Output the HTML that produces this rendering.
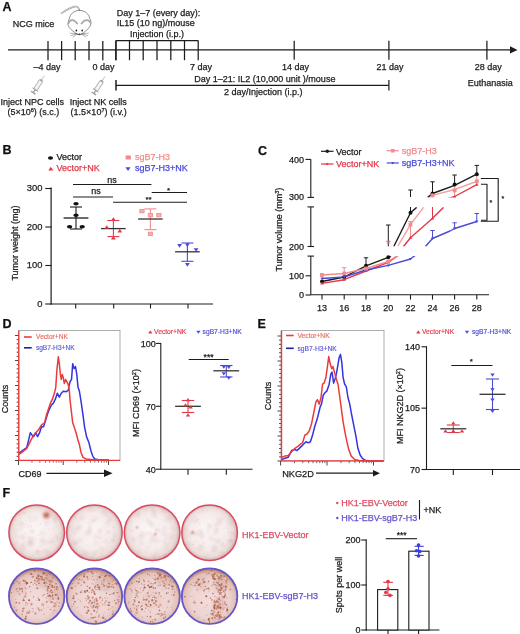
<!DOCTYPE html>
<html><head><meta charset="utf-8"><title>Figure</title>
<style>
html,body{margin:0;padding:0;background:#fff;}
svg{display:block;}
text{font-family:"Liberation Sans", Arial, sans-serif;}
</style></head>
<body>
<svg width="520" height="634" viewBox="0 0 520 634">
<rect width="520" height="634" fill="#fff"/>
<text x="2.60" y="11.30" font-size="12.5" fill="#111" stroke="#111" stroke-width="0.25" text-anchor="start" font-weight="bold" >A</text>
<text x="12.80" y="26.50" font-size="9" fill="#1c1c1c" stroke="#1c1c1c" stroke-width="0.25" text-anchor="start" font-weight="normal" >NCG mice</text>
<g fill="none" stroke="#8a8a8a" stroke-width="0.8" stroke-linecap="round">
<path d="M61.5,13.2 C65.5,10.6 70,7.6 74.5,6.6 C77,6.2 78.8,8 79.3,10.4" stroke="#999" stroke-width="1.6"/>
<path d="M61.5,13.2 C65.5,10.6 70,7.6 74.5,6.6 C77,6.2 78.8,8 79.3,10.4" stroke="#fff" stroke-width="0.5"/>
<path d="M79.3,10.3 C74,10.5 70,14 69.2,19 C68.5,21 67.6,23 68.2,25.5 C69,28 72,30.5 75.5,33 C77,34.3 78.3,34.6 79.3,34.6 C80.5,34.6 82,34 83.5,32.8 C86.5,30.5 89.5,28 90.6,25 C91.4,23 91,20.5 89.8,18.5 C89,14 85,10.3 79.3,10.3 Z" stroke="#6a6a6a" stroke-width="0.75" fill="#fff"/>
<path d="M68.6,23.3 C69.6,19.6 73.8,18.6 77.2,23.6" stroke="#a8a8a8" stroke-width="1.7"/>
<path d="M81.5,23.6 C84.9,18.6 89.1,19.6 90.3,22.6" stroke="#a8a8a8" stroke-width="1.7"/>
<path d="M76,33.6 L70.2,33.2 M76.2,34 L71,35.6 M76.6,34.3 L73,37 M82.6,33.6 L88.4,33.2 M82.4,34 L87.6,35.6 M82,34.3 L85.6,37" stroke="#555" stroke-width="0.45"/>
<path d="M76.5,33.6 C77.5,34.4 78.5,34.6 79.3,34.2 C80.1,34.6 81.1,34.4 82.1,33.6" stroke="#333" stroke-width="0.7"/>
</g>
<ellipse cx="76.4" cy="30.4" rx="0.85" ry="1" fill="#1a1a1a"/><ellipse cx="82.2" cy="30.4" rx="0.85" ry="1" fill="#1a1a1a"/>
<circle cx="79.30" cy="34.20" r="0.65" fill="#222"/>
<text x="116.70" y="16.00" font-size="9" fill="#1c1c1c" stroke="#1c1c1c" stroke-width="0.25" text-anchor="start" font-weight="normal" >Day 1–7 (every day):</text>
<text x="116.70" y="26.20" font-size="9" fill="#1c1c1c" stroke="#1c1c1c" stroke-width="0.25" text-anchor="start" font-weight="normal" >IL15 (10 ng)/mouse</text>
<text x="157.00" y="37.20" font-size="9" fill="#1c1c1c" stroke="#1c1c1c" stroke-width="0.25" text-anchor="middle" font-weight="normal" >Injection (i.p.)</text>
<line x1="8.00" y1="49.90" x2="511.00" y2="49.90" stroke="#1c1c1c" stroke-width="1.4" />
<polygon points="510,46.3 517.5,49.9 510,53.5" fill="#1c1c1c"/>
<line x1="48.00" y1="41.00" x2="48.00" y2="60.20" stroke="#1c1c1c" stroke-width="1.25" />
<line x1="61.60" y1="41.00" x2="61.60" y2="60.20" stroke="#1c1c1c" stroke-width="1.25" />
<line x1="75.20" y1="41.00" x2="75.20" y2="60.20" stroke="#1c1c1c" stroke-width="1.25" />
<line x1="89.00" y1="41.00" x2="89.00" y2="60.20" stroke="#1c1c1c" stroke-width="1.25" />
<line x1="102.80" y1="41.00" x2="102.80" y2="60.20" stroke="#1c1c1c" stroke-width="1.25" />
<line x1="116.00" y1="41.00" x2="116.00" y2="60.20" stroke="#1c1c1c" stroke-width="1.25" />
<line x1="115.80" y1="40.50" x2="198.20" y2="40.50" stroke="#1c1c1c" stroke-width="1.25" />
<line x1="115.80" y1="40.50" x2="115.80" y2="60.20" stroke="#1c1c1c" stroke-width="1.25" />
<line x1="129.50" y1="40.50" x2="129.50" y2="60.20" stroke="#1c1c1c" stroke-width="1.25" />
<line x1="143.20" y1="40.50" x2="143.20" y2="60.20" stroke="#1c1c1c" stroke-width="1.25" />
<line x1="157.00" y1="40.50" x2="157.00" y2="60.20" stroke="#1c1c1c" stroke-width="1.25" />
<line x1="170.80" y1="40.50" x2="170.80" y2="60.20" stroke="#1c1c1c" stroke-width="1.25" />
<line x1="184.50" y1="40.50" x2="184.50" y2="60.20" stroke="#1c1c1c" stroke-width="1.25" />
<line x1="198.20" y1="40.50" x2="198.20" y2="60.20" stroke="#1c1c1c" stroke-width="1.25" />
<line x1="294.20" y1="40.80" x2="294.20" y2="59.80" stroke="#1c1c1c" stroke-width="1.25" />
<line x1="388.90" y1="40.80" x2="388.90" y2="59.80" stroke="#1c1c1c" stroke-width="1.25" />
<line x1="486.90" y1="40.80" x2="486.90" y2="59.80" stroke="#1c1c1c" stroke-width="1.25" />
<text x="47.00" y="69.60" font-size="9" fill="#1c1c1c" stroke="#1c1c1c" stroke-width="0.25" text-anchor="middle" font-weight="normal" >–4 day</text>
<text x="103.50" y="69.60" font-size="9" fill="#1c1c1c" stroke="#1c1c1c" stroke-width="0.25" text-anchor="middle" font-weight="normal" >0 day</text>
<text x="201.00" y="69.60" font-size="9" fill="#1c1c1c" stroke="#1c1c1c" stroke-width="0.25" text-anchor="middle" font-weight="normal" >7 day</text>
<text x="295.60" y="69.60" font-size="9" fill="#1c1c1c" stroke="#1c1c1c" stroke-width="0.25" text-anchor="middle" font-weight="normal" >14 day</text>
<text x="390.00" y="69.60" font-size="9" fill="#1c1c1c" stroke="#1c1c1c" stroke-width="0.25" text-anchor="middle" font-weight="normal" >21 day</text>
<text x="488.30" y="69.60" font-size="9" fill="#1c1c1c" stroke="#1c1c1c" stroke-width="0.25" text-anchor="middle" font-weight="normal" >28 day</text>
<text x="490.30" y="86.00" font-size="9" fill="#1c1c1c" stroke="#1c1c1c" stroke-width="0.25" text-anchor="middle" font-weight="normal" >Euthanasia</text>
<line x1="116.00" y1="85.40" x2="388.90" y2="85.40" stroke="#1c1c1c" stroke-width="1.1" />
<line x1="116.00" y1="80.00" x2="116.00" y2="90.60" stroke="#1c1c1c" stroke-width="1.5" />
<line x1="388.90" y1="80.00" x2="388.90" y2="90.60" stroke="#1c1c1c" stroke-width="1.2" />
<text x="194.30" y="82.10" font-size="9" fill="#1c1c1c" stroke="#1c1c1c" stroke-width="0.25" text-anchor="start" font-weight="normal" >Day 1–21: IL2 (10,000 unit )/mouse</text>
<text x="263.20" y="95.40" font-size="9" fill="#1c1c1c" stroke="#1c1c1c" stroke-width="0.25" text-anchor="middle" font-weight="normal" >2 day/Injection (i.p.)</text>
<line x1="44.30" y1="75.80" x2="41.83" y2="79.56" stroke="#b0b0b0" stroke-width="0.8" />
<polygon points="42.66,80.11 42.51,81.80 39.50,79.83 40.99,79.01" fill="#9a9a9a"/>
<polygon points="42.59,81.86 36.83,90.63 33.65,88.55 39.42,79.77" fill="#f4f4f4" stroke="#9a9a9a" stroke-width="0.8"/>
<line x1="37.91" y1="91.35" x2="32.57" y2="87.83" stroke="#9a9a9a" stroke-width="1" />
<line x1="35.24" y1="89.59" x2="33.32" y2="92.52" stroke="#9a9a9a" stroke-width="1.2" />
<line x1="35.38" y1="94.11" x2="31.04" y2="91.25" stroke="#9a9a9a" stroke-width="1.3" />
<line x1="104.90" y1="76.60" x2="102.43" y2="80.36" stroke="#b0b0b0" stroke-width="0.8" />
<polygon points="103.26,80.91 103.11,82.60 100.10,80.63 101.59,79.81" fill="#9a9a9a"/>
<polygon points="103.19,82.66 97.43,91.43 94.25,89.35 100.02,80.57" fill="#f4f4f4" stroke="#9a9a9a" stroke-width="0.8"/>
<line x1="98.51" y1="92.15" x2="93.17" y2="88.63" stroke="#9a9a9a" stroke-width="1" />
<line x1="95.84" y1="90.39" x2="93.92" y2="93.32" stroke="#9a9a9a" stroke-width="1.2" />
<line x1="95.98" y1="94.91" x2="91.64" y2="92.05" stroke="#9a9a9a" stroke-width="1.3" />
<text x="32.30" y="105.00" font-size="9" fill="#1c1c1c" stroke="#1c1c1c" stroke-width="0.25" text-anchor="middle" font-weight="normal" >Inject NPC cells</text>
<text x="33.40" y="114.60" font-size="9" fill="#1c1c1c" stroke="#1c1c1c" stroke-width="0.25" text-anchor="middle" font-weight="normal" >(5×10<tspan font-size="5.5" dy="-3">6</tspan><tspan dy="3">) (s.c.)</tspan></text>
<text x="98.30" y="105.00" font-size="9" fill="#1c1c1c" stroke="#1c1c1c" stroke-width="0.25" text-anchor="middle" font-weight="normal" >Inject NK cells</text>
<text x="98.70" y="114.60" font-size="9" fill="#1c1c1c" stroke="#1c1c1c" stroke-width="0.25" text-anchor="middle" font-weight="normal" >(1.5×10<tspan font-size="5.5" dy="-3">7</tspan><tspan dy="3">) (i.v.)</tspan></text>
<text x="2.60" y="153.80" font-size="12.5" fill="#111" stroke="#111" stroke-width="0.25" text-anchor="start" font-weight="bold" >B</text>
<ellipse cx="50.50" cy="158.00" rx="2.56" ry="1.72" fill="#111"/>
<text x="56.50" y="159.90" font-size="9" fill="#1c1c1c" stroke="#1c1c1c" stroke-width="0.25" text-anchor="start" font-weight="normal" >Vector</text>
<polygon points="50.80,166.78 48.30,170.48 53.30,170.48" fill="#e2394a"/>
<text x="56.50" y="171.30" font-size="9" fill="#e2394a" stroke="#e2394a" stroke-width="0.25" text-anchor="start" font-weight="normal" >Vector+NK</text>
<rect x="126.02" y="155.92" width="4.56" height="3.17" fill="#f08c8e" stroke="#f08c8e" stroke-width="0.8"/>
<text x="135.00" y="159.60" font-size="9" fill="#f08c8e" stroke="#f08c8e" stroke-width="0.25" text-anchor="start" font-weight="normal" >sgB7-H3</text>
<polygon points="128.00,171.01 125.40,167.16 130.60,167.16" fill="#4b4bd8"/>
<text x="135.00" y="170.80" font-size="9" fill="#4b4bd8" stroke="#4b4bd8" stroke-width="0.25" text-anchor="start" font-weight="normal" >sgB7-H3+NK</text>
<line x1="51.10" y1="187.50" x2="51.10" y2="304.50" stroke="#1c1c1c" stroke-width="1.2" />
<line x1="50.60" y1="304.00" x2="213.00" y2="304.00" stroke="#1c1c1c" stroke-width="1.2" />
<line x1="45.30" y1="304.00" x2="51.50" y2="304.00" stroke="#1c1c1c" stroke-width="1.1" />
<text x="42.40" y="306.60" font-size="9.4" fill="#1c1c1c" stroke="#1c1c1c" stroke-width="0.25" text-anchor="end" font-weight="normal" >0</text>
<line x1="45.30" y1="265.50" x2="51.50" y2="265.50" stroke="#1c1c1c" stroke-width="1.1" />
<text x="42.40" y="268.10" font-size="9.4" fill="#1c1c1c" stroke="#1c1c1c" stroke-width="0.25" text-anchor="end" font-weight="normal" >100</text>
<line x1="45.30" y1="227.00" x2="51.50" y2="227.00" stroke="#1c1c1c" stroke-width="1.1" />
<text x="42.40" y="229.60" font-size="9.4" fill="#1c1c1c" stroke="#1c1c1c" stroke-width="0.25" text-anchor="end" font-weight="normal" >200</text>
<line x1="45.30" y1="188.50" x2="51.50" y2="188.50" stroke="#1c1c1c" stroke-width="1.1" />
<text x="42.40" y="191.10" font-size="9.4" fill="#1c1c1c" stroke="#1c1c1c" stroke-width="0.25" text-anchor="end" font-weight="normal" >300</text>
<line x1="75.70" y1="304.00" x2="75.70" y2="308.50" stroke="#1c1c1c" stroke-width="1.1" />
<line x1="113.70" y1="304.00" x2="113.70" y2="308.50" stroke="#1c1c1c" stroke-width="1.1" />
<line x1="150.50" y1="304.00" x2="150.50" y2="308.50" stroke="#1c1c1c" stroke-width="1.1" />
<line x1="188.00" y1="304.00" x2="188.00" y2="308.50" stroke="#1c1c1c" stroke-width="1.1" />
<text x="0.00" y="0.00" font-size="9" fill="#1c1c1c" stroke="#1c1c1c" stroke-width="0.25" text-anchor="middle" font-weight="normal" transform="translate(17.9,243) rotate(-90)">Tumor weight (mg)</text>
<line x1="73.00" y1="184.50" x2="151.40" y2="184.50" stroke="#1c1c1c" stroke-width="1.1" />
<text x="112.00" y="183.20" font-size="9" fill="#1c1c1c" stroke="#1c1c1c" stroke-width="0.25" text-anchor="middle" font-weight="normal" >ns</text>
<line x1="73.00" y1="197.00" x2="113.00" y2="197.00" stroke="#1c1c1c" stroke-width="1.1" />
<text x="96.00" y="193.60" font-size="9" fill="#1c1c1c" stroke="#1c1c1c" stroke-width="0.25" text-anchor="middle" font-weight="normal" >ns</text>
<line x1="151.70" y1="192.50" x2="187.00" y2="192.50" stroke="#1c1c1c" stroke-width="1.1" />
<text x="168.50" y="193.20" font-size="8" fill="#1c1c1c" stroke="#1c1c1c" stroke-width="0.25" text-anchor="middle" font-weight="normal" >*</text>
<line x1="113.00" y1="202.30" x2="187.00" y2="202.30" stroke="#1c1c1c" stroke-width="1.1" />
<text x="148.50" y="201.80" font-size="8" fill="#1c1c1c" stroke="#1c1c1c" stroke-width="0.25" text-anchor="middle" font-weight="normal" >**</text>
<line x1="76.00" y1="207.00" x2="76.00" y2="229.00" stroke="#1c1c1c" stroke-width="1.1" />
<line x1="70.00" y1="207.00" x2="82.00" y2="207.00" stroke="#1c1c1c" stroke-width="1.1" />
<line x1="70.00" y1="229.00" x2="82.00" y2="229.00" stroke="#1c1c1c" stroke-width="1.1" />
<line x1="63.60" y1="218.00" x2="88.40" y2="218.00" stroke="#1c1c1c" stroke-width="1.3" />
<ellipse cx="76.00" cy="203.80" rx="2.68" ry="1.80" fill="#111"/>
<ellipse cx="76.00" cy="215.20" rx="2.68" ry="1.80" fill="#111"/>
<ellipse cx="69.60" cy="226.80" rx="2.68" ry="1.80" fill="#111"/>
<ellipse cx="82.20" cy="226.80" rx="2.68" ry="1.80" fill="#111"/>
<line x1="113.40" y1="220.50" x2="113.40" y2="236.60" stroke="#e2394a" stroke-width="1.1" />
<line x1="107.40" y1="220.50" x2="119.40" y2="220.50" stroke="#e2394a" stroke-width="1.1" />
<line x1="107.40" y1="236.60" x2="119.40" y2="236.60" stroke="#e2394a" stroke-width="1.1" />
<line x1="101.10" y1="228.60" x2="125.70" y2="228.60" stroke="#333" stroke-width="1.3" />
<polygon points="113.40,217.17 111.00,220.72 115.80,220.72" fill="#e2394a"/>
<polygon points="106.80,225.27 104.40,228.82 109.20,228.82" fill="#e2394a"/>
<polygon points="119.80,228.87 117.40,232.42 122.20,232.42" fill="#e2394a"/>
<polygon points="113.40,235.87 111.00,239.42 115.80,239.42" fill="#e2394a"/>
<line x1="150.40" y1="208.90" x2="150.40" y2="229.60" stroke="#f08c8e" stroke-width="1.1" />
<line x1="144.40" y1="208.90" x2="156.40" y2="208.90" stroke="#f08c8e" stroke-width="1.1" />
<line x1="144.40" y1="229.60" x2="156.40" y2="229.60" stroke="#f08c8e" stroke-width="1.1" />
<line x1="138.10" y1="219.00" x2="162.70" y2="219.00" stroke="#333" stroke-width="1.3" />
<rect x="139.87" y="209.59" width="4.25" height="3.22" fill="#f6b0b0" stroke="#ec8a8c" stroke-width="0.8"/>
<rect x="148.27" y="213.59" width="4.25" height="3.22" fill="#f6b0b0" stroke="#ec8a8c" stroke-width="0.8"/>
<rect x="156.77" y="213.59" width="4.25" height="3.22" fill="#f6b0b0" stroke="#ec8a8c" stroke-width="0.8"/>
<rect x="148.27" y="232.19" width="4.25" height="3.22" fill="#f6b0b0" stroke="#ec8a8c" stroke-width="0.8"/>
<line x1="187.40" y1="243.00" x2="187.40" y2="261.30" stroke="#4b4bd8" stroke-width="1.1" />
<line x1="181.40" y1="243.00" x2="193.40" y2="243.00" stroke="#4b4bd8" stroke-width="1.1" />
<line x1="181.40" y1="261.30" x2="193.40" y2="261.30" stroke="#4b4bd8" stroke-width="1.1" />
<line x1="175.10" y1="251.80" x2="199.70" y2="251.80" stroke="#333" stroke-width="1.3" />
<polygon points="179.60,247.63 177.20,244.08 182.00,244.08" fill="#4b4bd8"/>
<polygon points="187.40,246.93 185.00,243.38 189.80,243.38" fill="#4b4bd8"/>
<polygon points="196.10,251.83 193.70,248.28 198.50,248.28" fill="#4b4bd8"/>
<polygon points="187.40,266.63 185.00,263.08 189.80,263.08" fill="#4b4bd8"/>
<text x="258.00" y="154.80" font-size="12.5" fill="#111" stroke="#111" stroke-width="0.25" text-anchor="start" font-weight="bold" >C</text>
<line x1="321.00" y1="151.30" x2="333.50" y2="151.30" stroke="#1c1c1c" stroke-width="1.2" />
<circle cx="327.25" cy="151.30" r="1.8" fill="#1c1c1c"/>
<text x="336.00" y="154.50" font-size="9" fill="#1c1c1c" stroke="#1c1c1c" stroke-width="0.25" text-anchor="start" font-weight="normal" >Vector</text>
<line x1="321.00" y1="164.00" x2="333.50" y2="164.00" stroke="#e2394a" stroke-width="1.2" />
<polygon points="327.25,162.49 325.55,165.01 328.95,165.01" fill="#e2394a"/>
<text x="336.00" y="167.20" font-size="9" fill="#e2394a" stroke="#e2394a" stroke-width="0.25" text-anchor="start" font-weight="normal" >Vector+NK</text>
<line x1="386.70" y1="150.70" x2="398.80" y2="150.70" stroke="#f08c8e" stroke-width="1.2" />
<rect x="391.35" y="149.30" width="2.80" height="2.80" fill="#f08c8e" stroke="#f08c8e" stroke-width="0.8"/>
<text x="401.70" y="153.90" font-size="9" fill="#f08c8e" stroke="#f08c8e" stroke-width="0.25" text-anchor="start" font-weight="normal" >sgB7-H3</text>
<line x1="386.70" y1="163.00" x2="398.80" y2="163.00" stroke="#4b4bd8" stroke-width="1.2" />
<polygon points="392.75,164.51 391.05,161.99 394.45,161.99" fill="#4b4bd8"/>
<text x="401.70" y="166.20" font-size="9" fill="#4b4bd8" stroke="#4b4bd8" stroke-width="0.25" text-anchor="start" font-weight="normal" >sgB7-H3+NK</text>
<line x1="310.80" y1="159.20" x2="310.80" y2="197.40" stroke="#1c1c1c" stroke-width="1.1" />
<line x1="310.80" y1="206.90" x2="310.80" y2="246.50" stroke="#1c1c1c" stroke-width="1.1" />
<line x1="310.80" y1="256.10" x2="310.80" y2="295.00" stroke="#1c1c1c" stroke-width="1.1" />
<line x1="305.50" y1="159.40" x2="310.80" y2="159.40" stroke="#1c1c1c" stroke-width="1.1" />
<text x="304.00" y="162.60" font-size="9" fill="#1c1c1c" stroke="#1c1c1c" stroke-width="0.25" text-anchor="end" font-weight="normal" >400</text>
<line x1="307.50" y1="197.40" x2="314.00" y2="197.40" stroke="#1c1c1c" stroke-width="1.1" />
<text x="304.00" y="199.90" font-size="9" fill="#1c1c1c" stroke="#1c1c1c" stroke-width="0.25" text-anchor="end" font-weight="normal" >300</text>
<line x1="307.50" y1="206.90" x2="314.00" y2="206.90" stroke="#1c1c1c" stroke-width="1.1" />
<line x1="307.50" y1="246.50" x2="314.00" y2="246.50" stroke="#1c1c1c" stroke-width="1.1" />
<text x="304.00" y="249.80" font-size="9" fill="#1c1c1c" stroke="#1c1c1c" stroke-width="0.25" text-anchor="end" font-weight="normal" >200</text>
<line x1="307.50" y1="256.10" x2="314.00" y2="256.10" stroke="#1c1c1c" stroke-width="1.1" />
<line x1="305.50" y1="275.80" x2="310.80" y2="275.80" stroke="#1c1c1c" stroke-width="1.1" />
<text x="304.00" y="279.00" font-size="9" fill="#1c1c1c" stroke="#1c1c1c" stroke-width="0.25" text-anchor="end" font-weight="normal" >100</text>
<line x1="305.50" y1="295.00" x2="310.80" y2="295.00" stroke="#1c1c1c" stroke-width="1.1" />
<text x="304.00" y="298.20" font-size="9" fill="#1c1c1c" stroke="#1c1c1c" stroke-width="0.25" text-anchor="end" font-weight="normal" >0</text>
<line x1="310.80" y1="294.80" x2="489.00" y2="294.80" stroke="#1c1c1c" stroke-width="1.1" />
<line x1="322.00" y1="294.80" x2="322.00" y2="299.60" stroke="#1c1c1c" stroke-width="1.1" />
<text x="322.00" y="310.80" font-size="9" fill="#1c1c1c" stroke="#1c1c1c" stroke-width="0.25" text-anchor="middle" font-weight="normal" >13</text>
<line x1="344.20" y1="294.80" x2="344.20" y2="299.60" stroke="#1c1c1c" stroke-width="1.1" />
<text x="344.20" y="310.80" font-size="9" fill="#1c1c1c" stroke="#1c1c1c" stroke-width="0.25" text-anchor="middle" font-weight="normal" >16</text>
<line x1="366.00" y1="294.80" x2="366.00" y2="299.60" stroke="#1c1c1c" stroke-width="1.1" />
<text x="366.00" y="310.80" font-size="9" fill="#1c1c1c" stroke="#1c1c1c" stroke-width="0.25" text-anchor="middle" font-weight="normal" >18</text>
<line x1="388.30" y1="294.80" x2="388.30" y2="299.60" stroke="#1c1c1c" stroke-width="1.1" />
<text x="388.30" y="310.80" font-size="9" fill="#1c1c1c" stroke="#1c1c1c" stroke-width="0.25" text-anchor="middle" font-weight="normal" >20</text>
<line x1="410.50" y1="294.80" x2="410.50" y2="299.60" stroke="#1c1c1c" stroke-width="1.1" />
<text x="410.50" y="310.80" font-size="9" fill="#1c1c1c" stroke="#1c1c1c" stroke-width="0.25" text-anchor="middle" font-weight="normal" >22</text>
<line x1="432.50" y1="294.80" x2="432.50" y2="299.60" stroke="#1c1c1c" stroke-width="1.1" />
<text x="432.50" y="310.80" font-size="9" fill="#1c1c1c" stroke="#1c1c1c" stroke-width="0.25" text-anchor="middle" font-weight="normal" >24</text>
<line x1="454.60" y1="294.80" x2="454.60" y2="299.60" stroke="#1c1c1c" stroke-width="1.1" />
<text x="454.60" y="310.80" font-size="9" fill="#1c1c1c" stroke="#1c1c1c" stroke-width="0.25" text-anchor="middle" font-weight="normal" >26</text>
<line x1="476.80" y1="294.80" x2="476.80" y2="299.60" stroke="#1c1c1c" stroke-width="1.1" />
<text x="476.80" y="310.80" font-size="9" fill="#1c1c1c" stroke="#1c1c1c" stroke-width="0.25" text-anchor="middle" font-weight="normal" >28</text>
<text x="0.00" y="0.00" font-size="9" fill="#1c1c1c" stroke="#1c1c1c" stroke-width="0.25" text-anchor="middle" font-weight="normal" transform="translate(282,229.6) rotate(-90)">Tumor volume (mm<tspan font-size="5.5" dy="-3">3</tspan><tspan dy="3">)</tspan></text>
<defs><clipPath id="s1"><rect x="312" y="150" width="200" height="47.4"/></clipPath><clipPath id="s2"><rect x="312" y="206.9" width="200" height="39.6"/></clipPath><clipPath id="s3"><rect x="312" y="256.1" width="200" height="45"/></clipPath></defs>
<g clip-path="url(#s3)">
<polyline points="322.00,281.50 344.20,277.00 366.00,265.80 388.30,257.30 395.00,253.00" stroke="#1c1c1c" stroke-width="1.4" fill="none" stroke-linejoin="round" />
<polyline points="322.00,283.40 344.20,279.70 366.00,271.00 388.30,262.40 400.00,254.00" stroke="#e2394a" stroke-width="1.4" fill="none" stroke-linejoin="round" />
<polyline points="322.00,275.00 344.20,273.50 366.00,268.50 388.30,261.50 400.00,254.00" stroke="#f08c8e" stroke-width="1.4" fill="none" stroke-linejoin="round" />
<polyline points="322.00,278.50 344.20,277.00 366.00,270.00 388.30,265.40 410.50,259.00 417.00,254.00" stroke="#4b4bd8" stroke-width="1.4" fill="none" stroke-linejoin="round" />
<line x1="344.20" y1="267.70" x2="344.20" y2="273.50" stroke="#f08c8e" stroke-width="1" />
<line x1="342.00" y1="267.70" x2="346.40" y2="267.70" stroke="#f08c8e" stroke-width="1" />
<line x1="366.00" y1="257.80" x2="366.00" y2="265.80" stroke="#1c1c1c" stroke-width="1" />
<line x1="363.80" y1="257.80" x2="368.20" y2="257.80" stroke="#1c1c1c" stroke-width="1" />
</g>
<circle cx="322.00" cy="281.50" r="2" fill="#111"/>
<circle cx="344.20" cy="277.00" r="2" fill="#111"/>
<circle cx="366.00" cy="265.80" r="2" fill="#111"/>
<circle cx="388.30" cy="257.30" r="2" fill="#111"/>
<polygon points="322.00,281.80 320.20,284.47 323.80,284.47" fill="#e2394a"/>
<polygon points="344.20,278.10 342.40,280.77 346.00,280.77" fill="#e2394a"/>
<polygon points="366.00,269.40 364.20,272.07 367.80,272.07" fill="#e2394a"/>
<polygon points="388.30,260.80 386.50,263.47 390.10,263.47" fill="#e2394a"/>
<polygon points="322.00,280.01 320.30,277.49 323.70,277.49" fill="#4b4bd8"/>
<polygon points="344.20,278.51 342.50,275.99 345.90,275.99" fill="#4b4bd8"/>
<polygon points="366.00,271.51 364.30,268.99 367.70,268.99" fill="#4b4bd8"/>
<polygon points="388.30,266.91 386.60,264.39 390.00,264.39" fill="#4b4bd8"/>
<polygon points="410.50,260.51 408.80,257.99 412.20,257.99" fill="#4b4bd8"/>
<rect x="320.50" y="273.50" width="3.00" height="3.00" fill="#f08c8e" stroke="#f08c8e" stroke-width="0.8"/>
<rect x="342.70" y="272.00" width="3.00" height="3.00" fill="#f08c8e" stroke="#f08c8e" stroke-width="0.8"/>
<rect x="364.50" y="267.00" width="3.00" height="3.00" fill="#f08c8e" stroke="#f08c8e" stroke-width="0.8"/>
<rect x="386.80" y="260.00" width="3.00" height="3.00" fill="#f08c8e" stroke="#f08c8e" stroke-width="0.8"/>
<g clip-path="url(#s2)">
<polyline points="393.80,246.50 410.50,212.80 416.60,207.40" stroke="#1c1c1c" stroke-width="1.4" fill="none" stroke-linejoin="round" />
<polyline points="397.70,246.50 410.50,224.60 423.50,207.40" stroke="#f4a0a0" stroke-width="1.4" fill="none" stroke-linejoin="round" />
<polyline points="403.50,246.50 410.50,237.70 432.30,218.50 443.50,207.40" stroke="#e2394a" stroke-width="1.4" fill="none" stroke-linejoin="round" />
<polyline points="425.40,246.50 432.50,238.50 450.00,231.00 454.60,228.50 476.80,221.50" stroke="#4b4bd8" stroke-width="1.4" fill="none" stroke-linejoin="round" />
<line x1="388.30" y1="225.00" x2="388.30" y2="246.50" stroke="#1c1c1c" stroke-width="1" />
<line x1="386.00" y1="225.00" x2="390.60" y2="225.00" stroke="#1c1c1c" stroke-width="1" />
<line x1="386.20" y1="241.30" x2="390.40" y2="241.30" stroke="#e87080" stroke-width="1.2" />
<line x1="386.60" y1="243.00" x2="390.00" y2="243.00" stroke="#e87080" stroke-width="0.8" />
<line x1="410.50" y1="207.00" x2="410.50" y2="212.80" stroke="#1c1c1c" stroke-width="1" />
<line x1="410.50" y1="221.50" x2="410.50" y2="237.00" stroke="#f08c8e" stroke-width="1" />
<line x1="408.30" y1="221.50" x2="412.70" y2="221.50" stroke="#f08c8e" stroke-width="1" />
<line x1="432.50" y1="207.00" x2="432.50" y2="218.50" stroke="#e2394a" stroke-width="1" />
<line x1="432.50" y1="230.50" x2="432.50" y2="238.50" stroke="#4b4bd8" stroke-width="1" />
<line x1="430.30" y1="230.50" x2="434.70" y2="230.50" stroke="#4b4bd8" stroke-width="1" />
<line x1="454.60" y1="222.80" x2="454.60" y2="228.50" stroke="#4b4bd8" stroke-width="1" />
<line x1="452.40" y1="222.80" x2="456.80" y2="222.80" stroke="#4b4bd8" stroke-width="1" />
<line x1="476.80" y1="213.50" x2="476.80" y2="221.50" stroke="#4b4bd8" stroke-width="1" />
<line x1="474.60" y1="213.50" x2="479.00" y2="213.50" stroke="#4b4bd8" stroke-width="1" />
</g>
<circle cx="410.50" cy="212.80" r="2" fill="#111"/>
<polygon points="410.50,236.10 408.70,238.77 412.30,238.77" fill="#e2394a"/>
<rect x="409.00" y="223.10" width="3.00" height="3.00" fill="#f08c8e" stroke="#f08c8e" stroke-width="0.8"/>
<polygon points="432.50,216.90 430.70,219.57 434.30,219.57" fill="#e2394a"/>
<polygon points="432.50,240.01 430.80,237.49 434.20,237.49" fill="#4b4bd8"/>
<polygon points="454.60,230.01 452.90,227.49 456.30,227.49" fill="#4b4bd8"/>
<polygon points="476.80,223.01 475.10,220.49 478.50,220.49" fill="#4b4bd8"/>
<line x1="410.50" y1="190.00" x2="410.50" y2="197.00" stroke="#1c1c1c" stroke-width="1" />
<line x1="408.30" y1="190.00" x2="412.70" y2="190.00" stroke="#1c1c1c" stroke-width="1" />
<g clip-path="url(#s1)">
<polyline points="427.70,197.40 432.50,193.50 454.60,185.30 476.80,174.20" stroke="#1c1c1c" stroke-width="1.4" fill="none" stroke-linejoin="round" />
<polyline points="427.70,200.00 432.50,195.40 454.60,189.50 476.80,181.30" stroke="#f4a0a0" stroke-width="1.4" fill="none" stroke-linejoin="round" />
<polyline points="440.00,201.00 454.60,196.50 476.80,184.70" stroke="#e2394a" stroke-width="1.4" fill="none" stroke-linejoin="round" />
<line x1="432.50" y1="181.80" x2="432.50" y2="193.50" stroke="#1c1c1c" stroke-width="1" />
<line x1="430.30" y1="181.80" x2="434.70" y2="181.80" stroke="#1c1c1c" stroke-width="1" />
<line x1="454.60" y1="175.00" x2="454.60" y2="185.30" stroke="#1c1c1c" stroke-width="1" />
<line x1="452.40" y1="175.00" x2="456.80" y2="175.00" stroke="#1c1c1c" stroke-width="1" />
<line x1="476.80" y1="165.40" x2="476.80" y2="174.20" stroke="#1c1c1c" stroke-width="1" />
<line x1="474.60" y1="165.40" x2="479.00" y2="165.40" stroke="#1c1c1c" stroke-width="1" />
<line x1="454.60" y1="185.30" x2="454.60" y2="196.50" stroke="#f08c8e" stroke-width="1" />
<line x1="476.80" y1="174.20" x2="476.80" y2="184.70" stroke="#f08c8e" stroke-width="1" />
<line x1="432.50" y1="193.50" x2="432.50" y2="197.40" stroke="#f08c8e" stroke-width="1" />
</g>
<circle cx="432.50" cy="193.50" r="2" fill="#111"/>
<circle cx="454.60" cy="184.60" r="2" fill="#111"/>
<circle cx="476.80" cy="174.20" r="2" fill="#111"/>
<rect x="431.00" y="193.90" width="3.00" height="3.00" fill="#f08c8e" stroke="#f08c8e" stroke-width="0.8"/>
<rect x="453.10" y="189.00" width="3.00" height="3.00" fill="#f08c8e" stroke="#f08c8e" stroke-width="0.8"/>
<rect x="475.30" y="179.80" width="3.00" height="3.00" fill="#f08c8e" stroke="#f08c8e" stroke-width="0.8"/>
<polygon points="454.60,194.90 452.80,197.57 456.40,197.57" fill="#e2394a"/>
<polygon points="476.80,183.10 475.00,185.77 478.60,185.77" fill="#e2394a"/>
<polyline points="480.80,178.50 498.20,178.50 498.20,221.20 480.80,221.20" stroke="#1c1c1c" stroke-width="1.1" fill="none" stroke-linejoin="round" />
<polyline points="481.00,184.20 487.00,184.20 487.00,220.30 481.00,220.30" stroke="#1c1c1c" stroke-width="1.1" fill="none" stroke-linejoin="round" />
<text x="502.80" y="201.30" font-size="7" fill="#1c1c1c" stroke="#1c1c1c" stroke-width="0.25" text-anchor="middle" font-weight="normal" >*</text>
<text x="490.80" y="204.70" font-size="7" fill="#1c1c1c" stroke="#1c1c1c" stroke-width="0.25" text-anchor="middle" font-weight="normal" >*</text>
<text x="2.60" y="327.80" font-size="12.5" fill="#111" stroke="#111" stroke-width="0.25" text-anchor="start" font-weight="bold" >D</text>
<rect x="18.5" y="330.5" width="101.5" height="130.0" fill="none" stroke="#9a9a9a" stroke-width="0.8"/>
<text x="0.00" y="0.00" font-size="9" fill="#1c1c1c" stroke="#1c1c1c" stroke-width="0.25" text-anchor="middle" font-weight="normal" transform="translate(7.6,399) rotate(-90)">Counts</text>
<line x1="15.00" y1="460.50" x2="18.80" y2="460.50" stroke="#333" stroke-width="0.9" />
<line x1="16.60" y1="456.33" x2="18.80" y2="456.33" stroke="#333" stroke-width="0.9" />
<line x1="16.60" y1="452.17" x2="18.80" y2="452.17" stroke="#333" stroke-width="0.9" />
<line x1="16.60" y1="448.00" x2="18.80" y2="448.00" stroke="#333" stroke-width="0.9" />
<line x1="16.60" y1="443.83" x2="18.80" y2="443.83" stroke="#333" stroke-width="0.9" />
<line x1="16.60" y1="439.67" x2="18.80" y2="439.67" stroke="#333" stroke-width="0.9" />
<line x1="15.00" y1="435.50" x2="18.80" y2="435.50" stroke="#333" stroke-width="0.9" />
<line x1="16.60" y1="431.33" x2="18.80" y2="431.33" stroke="#333" stroke-width="0.9" />
<line x1="16.60" y1="427.17" x2="18.80" y2="427.17" stroke="#333" stroke-width="0.9" />
<line x1="16.60" y1="423.00" x2="18.80" y2="423.00" stroke="#333" stroke-width="0.9" />
<line x1="16.60" y1="418.83" x2="18.80" y2="418.83" stroke="#333" stroke-width="0.9" />
<line x1="16.60" y1="414.67" x2="18.80" y2="414.67" stroke="#333" stroke-width="0.9" />
<line x1="15.00" y1="410.50" x2="18.80" y2="410.50" stroke="#333" stroke-width="0.9" />
<line x1="16.60" y1="406.33" x2="18.80" y2="406.33" stroke="#333" stroke-width="0.9" />
<line x1="16.60" y1="402.17" x2="18.80" y2="402.17" stroke="#333" stroke-width="0.9" />
<line x1="16.60" y1="398.00" x2="18.80" y2="398.00" stroke="#333" stroke-width="0.9" />
<line x1="16.60" y1="393.83" x2="18.80" y2="393.83" stroke="#333" stroke-width="0.9" />
<line x1="16.60" y1="389.67" x2="18.80" y2="389.67" stroke="#333" stroke-width="0.9" />
<line x1="15.00" y1="385.50" x2="18.80" y2="385.50" stroke="#333" stroke-width="0.9" />
<line x1="16.60" y1="381.33" x2="18.80" y2="381.33" stroke="#333" stroke-width="0.9" />
<line x1="16.60" y1="377.17" x2="18.80" y2="377.17" stroke="#333" stroke-width="0.9" />
<line x1="16.60" y1="373.00" x2="18.80" y2="373.00" stroke="#333" stroke-width="0.9" />
<line x1="16.60" y1="368.83" x2="18.80" y2="368.83" stroke="#333" stroke-width="0.9" />
<line x1="16.60" y1="364.67" x2="18.80" y2="364.67" stroke="#333" stroke-width="0.9" />
<line x1="15.00" y1="360.50" x2="18.80" y2="360.50" stroke="#333" stroke-width="0.9" />
<line x1="16.60" y1="356.33" x2="18.80" y2="356.33" stroke="#333" stroke-width="0.9" />
<line x1="16.60" y1="352.17" x2="18.80" y2="352.17" stroke="#333" stroke-width="0.9" />
<line x1="16.60" y1="348.00" x2="18.80" y2="348.00" stroke="#333" stroke-width="0.9" />
<line x1="16.60" y1="343.83" x2="18.80" y2="343.83" stroke="#333" stroke-width="0.9" />
<line x1="16.60" y1="339.67" x2="18.80" y2="339.67" stroke="#333" stroke-width="0.9" />
<line x1="15.00" y1="335.50" x2="18.80" y2="335.50" stroke="#333" stroke-width="0.9" />
<line x1="18.50" y1="460.50" x2="18.50" y2="465.00" stroke="#333" stroke-width="0.9" />
<line x1="63.20" y1="460.50" x2="63.20" y2="465.00" stroke="#333" stroke-width="0.9" />
<line x1="108.50" y1="460.50" x2="108.50" y2="465.00" stroke="#333" stroke-width="0.9" />
<line x1="31.96" y1="460.50" x2="31.96" y2="462.70" stroke="#333" stroke-width="0.7" />
<line x1="39.83" y1="460.50" x2="39.83" y2="462.70" stroke="#333" stroke-width="0.7" />
<line x1="45.41" y1="460.50" x2="45.41" y2="462.70" stroke="#333" stroke-width="0.7" />
<line x1="49.74" y1="460.50" x2="49.74" y2="462.70" stroke="#333" stroke-width="0.7" />
<line x1="53.28" y1="460.50" x2="53.28" y2="462.70" stroke="#333" stroke-width="0.7" />
<line x1="56.28" y1="460.50" x2="56.28" y2="462.70" stroke="#333" stroke-width="0.7" />
<line x1="58.87" y1="460.50" x2="58.87" y2="462.70" stroke="#333" stroke-width="0.7" />
<line x1="61.15" y1="460.50" x2="61.15" y2="462.70" stroke="#333" stroke-width="0.7" />
<line x1="76.84" y1="460.50" x2="76.84" y2="462.70" stroke="#333" stroke-width="0.7" />
<line x1="84.81" y1="460.50" x2="84.81" y2="462.70" stroke="#333" stroke-width="0.7" />
<line x1="90.47" y1="460.50" x2="90.47" y2="462.70" stroke="#333" stroke-width="0.7" />
<line x1="94.86" y1="460.50" x2="94.86" y2="462.70" stroke="#333" stroke-width="0.7" />
<line x1="98.45" y1="460.50" x2="98.45" y2="462.70" stroke="#333" stroke-width="0.7" />
<line x1="101.48" y1="460.50" x2="101.48" y2="462.70" stroke="#333" stroke-width="0.7" />
<line x1="104.11" y1="460.50" x2="104.11" y2="462.70" stroke="#333" stroke-width="0.7" />
<line x1="106.43" y1="460.50" x2="106.43" y2="462.70" stroke="#333" stroke-width="0.7" />
<polyline points="18.88,453.41 22.82,450.45 26.77,447.50 28.74,439.61 30.32,432.70 31.70,434.67 33.67,436.65 35.64,432.70 37.61,436.65 39.59,432.70 41.56,426.79 43.53,426.79 45.50,420.87 47.48,413.96 49.45,409.03 51.42,405.09 53.39,403.12 55.36,399.17 57.34,393.25 59.31,397.20 61.28,393.25 63.25,391.28 66.21,391.68 68.19,390.30 69.17,385.36 70.16,381.42 71.54,379.45 72.72,363.67 74.10,368.60 75.48,366.63 76.67,373.53 78.05,387.34 79.43,391.28 81.01,401.14 82.98,414.95 84.56,426.79 86.53,436.65 88.90,442.56 90.87,450.45 92.84,456.37 94.81,458.93 98.76,459.72 108.62,459.72" stroke="#3434e0" stroke-width="1.5" fill="none" stroke-linejoin="round" />
<polyline points="18.88,454.40 21.83,452.43 26.77,448.48 29.72,442.56 32.68,436.65 35.64,432.70 38.60,429.74 41.56,424.81 44.52,422.84 46.49,414.95 48.46,409.03 50.43,403.12 52.41,399.17 54.38,393.25 55.76,387.34 56.94,369.59 58.32,356.77 59.31,363.67 60.30,373.53 61.28,379.45 62.27,374.52 63.25,377.48 64.24,383.39 65.62,379.45 67.20,382.41 68.19,384.38 69.17,389.31 70.16,401.14 71.54,412.98 72.72,422.84 74.10,426.79 76.07,432.70 78.05,440.59 79.43,444.54 81.01,452.43 82.98,457.36 85.94,458.93 92.84,459.72 108.62,459.72" stroke="#ec3b3b" stroke-width="1.5" fill="none" stroke-linejoin="round" />
<line x1="18.80" y1="331.00" x2="18.80" y2="460.50" stroke="#ec3b3b" stroke-width="1.4" />
<line x1="18.80" y1="460.30" x2="120.00" y2="460.30" stroke="#ec3b3b" stroke-width="1.2" />
<line x1="24.00" y1="337.00" x2="31.70" y2="337.00" stroke="#ec3b3b" stroke-width="1.6" />
<text x="36.10" y="339.40" font-size="6.6" fill="#e86a62" stroke="#e86a62" stroke-width="0.15" text-anchor="start" font-weight="normal" >Vector+NK</text>
<line x1="24.00" y1="347.80" x2="31.70" y2="347.80" stroke="#2020a0" stroke-width="1.6" />
<text x="35.90" y="349.60" font-size="6.6" fill="#5a5ad8" stroke="#5a5ad8" stroke-width="0.15" text-anchor="start" font-weight="normal" >sgB7-H3+NK</text>
<text x="18.60" y="476.60" font-size="9" fill="#1c1c1c" stroke="#1c1c1c" stroke-width="0.25" text-anchor="start" font-weight="normal" >CD69</text>
<line x1="46.50" y1="473.30" x2="106.00" y2="473.30" stroke="#1c1c1c" stroke-width="1.3" />
<polygon points="104,469.6 112.6,473.3 104,477" fill="#1c1c1c"/>
<polygon points="150.30,330.34 148.20,333.44 152.40,333.44" fill="#e2394a"/>
<text x="154.10" y="334.20" font-size="6.7" fill="#e2394a" stroke="#e2394a" stroke-width="0.15" text-anchor="start" font-weight="normal" >Vector+NK</text>
<polygon points="198.40,333.86 196.30,330.76 200.50,330.76" fill="#4b4bd8"/>
<text x="202.60" y="334.20" font-size="6.7" fill="#4b4bd8" stroke="#4b4bd8" stroke-width="0.15" text-anchor="start" font-weight="normal" >sgB7-H3+NK</text>
<line x1="160.80" y1="343.00" x2="160.80" y2="469.50" stroke="#1c1c1c" stroke-width="1.1" />
<line x1="160.50" y1="469.20" x2="252.50" y2="469.20" stroke="#1c1c1c" stroke-width="1.1" />
<line x1="156.00" y1="469.20" x2="161.00" y2="469.20" stroke="#1c1c1c" stroke-width="1.1" />
<text x="155.80" y="472.50" font-size="9" fill="#1c1c1c" stroke="#1c1c1c" stroke-width="0.25" text-anchor="end" font-weight="normal" >40</text>
<line x1="156.00" y1="406.30" x2="161.00" y2="406.30" stroke="#1c1c1c" stroke-width="1.1" />
<text x="155.80" y="409.60" font-size="9" fill="#1c1c1c" stroke="#1c1c1c" stroke-width="0.25" text-anchor="end" font-weight="normal" >70</text>
<line x1="156.00" y1="343.40" x2="161.00" y2="343.40" stroke="#1c1c1c" stroke-width="1.1" />
<text x="155.80" y="346.70" font-size="9" fill="#1c1c1c" stroke="#1c1c1c" stroke-width="0.25" text-anchor="end" font-weight="normal" >100</text>
<line x1="188.00" y1="469.20" x2="188.00" y2="474.80" stroke="#1c1c1c" stroke-width="1.1" />
<line x1="226.30" y1="469.20" x2="226.30" y2="474.80" stroke="#1c1c1c" stroke-width="1.1" />
<text x="0.00" y="0.00" font-size="9" fill="#1c1c1c" stroke="#1c1c1c" stroke-width="0.25" text-anchor="middle" font-weight="normal" transform="translate(138.6,403) rotate(-90)">MFI CD69 (×10<tspan font-size="5.5" dy="-3">2</tspan><tspan dy="3">)</tspan></text>
<line x1="188.70" y1="359.50" x2="228.70" y2="359.50" stroke="#1c1c1c" stroke-width="1.1" />
<text x="208.60" y="359.60" font-size="8.6" fill="#1c1c1c" stroke="#1c1c1c" stroke-width="0.25" text-anchor="middle" font-weight="normal" >***</text>
<line x1="188.00" y1="400.50" x2="188.00" y2="412.50" stroke="#e2394a" stroke-width="1.1" />
<line x1="181.80" y1="400.50" x2="194.20" y2="400.50" stroke="#e2394a" stroke-width="1.1" />
<line x1="181.80" y1="412.50" x2="194.20" y2="412.50" stroke="#e2394a" stroke-width="1.1" />
<line x1="175.10" y1="406.30" x2="200.90" y2="406.30" stroke="#333" stroke-width="1.3" />
<polygon points="188.00,398.05 185.80,401.30 190.20,401.30" fill="#e2394a"/>
<polygon points="185.50,403.25 183.30,406.50 187.70,406.50" fill="#e2394a"/>
<polygon points="190.60,405.35 188.40,408.60 192.80,408.60" fill="#e2394a"/>
<polygon points="188.00,413.25 185.80,416.50 190.20,416.50" fill="#e2394a"/>
<line x1="226.30" y1="365.50" x2="226.30" y2="377.00" stroke="#4b4bd8" stroke-width="1.1" />
<line x1="220.10" y1="365.50" x2="232.50" y2="365.50" stroke="#4b4bd8" stroke-width="1.1" />
<line x1="220.10" y1="377.00" x2="232.50" y2="377.00" stroke="#4b4bd8" stroke-width="1.1" />
<line x1="213.40" y1="370.80" x2="239.20" y2="370.80" stroke="#333" stroke-width="1.3" />
<polygon points="223.80,368.75 221.60,365.50 226.00,365.50" fill="#4b4bd8"/>
<polygon points="228.80,368.95 226.60,365.70 231.00,365.70" fill="#4b4bd8"/>
<polygon points="223.80,375.45 221.60,372.20 226.00,372.20" fill="#4b4bd8"/>
<polygon points="228.80,379.85 226.60,376.60 231.00,376.60" fill="#4b4bd8"/>
<text x="257.50" y="327.50" font-size="12.5" fill="#111" stroke="#111" stroke-width="0.25" text-anchor="start" font-weight="bold" >E</text>
<rect x="281.2" y="330.5" width="102.80000000000001" height="130.5" fill="none" stroke="#9a9a9a" stroke-width="0.8"/>
<text x="0.00" y="0.00" font-size="9" fill="#1c1c1c" stroke="#1c1c1c" stroke-width="0.25" text-anchor="middle" font-weight="normal" transform="translate(271.3,396) rotate(-90)">Counts</text>
<line x1="277.50" y1="461.00" x2="281.30" y2="461.00" stroke="#333" stroke-width="0.9" />
<line x1="279.10" y1="456.83" x2="281.30" y2="456.83" stroke="#333" stroke-width="0.9" />
<line x1="279.10" y1="452.67" x2="281.30" y2="452.67" stroke="#333" stroke-width="0.9" />
<line x1="279.10" y1="448.50" x2="281.30" y2="448.50" stroke="#333" stroke-width="0.9" />
<line x1="279.10" y1="444.33" x2="281.30" y2="444.33" stroke="#333" stroke-width="0.9" />
<line x1="279.10" y1="440.17" x2="281.30" y2="440.17" stroke="#333" stroke-width="0.9" />
<line x1="277.50" y1="436.00" x2="281.30" y2="436.00" stroke="#333" stroke-width="0.9" />
<line x1="279.10" y1="431.83" x2="281.30" y2="431.83" stroke="#333" stroke-width="0.9" />
<line x1="279.10" y1="427.67" x2="281.30" y2="427.67" stroke="#333" stroke-width="0.9" />
<line x1="279.10" y1="423.50" x2="281.30" y2="423.50" stroke="#333" stroke-width="0.9" />
<line x1="279.10" y1="419.33" x2="281.30" y2="419.33" stroke="#333" stroke-width="0.9" />
<line x1="279.10" y1="415.17" x2="281.30" y2="415.17" stroke="#333" stroke-width="0.9" />
<line x1="277.50" y1="411.00" x2="281.30" y2="411.00" stroke="#333" stroke-width="0.9" />
<line x1="279.10" y1="406.83" x2="281.30" y2="406.83" stroke="#333" stroke-width="0.9" />
<line x1="279.10" y1="402.67" x2="281.30" y2="402.67" stroke="#333" stroke-width="0.9" />
<line x1="279.10" y1="398.50" x2="281.30" y2="398.50" stroke="#333" stroke-width="0.9" />
<line x1="279.10" y1="394.33" x2="281.30" y2="394.33" stroke="#333" stroke-width="0.9" />
<line x1="279.10" y1="390.17" x2="281.30" y2="390.17" stroke="#333" stroke-width="0.9" />
<line x1="277.50" y1="386.00" x2="281.30" y2="386.00" stroke="#333" stroke-width="0.9" />
<line x1="279.10" y1="381.83" x2="281.30" y2="381.83" stroke="#333" stroke-width="0.9" />
<line x1="279.10" y1="377.67" x2="281.30" y2="377.67" stroke="#333" stroke-width="0.9" />
<line x1="279.10" y1="373.50" x2="281.30" y2="373.50" stroke="#333" stroke-width="0.9" />
<line x1="279.10" y1="369.33" x2="281.30" y2="369.33" stroke="#333" stroke-width="0.9" />
<line x1="279.10" y1="365.17" x2="281.30" y2="365.17" stroke="#333" stroke-width="0.9" />
<line x1="277.50" y1="361.00" x2="281.30" y2="361.00" stroke="#333" stroke-width="0.9" />
<line x1="279.10" y1="356.83" x2="281.30" y2="356.83" stroke="#333" stroke-width="0.9" />
<line x1="279.10" y1="352.67" x2="281.30" y2="352.67" stroke="#333" stroke-width="0.9" />
<line x1="279.10" y1="348.50" x2="281.30" y2="348.50" stroke="#333" stroke-width="0.9" />
<line x1="279.10" y1="344.33" x2="281.30" y2="344.33" stroke="#333" stroke-width="0.9" />
<line x1="279.10" y1="340.17" x2="281.30" y2="340.17" stroke="#333" stroke-width="0.9" />
<line x1="277.50" y1="336.00" x2="281.30" y2="336.00" stroke="#333" stroke-width="0.9" />
<line x1="280.60" y1="461.00" x2="280.60" y2="465.50" stroke="#333" stroke-width="0.9" />
<line x1="327.00" y1="461.00" x2="327.00" y2="465.50" stroke="#333" stroke-width="0.9" />
<line x1="373.50" y1="461.00" x2="373.50" y2="465.50" stroke="#333" stroke-width="0.9" />
<line x1="294.57" y1="461.00" x2="294.57" y2="463.20" stroke="#333" stroke-width="0.7" />
<line x1="302.74" y1="461.00" x2="302.74" y2="463.20" stroke="#333" stroke-width="0.7" />
<line x1="308.54" y1="461.00" x2="308.54" y2="463.20" stroke="#333" stroke-width="0.7" />
<line x1="313.03" y1="461.00" x2="313.03" y2="463.20" stroke="#333" stroke-width="0.7" />
<line x1="316.71" y1="461.00" x2="316.71" y2="463.20" stroke="#333" stroke-width="0.7" />
<line x1="319.81" y1="461.00" x2="319.81" y2="463.20" stroke="#333" stroke-width="0.7" />
<line x1="322.50" y1="461.00" x2="322.50" y2="463.20" stroke="#333" stroke-width="0.7" />
<line x1="324.88" y1="461.00" x2="324.88" y2="463.20" stroke="#333" stroke-width="0.7" />
<line x1="341.00" y1="461.00" x2="341.00" y2="463.20" stroke="#333" stroke-width="0.7" />
<line x1="349.19" y1="461.00" x2="349.19" y2="463.20" stroke="#333" stroke-width="0.7" />
<line x1="355.00" y1="461.00" x2="355.00" y2="463.20" stroke="#333" stroke-width="0.7" />
<line x1="359.50" y1="461.00" x2="359.50" y2="463.20" stroke="#333" stroke-width="0.7" />
<line x1="363.18" y1="461.00" x2="363.18" y2="463.20" stroke="#333" stroke-width="0.7" />
<line x1="366.30" y1="461.00" x2="366.30" y2="463.20" stroke="#333" stroke-width="0.7" />
<line x1="368.99" y1="461.00" x2="368.99" y2="463.20" stroke="#333" stroke-width="0.7" />
<line x1="371.37" y1="461.00" x2="371.37" y2="463.20" stroke="#333" stroke-width="0.7" />
<polyline points="281.63,459.42 284.95,458.31 288.27,457.20 291.59,450.57 294.90,449.46 297.11,450.57 299.33,448.36 301.54,446.15 303.75,443.94 305.96,441.72 308.17,442.83 310.38,441.72 312.59,435.09 314.81,426.25 317.02,419.61 319.23,410.77 320.33,406.34 321.44,404.13 323.21,395.29 324.76,393.07 326.97,390.86 329.18,384.23 330.73,374.28 332.05,372.07 333.60,383.12 335.15,378.70 336.48,373.17 338.03,364.33 339.13,357.69 340.46,354.37 341.78,362.11 343.11,377.59 344.66,384.23 346.21,386.44 347.98,397.50 349.75,404.13 351.29,412.98 353.51,424.03 355.72,435.09 357.93,448.36 360.14,454.99 362.35,458.31 365.67,460.52 372.30,460.96 383.36,460.96" stroke="#3434e0" stroke-width="1.5" fill="none" stroke-linejoin="round" />
<polyline points="281.63,457.20 284.95,456.10 288.27,455.44 291.59,451.68 294.90,448.36 298.22,446.15 300.43,443.94 302.64,442.83 304.85,435.09 307.07,433.98 309.28,430.67 311.49,424.03 313.70,412.98 315.91,401.92 317.46,399.71 319.23,404.13 321.00,397.50 322.55,384.23 324.09,383.12 325.86,377.59 327.41,366.54 328.74,356.59 330.29,364.33 331.83,368.75 332.94,366.54 334.71,373.17 336.48,379.81 338.03,384.23 339.57,395.29 341.34,408.55 343.11,421.82 344.66,430.67 346.87,441.72 349.08,450.57 351.29,456.10 354.61,459.42 359.03,460.52 367.88,460.96 383.36,460.96" stroke="#ec3b3b" stroke-width="1.5" fill="none" stroke-linejoin="round" />
<line x1="281.50" y1="331.00" x2="281.50" y2="461.00" stroke="#ec3b3b" stroke-width="1.4" />
<line x1="281.50" y1="460.80" x2="384.00" y2="460.80" stroke="#ec3b3b" stroke-width="1.2" />
<line x1="286.00" y1="335.50" x2="293.70" y2="335.50" stroke="#ec3b3b" stroke-width="1.6" />
<text x="297.50" y="338.00" font-size="6.7" fill="#e86a62" stroke="#e86a62" stroke-width="0.15" text-anchor="start" font-weight="normal" >Vector+NK</text>
<line x1="286.00" y1="348.30" x2="293.70" y2="348.30" stroke="#2020a0" stroke-width="1.6" />
<text x="297.50" y="350.80" font-size="6.7" fill="#5a5ad8" stroke="#5a5ad8" stroke-width="0.15" text-anchor="start" font-weight="normal" >sgB7-H3+NK</text>
<text x="282.20" y="476.60" font-size="9.2" fill="#1c1c1c" stroke="#1c1c1c" stroke-width="0.25" text-anchor="start" font-weight="normal" >NKG2D</text>
<line x1="316.00" y1="473.20" x2="374.00" y2="473.20" stroke="#1c1c1c" stroke-width="1.3" />
<polygon points="373,469.9 380,473.2 373,476.5" fill="#1c1c1c"/>
<polygon points="418.30,330.34 416.20,333.44 420.40,333.44" fill="#e2394a"/>
<text x="422.00" y="334.20" font-size="6.7" fill="#e2394a" stroke="#e2394a" stroke-width="0.15" text-anchor="start" font-weight="normal" >Vector+NK</text>
<polygon points="467.00,333.86 464.90,330.76 469.10,330.76" fill="#4b4bd8"/>
<text x="472.00" y="334.20" font-size="6.7" fill="#4b4bd8" stroke="#4b4bd8" stroke-width="0.15" text-anchor="start" font-weight="normal" >sgB7-H3+NK</text>
<line x1="426.50" y1="346.50" x2="426.50" y2="470.00" stroke="#1c1c1c" stroke-width="1.1" />
<line x1="426.20" y1="469.50" x2="520.00" y2="469.50" stroke="#1c1c1c" stroke-width="1.1" />
<line x1="421.50" y1="469.50" x2="427.00" y2="469.50" stroke="#1c1c1c" stroke-width="1.1" />
<text x="420.00" y="472.80" font-size="9" fill="#1c1c1c" stroke="#1c1c1c" stroke-width="0.25" text-anchor="end" font-weight="normal" >70</text>
<line x1="421.50" y1="408.15" x2="427.00" y2="408.15" stroke="#1c1c1c" stroke-width="1.1" />
<text x="420.00" y="411.45" font-size="9" fill="#1c1c1c" stroke="#1c1c1c" stroke-width="0.25" text-anchor="end" font-weight="normal" >105</text>
<line x1="421.50" y1="346.80" x2="427.00" y2="346.80" stroke="#1c1c1c" stroke-width="1.1" />
<text x="420.00" y="350.10" font-size="9" fill="#1c1c1c" stroke="#1c1c1c" stroke-width="0.25" text-anchor="end" font-weight="normal" >140</text>
<line x1="453.30" y1="469.50" x2="453.30" y2="475.00" stroke="#1c1c1c" stroke-width="1.1" />
<line x1="492.50" y1="469.50" x2="492.50" y2="475.00" stroke="#1c1c1c" stroke-width="1.1" />
<text x="0.00" y="0.00" font-size="9" fill="#1c1c1c" stroke="#1c1c1c" stroke-width="0.25" text-anchor="middle" font-weight="normal" transform="translate(402.5,406) rotate(-90)">MFI NKG2D (×10<tspan font-size="5.5" dy="-3">2</tspan><tspan dy="3">)</tspan></text>
<line x1="451.30" y1="365.50" x2="492.50" y2="365.50" stroke="#1c1c1c" stroke-width="1.1" />
<text x="471.30" y="363.50" font-size="8" fill="#1c1c1c" stroke="#1c1c1c" stroke-width="0.25" text-anchor="middle" font-weight="normal" >*</text>
<line x1="453.30" y1="425.00" x2="453.30" y2="432.50" stroke="#e2394a" stroke-width="1.1" />
<line x1="446.80" y1="425.00" x2="459.80" y2="425.00" stroke="#e2394a" stroke-width="1.1" />
<line x1="446.80" y1="432.50" x2="459.80" y2="432.50" stroke="#e2394a" stroke-width="1.1" />
<line x1="440.30" y1="428.80" x2="466.30" y2="428.80" stroke="#333" stroke-width="1.3" />
<polygon points="453.30,421.35 451.10,424.60 455.50,424.60" fill="#e2394a"/>
<polygon points="445.50,429.35 443.30,432.60 447.70,432.60" fill="#e2394a"/>
<polygon points="453.30,429.35 451.10,432.60 455.50,432.60" fill="#e2394a"/>
<polygon points="462.00,429.35 459.80,432.60 464.20,432.60" fill="#e2394a"/>
<line x1="492.50" y1="379.00" x2="492.50" y2="409.50" stroke="#4b4bd8" stroke-width="1.1" />
<line x1="486.00" y1="379.00" x2="499.00" y2="379.00" stroke="#4b4bd8" stroke-width="1.1" />
<line x1="486.00" y1="409.50" x2="499.00" y2="409.50" stroke="#4b4bd8" stroke-width="1.1" />
<line x1="479.50" y1="394.30" x2="505.50" y2="394.30" stroke="#333" stroke-width="1.3" />
<polygon points="492.50,376.75 490.30,373.50 494.70,373.50" fill="#4b4bd8"/>
<polygon points="492.50,391.45 490.30,388.20 494.70,388.20" fill="#4b4bd8"/>
<polygon points="492.50,401.65 490.30,398.40 494.70,398.40" fill="#4b4bd8"/>
<polygon points="492.50,412.95 490.30,409.70 494.70,409.70" fill="#4b4bd8"/>
<text x="2.60" y="496.50" font-size="12.5" fill="#111" stroke="#111" stroke-width="0.25" text-anchor="start" font-weight="bold" >F</text>
<defs>
<radialGradient id="wellg1" cx="50%" cy="50%" r="50%" fx="44%" fy="42%">
<stop offset="0%" stop-color="#fbf7f6"/>
<stop offset="65%" stop-color="#f5eceb"/>
<stop offset="88%" stop-color="#ecdcda"/>
<stop offset="100%" stop-color="#cfb0ac"/>
</radialGradient>
<radialGradient id="wellg2" cx="50%" cy="55%" r="52%">
<stop offset="0%" stop-color="#f2dcdc"/>
<stop offset="65%" stop-color="#edd3d2"/>
<stop offset="90%" stop-color="#e2c0b8"/>
<stop offset="100%" stop-color="#c0907e"/>
</radialGradient>
<radialGradient id="blob" cx="50%" cy="50%" r="50%">
<stop offset="0%" stop-color="#c0705a" stop-opacity="0.95"/>
<stop offset="100%" stop-color="#d89080" stop-opacity="0"/>
</radialGradient>
<filter id="bl" x="-10%" y="-10%" width="120%" height="120%"><feGaussianBlur stdDeviation="0.4"/></filter>
<filter id="bl2" x="-10%" y="-10%" width="120%" height="120%"><feGaussianBlur stdDeviation="1.2"/></filter>
</defs>
<g filter="url(#bl)">
<circle cx="36.7" cy="532.7" r="27.8" fill="url(#wellg1)"/>
<g filter="url(#bl2)">
<circle cx="32.1" cy="541.9" r="2.61" fill="#c8a0a0" fill-opacity="0.09"/>
<circle cx="21.1" cy="529.1" r="1.60" fill="#c8a0a0" fill-opacity="0.14"/>
<circle cx="53.6" cy="536.8" r="1.62" fill="#c8a0a0" fill-opacity="0.09"/>
<circle cx="15.3" cy="543.7" r="1.71" fill="#c8a0a0" fill-opacity="0.11"/>
<circle cx="18.8" cy="514.2" r="2.48" fill="#c8a0a0" fill-opacity="0.13"/>
<circle cx="42.3" cy="531.9" r="2.96" fill="#c8a0a0" fill-opacity="0.11"/>
<circle cx="42.3" cy="539.8" r="2.02" fill="#c8a0a0" fill-opacity="0.18"/>
<circle cx="45.2" cy="551.0" r="2.59" fill="#c8a0a0" fill-opacity="0.12"/>
<circle cx="30.4" cy="530.7" r="1.60" fill="#c8a0a0" fill-opacity="0.10"/>
<circle cx="29.4" cy="517.1" r="2.03" fill="#c8a0a0" fill-opacity="0.15"/>
<circle cx="22.9" cy="536.9" r="2.85" fill="#c8a0a0" fill-opacity="0.16"/>
<circle cx="37.4" cy="552.7" r="2.39" fill="#c8a0a0" fill-opacity="0.19"/>
<circle cx="34.9" cy="518.6" r="3.17" fill="#c8a0a0" fill-opacity="0.09"/>
<circle cx="16.7" cy="544.0" r="1.76" fill="#c8a0a0" fill-opacity="0.14"/>
<circle cx="57.6" cy="538.0" r="2.80" fill="#c8a0a0" fill-opacity="0.15"/>
<circle cx="47.2" cy="522.3" r="2.68" fill="#c8a0a0" fill-opacity="0.15"/>
<circle cx="21.1" cy="524.1" r="2.93" fill="#c8a0a0" fill-opacity="0.19"/>
<circle cx="15.5" cy="536.2" r="1.60" fill="#c8a0a0" fill-opacity="0.16"/>
<circle cx="20.8" cy="511.7" r="2.90" fill="#c8a0a0" fill-opacity="0.11"/>
<circle cx="20.4" cy="546.9" r="1.54" fill="#c8a0a0" fill-opacity="0.14"/>
<circle cx="41.2" cy="540.6" r="1.60" fill="#c8a0a0" fill-opacity="0.17"/>
<circle cx="45.7" cy="542.2" r="2.16" fill="#c8a0a0" fill-opacity="0.18"/>
<circle cx="52.2" cy="541.3" r="2.43" fill="#c8a0a0" fill-opacity="0.19"/>
<circle cx="47.1" cy="510.4" r="1.97" fill="#c8a0a0" fill-opacity="0.13"/>
<circle cx="21.0" cy="552.0" r="3.13" fill="#c8a0a0" fill-opacity="0.10"/>
<circle cx="42.4" cy="544.1" r="1.90" fill="#c8a0a0" fill-opacity="0.14"/>
<circle cx="25.2" cy="525.5" r="1.51" fill="#c8a0a0" fill-opacity="0.13"/>
<circle cx="23.2" cy="547.3" r="3.12" fill="#c8a0a0" fill-opacity="0.16"/>
<circle cx="16.0" cy="530.7" r="2.65" fill="#c8a0a0" fill-opacity="0.09"/>
<circle cx="55.5" cy="518.9" r="2.99" fill="#c8a0a0" fill-opacity="0.18"/>
<circle cx="23.7" cy="543.1" r="1.68" fill="#c8a0a0" fill-opacity="0.16"/>
<circle cx="43.0" cy="535.3" r="1.85" fill="#c8a0a0" fill-opacity="0.10"/>
<circle cx="33.5" cy="537.8" r="1.50" fill="#c8a0a0" fill-opacity="0.10"/>
<circle cx="49.5" cy="542.2" r="1.54" fill="#c8a0a0" fill-opacity="0.18"/>
<circle cx="29.0" cy="526.0" r="1.93" fill="#c8a0a0" fill-opacity="0.12"/>
<circle cx="30.6" cy="539.7" r="2.94" fill="#c8a0a0" fill-opacity="0.20"/>
<circle cx="18.7" cy="536.6" r="1.65" fill="#c8a0a0" fill-opacity="0.09"/>
<circle cx="29.2" cy="544.1" r="2.91" fill="#c8a0a0" fill-opacity="0.10"/>
<circle cx="62.2" cy="536.4" r="2.40" fill="#c8a0a0" fill-opacity="0.10"/>
<circle cx="32.5" cy="531.5" r="2.40" fill="#c8a0a0" fill-opacity="0.20"/>
<circle cx="51.1" cy="516.0" r="1.94" fill="#c8a0a0" fill-opacity="0.12"/>
<circle cx="48.3" cy="552.8" r="2.41" fill="#c8a0a0" fill-opacity="0.17"/>
<circle cx="30.7" cy="543.6" r="2.88" fill="#c8a0a0" fill-opacity="0.20"/>
<circle cx="51.0" cy="513.7" r="2.89" fill="#c8a0a0" fill-opacity="0.17"/>
<circle cx="39.5" cy="551.5" r="2.10" fill="#c8a0a0" fill-opacity="0.08"/>
</g>
<g filter="url(#bl)">
<circle cx="50.4" cy="535.1" r="0.45" fill="#d49890" fill-opacity="0.36"/>
<circle cx="53.7" cy="527.9" r="0.55" fill="#e0aaa8" fill-opacity="0.44"/>
<circle cx="28.5" cy="542.0" r="0.35" fill="#c89088" fill-opacity="0.21"/>
<circle cx="42.6" cy="552.7" r="0.55" fill="#dca0a0" fill-opacity="0.29"/>
<circle cx="23.2" cy="513.3" r="0.35" fill="#dca0a0" fill-opacity="0.42"/>
<circle cx="41.3" cy="510.3" r="0.45" fill="#d49890" fill-opacity="0.28"/>
<circle cx="31.6" cy="526.8" r="0.55" fill="#c89088" fill-opacity="0.29"/>
<circle cx="36.4" cy="525.0" r="0.35" fill="#d49890" fill-opacity="0.45"/>
<circle cx="56.7" cy="536.2" r="0.45" fill="#d49890" fill-opacity="0.33"/>
<circle cx="21.7" cy="522.4" r="0.45" fill="#d49890" fill-opacity="0.31"/>
<circle cx="38.8" cy="535.0" r="0.55" fill="#dca0a0" fill-opacity="0.31"/>
<circle cx="52.6" cy="525.7" r="0.35" fill="#d49890" fill-opacity="0.16"/>
<circle cx="41.0" cy="550.9" r="0.55" fill="#e0aaa8" fill-opacity="0.23"/>
<circle cx="28.3" cy="537.4" r="0.55" fill="#e0aaa8" fill-opacity="0.42"/>
<circle cx="24.2" cy="512.4" r="0.55" fill="#c89088" fill-opacity="0.40"/>
<circle cx="43.6" cy="526.1" r="0.35" fill="#dca0a0" fill-opacity="0.41"/>
<circle cx="40.1" cy="512.4" r="0.35" fill="#d49890" fill-opacity="0.19"/>
<circle cx="30.0" cy="526.5" r="0.35" fill="#e0aaa8" fill-opacity="0.35"/>
<circle cx="18.7" cy="529.2" r="0.35" fill="#dca0a0" fill-opacity="0.22"/>
<circle cx="32.8" cy="555.6" r="0.55" fill="#c89088" fill-opacity="0.32"/>
<circle cx="38.3" cy="507.5" r="0.45" fill="#e0aaa8" fill-opacity="0.33"/>
<circle cx="17.8" cy="532.0" r="0.55" fill="#e0aaa8" fill-opacity="0.29"/>
<circle cx="18.8" cy="528.9" r="0.35" fill="#e0aaa8" fill-opacity="0.43"/>
<circle cx="46.0" cy="525.3" r="0.45" fill="#d49890" fill-opacity="0.27"/>
<circle cx="25.1" cy="542.0" r="0.55" fill="#d49890" fill-opacity="0.28"/>
<circle cx="40.1" cy="546.8" r="0.35" fill="#d49890" fill-opacity="0.43"/>
<circle cx="26.8" cy="520.2" r="0.45" fill="#d49890" fill-opacity="0.44"/>
<circle cx="41.6" cy="558.0" r="0.45" fill="#c89088" fill-opacity="0.20"/>
<circle cx="30.5" cy="521.8" r="0.55" fill="#c89088" fill-opacity="0.45"/>
<circle cx="22.6" cy="542.4" r="0.45" fill="#e0aaa8" fill-opacity="0.18"/>
<circle cx="26.5" cy="544.2" r="0.45" fill="#c89088" fill-opacity="0.36"/>
<circle cx="22.5" cy="545.3" r="0.45" fill="#dca0a0" fill-opacity="0.18"/>
<circle cx="47.7" cy="526.5" r="0.35" fill="#dca0a0" fill-opacity="0.23"/>
<circle cx="59.3" cy="538.4" r="0.45" fill="#d49890" fill-opacity="0.40"/>
<circle cx="49.4" cy="515.1" r="0.45" fill="#c89088" fill-opacity="0.19"/>
<circle cx="54.1" cy="523.0" r="0.55" fill="#e0aaa8" fill-opacity="0.18"/>
<circle cx="57.2" cy="540.4" r="0.45" fill="#dca0a0" fill-opacity="0.23"/>
<circle cx="44.5" cy="533.5" r="0.45" fill="#dca0a0" fill-opacity="0.33"/>
<circle cx="39.0" cy="546.1" r="0.35" fill="#c89088" fill-opacity="0.15"/>
<circle cx="53.8" cy="532.1" r="0.45" fill="#d49890" fill-opacity="0.16"/>
<circle cx="30.3" cy="507.9" r="0.35" fill="#e0aaa8" fill-opacity="0.17"/>
<circle cx="41.1" cy="546.8" r="0.45" fill="#d49890" fill-opacity="0.24"/>
<circle cx="25.6" cy="532.7" r="0.45" fill="#dca0a0" fill-opacity="0.45"/>
<circle cx="40.2" cy="533.5" r="0.55" fill="#d49890" fill-opacity="0.30"/>
<circle cx="37.2" cy="550.4" r="0.55" fill="#c89088" fill-opacity="0.35"/>
<circle cx="12.8" cy="525.6" r="0.55" fill="#e0aaa8" fill-opacity="0.36"/>
<circle cx="52.1" cy="531.0" r="0.55" fill="#d49890" fill-opacity="0.27"/>
<circle cx="33.2" cy="537.7" r="0.35" fill="#dca0a0" fill-opacity="0.17"/>
<circle cx="35.9" cy="519.4" r="0.35" fill="#dca0a0" fill-opacity="0.18"/>
<circle cx="50.1" cy="512.0" r="0.55" fill="#e0aaa8" fill-opacity="0.33"/>
<circle cx="34.7" cy="527.4" r="0.35" fill="#d49890" fill-opacity="0.23"/>
<circle cx="52.6" cy="533.1" r="0.45" fill="#e0aaa8" fill-opacity="0.22"/>
<circle cx="51.1" cy="529.6" r="0.45" fill="#d49890" fill-opacity="0.15"/>
<circle cx="23.3" cy="545.0" r="0.55" fill="#d49890" fill-opacity="0.22"/>
<circle cx="38.0" cy="524.8" r="0.35" fill="#d49890" fill-opacity="0.27"/>
<circle cx="40.5" cy="533.7" r="0.45" fill="#d49890" fill-opacity="0.18"/>
<circle cx="60.2" cy="526.3" r="0.35" fill="#c89088" fill-opacity="0.38"/>
<circle cx="33.3" cy="514.4" r="0.45" fill="#d49890" fill-opacity="0.16"/>
<circle cx="49.4" cy="511.3" r="0.55" fill="#c89088" fill-opacity="0.37"/>
<circle cx="40.5" cy="523.6" r="0.55" fill="#dca0a0" fill-opacity="0.40"/>
<circle cx="15.1" cy="520.1" r="0.55" fill="#d49890" fill-opacity="0.18"/>
<circle cx="57.1" cy="538.2" r="0.35" fill="#c89088" fill-opacity="0.40"/>
<circle cx="17.2" cy="525.2" r="0.55" fill="#d49890" fill-opacity="0.30"/>
<circle cx="60.3" cy="533.2" r="0.55" fill="#dca0a0" fill-opacity="0.35"/>
<circle cx="57.4" cy="541.8" r="0.45" fill="#dca0a0" fill-opacity="0.40"/>
<circle cx="38.9" cy="555.6" r="0.35" fill="#c89088" fill-opacity="0.30"/>
<circle cx="23.2" cy="545.0" r="0.55" fill="#e0aaa8" fill-opacity="0.38"/>
<circle cx="21.0" cy="518.5" r="0.35" fill="#d49890" fill-opacity="0.25"/>
<circle cx="24.0" cy="514.8" r="0.55" fill="#d49890" fill-opacity="0.15"/>
<circle cx="49.4" cy="537.8" r="0.55" fill="#dca0a0" fill-opacity="0.36"/>
<circle cx="30.3" cy="520.0" r="0.55" fill="#e0aaa8" fill-opacity="0.29"/>
<circle cx="27.8" cy="534.6" r="0.55" fill="#d49890" fill-opacity="0.24"/>
<circle cx="52.3" cy="542.0" r="0.45" fill="#c89088" fill-opacity="0.17"/>
<circle cx="10.4" cy="531.6" r="0.45" fill="#c89088" fill-opacity="0.21"/>
<circle cx="48.1" cy="528.6" r="0.55" fill="#dca0a0" fill-opacity="0.19"/>
<circle cx="11.2" cy="528.8" r="0.35" fill="#e0aaa8" fill-opacity="0.42"/>
<circle cx="33.0" cy="520.5" r="0.45" fill="#c89088" fill-opacity="0.16"/>
<circle cx="55.2" cy="533.1" r="0.45" fill="#c89088" fill-opacity="0.24"/>
<circle cx="46.5" cy="544.7" r="0.45" fill="#dca0a0" fill-opacity="0.40"/>
<circle cx="59.6" cy="533.0" r="0.45" fill="#dca0a0" fill-opacity="0.43"/>
<circle cx="37.7" cy="535.4" r="0.55" fill="#e0aaa8" fill-opacity="0.23"/>
<circle cx="51.8" cy="539.2" r="0.55" fill="#dca0a0" fill-opacity="0.26"/>
<circle cx="24.2" cy="538.8" r="0.35" fill="#e0aaa8" fill-opacity="0.18"/>
<circle cx="43.9" cy="520.5" r="0.35" fill="#d49890" fill-opacity="0.44"/>
<circle cx="23.0" cy="538.5" r="0.45" fill="#c89088" fill-opacity="0.42"/>
<circle cx="44.7" cy="513.3" r="0.55" fill="#d49890" fill-opacity="0.37"/>
<circle cx="58.2" cy="539.6" r="0.45" fill="#d49890" fill-opacity="0.34"/>
<circle cx="35.4" cy="538.4" r="0.55" fill="#d49890" fill-opacity="0.20"/>
<circle cx="24.6" cy="539.8" r="0.45" fill="#e0aaa8" fill-opacity="0.27"/>
<circle cx="38.0" cy="551.0" r="0.55" fill="#c89088" fill-opacity="0.19"/>
</g>
<circle cx="36.7" cy="532.7" r="27.8" fill="none" stroke="#da4c62" stroke-width="1.5"/>
<circle cx="46.3" cy="515.2" r="5.6" fill="url(#blob)"/>
<circle cx="46.3" cy="515.2" r="2.2" fill="#c05a48" fill-opacity="0.5" filter="url(#bl2)"/>
<circle cx="94.4" cy="532.7" r="27.8" fill="url(#wellg1)"/>
<g filter="url(#bl2)">
<circle cx="89.9" cy="527.0" r="2.35" fill="#c8a0a0" fill-opacity="0.18"/>
<circle cx="77.5" cy="527.2" r="2.07" fill="#c8a0a0" fill-opacity="0.17"/>
<circle cx="76.9" cy="541.3" r="1.91" fill="#c8a0a0" fill-opacity="0.10"/>
<circle cx="80.4" cy="527.6" r="2.13" fill="#c8a0a0" fill-opacity="0.18"/>
<circle cx="95.5" cy="536.3" r="2.98" fill="#c8a0a0" fill-opacity="0.13"/>
<circle cx="94.1" cy="520.6" r="1.96" fill="#c8a0a0" fill-opacity="0.17"/>
<circle cx="74.4" cy="532.9" r="2.11" fill="#c8a0a0" fill-opacity="0.16"/>
<circle cx="71.3" cy="528.4" r="2.94" fill="#c8a0a0" fill-opacity="0.09"/>
<circle cx="107.5" cy="522.8" r="2.60" fill="#c8a0a0" fill-opacity="0.13"/>
<circle cx="85.3" cy="554.7" r="3.15" fill="#c8a0a0" fill-opacity="0.10"/>
<circle cx="73.8" cy="543.2" r="2.87" fill="#c8a0a0" fill-opacity="0.20"/>
<circle cx="87.3" cy="533.2" r="3.08" fill="#c8a0a0" fill-opacity="0.19"/>
<circle cx="76.6" cy="529.6" r="2.26" fill="#c8a0a0" fill-opacity="0.17"/>
<circle cx="96.1" cy="542.9" r="3.15" fill="#c8a0a0" fill-opacity="0.09"/>
<circle cx="104.5" cy="513.0" r="2.94" fill="#c8a0a0" fill-opacity="0.19"/>
<circle cx="114.4" cy="544.5" r="1.50" fill="#c8a0a0" fill-opacity="0.10"/>
<circle cx="89.8" cy="530.5" r="2.72" fill="#c8a0a0" fill-opacity="0.20"/>
<circle cx="81.0" cy="519.0" r="2.24" fill="#c8a0a0" fill-opacity="0.17"/>
<circle cx="106.1" cy="541.2" r="3.10" fill="#c8a0a0" fill-opacity="0.10"/>
<circle cx="92.8" cy="556.1" r="1.50" fill="#c8a0a0" fill-opacity="0.14"/>
<circle cx="108.3" cy="532.4" r="2.04" fill="#c8a0a0" fill-opacity="0.18"/>
<circle cx="95.3" cy="551.8" r="2.43" fill="#c8a0a0" fill-opacity="0.08"/>
<circle cx="76.3" cy="543.9" r="1.59" fill="#c8a0a0" fill-opacity="0.10"/>
<circle cx="110.3" cy="518.6" r="1.64" fill="#c8a0a0" fill-opacity="0.11"/>
<circle cx="80.1" cy="540.1" r="2.34" fill="#c8a0a0" fill-opacity="0.16"/>
<circle cx="91.3" cy="517.1" r="2.17" fill="#c8a0a0" fill-opacity="0.08"/>
<circle cx="88.1" cy="556.1" r="1.61" fill="#c8a0a0" fill-opacity="0.14"/>
<circle cx="101.5" cy="554.7" r="1.83" fill="#c8a0a0" fill-opacity="0.14"/>
<circle cx="92.1" cy="557.5" r="1.69" fill="#c8a0a0" fill-opacity="0.15"/>
<circle cx="75.1" cy="516.7" r="2.32" fill="#c8a0a0" fill-opacity="0.19"/>
<circle cx="113.5" cy="539.8" r="3.07" fill="#c8a0a0" fill-opacity="0.09"/>
<circle cx="114.6" cy="535.7" r="2.21" fill="#c8a0a0" fill-opacity="0.17"/>
<circle cx="101.5" cy="548.9" r="2.71" fill="#c8a0a0" fill-opacity="0.12"/>
<circle cx="100.0" cy="537.6" r="1.78" fill="#c8a0a0" fill-opacity="0.10"/>
<circle cx="83.4" cy="517.0" r="2.29" fill="#c8a0a0" fill-opacity="0.12"/>
<circle cx="90.7" cy="508.8" r="3.17" fill="#c8a0a0" fill-opacity="0.13"/>
<circle cx="100.1" cy="537.4" r="1.64" fill="#c8a0a0" fill-opacity="0.13"/>
<circle cx="109.3" cy="519.6" r="2.79" fill="#c8a0a0" fill-opacity="0.13"/>
<circle cx="96.1" cy="518.1" r="2.87" fill="#c8a0a0" fill-opacity="0.09"/>
<circle cx="91.2" cy="521.5" r="2.42" fill="#c8a0a0" fill-opacity="0.13"/>
<circle cx="84.3" cy="553.0" r="2.31" fill="#c8a0a0" fill-opacity="0.16"/>
<circle cx="94.7" cy="553.6" r="2.19" fill="#c8a0a0" fill-opacity="0.13"/>
<circle cx="71.3" cy="538.0" r="1.61" fill="#c8a0a0" fill-opacity="0.10"/>
<circle cx="113.4" cy="540.6" r="2.12" fill="#c8a0a0" fill-opacity="0.12"/>
<circle cx="99.7" cy="531.1" r="2.77" fill="#c8a0a0" fill-opacity="0.16"/>
</g>
<g filter="url(#bl)">
<circle cx="107.2" cy="526.1" r="0.55" fill="#dca0a0" fill-opacity="0.16"/>
<circle cx="96.2" cy="550.8" r="0.45" fill="#c89088" fill-opacity="0.39"/>
<circle cx="114.8" cy="520.4" r="0.35" fill="#c89088" fill-opacity="0.20"/>
<circle cx="101.8" cy="511.2" r="0.55" fill="#d49890" fill-opacity="0.33"/>
<circle cx="87.4" cy="545.9" r="0.45" fill="#dca0a0" fill-opacity="0.30"/>
<circle cx="86.2" cy="539.3" r="0.45" fill="#dca0a0" fill-opacity="0.34"/>
<circle cx="75.0" cy="534.9" r="0.35" fill="#c89088" fill-opacity="0.42"/>
<circle cx="108.0" cy="531.7" r="0.35" fill="#d49890" fill-opacity="0.18"/>
<circle cx="72.2" cy="532.9" r="0.45" fill="#d49890" fill-opacity="0.22"/>
<circle cx="76.4" cy="543.1" r="0.55" fill="#d49890" fill-opacity="0.37"/>
<circle cx="106.7" cy="515.0" r="0.35" fill="#e0aaa8" fill-opacity="0.24"/>
<circle cx="79.7" cy="526.1" r="0.55" fill="#e0aaa8" fill-opacity="0.21"/>
<circle cx="94.6" cy="545.8" r="0.35" fill="#e0aaa8" fill-opacity="0.42"/>
<circle cx="81.1" cy="525.6" r="0.45" fill="#e0aaa8" fill-opacity="0.45"/>
<circle cx="81.7" cy="532.1" r="0.35" fill="#c89088" fill-opacity="0.45"/>
<circle cx="109.0" cy="543.6" r="0.35" fill="#c89088" fill-opacity="0.42"/>
<circle cx="108.3" cy="536.3" r="0.35" fill="#dca0a0" fill-opacity="0.21"/>
<circle cx="114.3" cy="529.3" r="0.35" fill="#e0aaa8" fill-opacity="0.30"/>
<circle cx="103.4" cy="551.1" r="0.55" fill="#dca0a0" fill-opacity="0.18"/>
<circle cx="77.3" cy="520.9" r="0.35" fill="#dca0a0" fill-opacity="0.26"/>
<circle cx="101.9" cy="542.0" r="0.45" fill="#dca0a0" fill-opacity="0.33"/>
<circle cx="87.5" cy="523.0" r="0.35" fill="#e0aaa8" fill-opacity="0.27"/>
<circle cx="80.0" cy="547.7" r="0.35" fill="#d49890" fill-opacity="0.16"/>
<circle cx="76.0" cy="533.2" r="0.45" fill="#dca0a0" fill-opacity="0.39"/>
<circle cx="89.1" cy="523.8" r="0.55" fill="#dca0a0" fill-opacity="0.35"/>
<circle cx="83.4" cy="540.9" r="0.45" fill="#e0aaa8" fill-opacity="0.28"/>
<circle cx="116.0" cy="539.9" r="0.45" fill="#c89088" fill-opacity="0.27"/>
<circle cx="111.7" cy="512.8" r="0.45" fill="#d49890" fill-opacity="0.27"/>
<circle cx="73.2" cy="547.1" r="0.45" fill="#d49890" fill-opacity="0.28"/>
<circle cx="101.6" cy="517.5" r="0.45" fill="#c89088" fill-opacity="0.38"/>
<circle cx="98.5" cy="537.1" r="0.35" fill="#c89088" fill-opacity="0.18"/>
<circle cx="82.8" cy="521.5" r="0.55" fill="#d49890" fill-opacity="0.19"/>
<circle cx="90.4" cy="551.4" r="0.35" fill="#dca0a0" fill-opacity="0.27"/>
<circle cx="94.9" cy="509.2" r="0.35" fill="#e0aaa8" fill-opacity="0.19"/>
<circle cx="118.8" cy="523.6" r="0.45" fill="#e0aaa8" fill-opacity="0.17"/>
<circle cx="109.1" cy="525.3" r="0.55" fill="#d49890" fill-opacity="0.34"/>
<circle cx="107.3" cy="516.4" r="0.55" fill="#d49890" fill-opacity="0.40"/>
<circle cx="99.4" cy="544.0" r="0.45" fill="#d49890" fill-opacity="0.27"/>
<circle cx="103.8" cy="541.9" r="0.55" fill="#d49890" fill-opacity="0.16"/>
<circle cx="73.2" cy="523.9" r="0.35" fill="#e0aaa8" fill-opacity="0.19"/>
<circle cx="78.5" cy="521.2" r="0.55" fill="#e0aaa8" fill-opacity="0.34"/>
<circle cx="89.7" cy="545.0" r="0.45" fill="#e0aaa8" fill-opacity="0.28"/>
<circle cx="90.7" cy="534.2" r="0.55" fill="#c89088" fill-opacity="0.29"/>
<circle cx="74.8" cy="539.5" r="0.45" fill="#d49890" fill-opacity="0.39"/>
<circle cx="88.9" cy="536.7" r="0.45" fill="#c89088" fill-opacity="0.26"/>
<circle cx="100.5" cy="514.9" r="0.55" fill="#dca0a0" fill-opacity="0.16"/>
<circle cx="111.7" cy="551.2" r="0.45" fill="#dca0a0" fill-opacity="0.17"/>
<circle cx="78.2" cy="532.3" r="0.35" fill="#dca0a0" fill-opacity="0.41"/>
<circle cx="117.0" cy="532.1" r="0.35" fill="#d49890" fill-opacity="0.19"/>
<circle cx="105.1" cy="523.4" r="0.35" fill="#d49890" fill-opacity="0.17"/>
<circle cx="80.8" cy="551.2" r="0.35" fill="#e0aaa8" fill-opacity="0.42"/>
<circle cx="90.7" cy="556.3" r="0.35" fill="#e0aaa8" fill-opacity="0.30"/>
<circle cx="105.0" cy="526.9" r="0.45" fill="#d49890" fill-opacity="0.25"/>
<circle cx="105.4" cy="535.3" r="0.35" fill="#e0aaa8" fill-opacity="0.35"/>
<circle cx="103.0" cy="526.1" r="0.45" fill="#dca0a0" fill-opacity="0.38"/>
<circle cx="117.7" cy="540.1" r="0.45" fill="#dca0a0" fill-opacity="0.23"/>
<circle cx="70.6" cy="527.3" r="0.55" fill="#e0aaa8" fill-opacity="0.23"/>
<circle cx="114.4" cy="531.5" r="0.45" fill="#e0aaa8" fill-opacity="0.38"/>
<circle cx="84.0" cy="536.6" r="0.55" fill="#dca0a0" fill-opacity="0.24"/>
<circle cx="79.8" cy="531.2" r="0.55" fill="#e0aaa8" fill-opacity="0.37"/>
<circle cx="94.2" cy="520.3" r="0.45" fill="#c89088" fill-opacity="0.28"/>
<circle cx="90.6" cy="537.1" r="0.45" fill="#d49890" fill-opacity="0.33"/>
<circle cx="100.3" cy="534.4" r="0.55" fill="#e0aaa8" fill-opacity="0.24"/>
<circle cx="75.3" cy="529.9" r="0.45" fill="#e0aaa8" fill-opacity="0.33"/>
<circle cx="100.3" cy="552.7" r="0.45" fill="#d49890" fill-opacity="0.19"/>
<circle cx="106.4" cy="527.6" r="0.35" fill="#c89088" fill-opacity="0.18"/>
<circle cx="78.5" cy="513.9" r="0.45" fill="#c89088" fill-opacity="0.39"/>
<circle cx="100.5" cy="531.4" r="0.55" fill="#e0aaa8" fill-opacity="0.33"/>
<circle cx="76.4" cy="523.0" r="0.55" fill="#c89088" fill-opacity="0.22"/>
<circle cx="99.0" cy="529.5" r="0.55" fill="#dca0a0" fill-opacity="0.27"/>
<circle cx="94.9" cy="539.1" r="0.35" fill="#dca0a0" fill-opacity="0.33"/>
<circle cx="87.9" cy="522.9" r="0.45" fill="#d49890" fill-opacity="0.31"/>
<circle cx="81.1" cy="516.1" r="0.45" fill="#d49890" fill-opacity="0.30"/>
<circle cx="113.6" cy="540.8" r="0.55" fill="#c89088" fill-opacity="0.36"/>
<circle cx="118.6" cy="533.7" r="0.55" fill="#c89088" fill-opacity="0.17"/>
<circle cx="88.2" cy="523.5" r="0.35" fill="#e0aaa8" fill-opacity="0.22"/>
<circle cx="109.2" cy="536.4" r="0.55" fill="#e0aaa8" fill-opacity="0.36"/>
<circle cx="92.4" cy="552.3" r="0.45" fill="#e0aaa8" fill-opacity="0.24"/>
<circle cx="116.9" cy="521.9" r="0.35" fill="#dca0a0" fill-opacity="0.20"/>
<circle cx="114.4" cy="519.0" r="0.35" fill="#d49890" fill-opacity="0.37"/>
<circle cx="82.9" cy="554.6" r="0.45" fill="#d49890" fill-opacity="0.26"/>
<circle cx="109.6" cy="512.4" r="0.55" fill="#c89088" fill-opacity="0.29"/>
<circle cx="92.3" cy="532.3" r="0.35" fill="#c89088" fill-opacity="0.44"/>
<circle cx="96.9" cy="557.4" r="0.35" fill="#c89088" fill-opacity="0.34"/>
<circle cx="116.7" cy="544.5" r="0.35" fill="#dca0a0" fill-opacity="0.16"/>
<circle cx="114.3" cy="548.5" r="0.45" fill="#d49890" fill-opacity="0.36"/>
<circle cx="104.0" cy="534.6" r="0.55" fill="#dca0a0" fill-opacity="0.36"/>
<circle cx="93.8" cy="526.0" r="0.55" fill="#e0aaa8" fill-opacity="0.21"/>
<circle cx="112.9" cy="527.3" r="0.55" fill="#dca0a0" fill-opacity="0.41"/>
<circle cx="95.2" cy="510.4" r="0.45" fill="#dca0a0" fill-opacity="0.22"/>
</g>
<circle cx="94.4" cy="532.7" r="27.8" fill="none" stroke="#da4c62" stroke-width="1.5"/>
<circle cx="152.1" cy="532.7" r="27.8" fill="url(#wellg1)"/>
<g filter="url(#bl2)">
<circle cx="153.5" cy="537.4" r="3.11" fill="#c8a0a0" fill-opacity="0.19"/>
<circle cx="152.3" cy="524.9" r="2.78" fill="#c8a0a0" fill-opacity="0.16"/>
<circle cx="142.6" cy="534.1" r="2.85" fill="#c8a0a0" fill-opacity="0.16"/>
<circle cx="147.9" cy="547.4" r="1.94" fill="#c8a0a0" fill-opacity="0.12"/>
<circle cx="157.4" cy="530.2" r="2.79" fill="#c8a0a0" fill-opacity="0.19"/>
<circle cx="154.6" cy="512.4" r="2.31" fill="#c8a0a0" fill-opacity="0.11"/>
<circle cx="151.5" cy="509.2" r="1.55" fill="#c8a0a0" fill-opacity="0.14"/>
<circle cx="166.8" cy="543.2" r="1.58" fill="#c8a0a0" fill-opacity="0.15"/>
<circle cx="146.8" cy="509.3" r="2.48" fill="#c8a0a0" fill-opacity="0.11"/>
<circle cx="134.5" cy="540.2" r="1.99" fill="#c8a0a0" fill-opacity="0.17"/>
<circle cx="166.8" cy="537.9" r="1.66" fill="#c8a0a0" fill-opacity="0.16"/>
<circle cx="163.9" cy="509.6" r="2.51" fill="#c8a0a0" fill-opacity="0.19"/>
<circle cx="132.1" cy="530.8" r="1.77" fill="#c8a0a0" fill-opacity="0.18"/>
<circle cx="163.9" cy="527.9" r="1.78" fill="#c8a0a0" fill-opacity="0.19"/>
<circle cx="154.0" cy="514.3" r="3.18" fill="#c8a0a0" fill-opacity="0.15"/>
<circle cx="164.1" cy="541.9" r="1.66" fill="#c8a0a0" fill-opacity="0.19"/>
<circle cx="169.8" cy="518.4" r="2.22" fill="#c8a0a0" fill-opacity="0.16"/>
<circle cx="142.0" cy="543.2" r="2.23" fill="#c8a0a0" fill-opacity="0.15"/>
<circle cx="164.6" cy="555.7" r="2.57" fill="#c8a0a0" fill-opacity="0.19"/>
<circle cx="166.3" cy="547.3" r="2.67" fill="#c8a0a0" fill-opacity="0.15"/>
<circle cx="171.8" cy="537.0" r="2.39" fill="#c8a0a0" fill-opacity="0.18"/>
<circle cx="133.4" cy="538.7" r="2.05" fill="#c8a0a0" fill-opacity="0.14"/>
<circle cx="147.1" cy="520.3" r="1.89" fill="#c8a0a0" fill-opacity="0.12"/>
<circle cx="138.3" cy="515.5" r="2.36" fill="#c8a0a0" fill-opacity="0.11"/>
<circle cx="152.8" cy="508.7" r="2.55" fill="#c8a0a0" fill-opacity="0.17"/>
<circle cx="174.3" cy="529.2" r="2.52" fill="#c8a0a0" fill-opacity="0.12"/>
<circle cx="154.3" cy="558.4" r="1.94" fill="#c8a0a0" fill-opacity="0.19"/>
<circle cx="162.8" cy="532.4" r="2.62" fill="#c8a0a0" fill-opacity="0.10"/>
<circle cx="158.0" cy="541.0" r="2.01" fill="#c8a0a0" fill-opacity="0.12"/>
<circle cx="150.8" cy="541.3" r="3.05" fill="#c8a0a0" fill-opacity="0.11"/>
<circle cx="165.6" cy="520.8" r="1.52" fill="#c8a0a0" fill-opacity="0.18"/>
<circle cx="140.6" cy="537.5" r="3.17" fill="#c8a0a0" fill-opacity="0.12"/>
<circle cx="165.4" cy="534.6" r="2.76" fill="#c8a0a0" fill-opacity="0.08"/>
<circle cx="153.3" cy="557.1" r="2.69" fill="#c8a0a0" fill-opacity="0.15"/>
<circle cx="137.5" cy="513.3" r="2.64" fill="#c8a0a0" fill-opacity="0.16"/>
<circle cx="167.3" cy="518.0" r="2.49" fill="#c8a0a0" fill-opacity="0.11"/>
<circle cx="156.0" cy="541.2" r="2.24" fill="#c8a0a0" fill-opacity="0.11"/>
<circle cx="144.5" cy="508.9" r="1.91" fill="#c8a0a0" fill-opacity="0.13"/>
<circle cx="149.7" cy="522.5" r="2.94" fill="#c8a0a0" fill-opacity="0.14"/>
<circle cx="176.4" cy="535.7" r="2.38" fill="#c8a0a0" fill-opacity="0.16"/>
<circle cx="169.5" cy="514.8" r="2.06" fill="#c8a0a0" fill-opacity="0.08"/>
<circle cx="164.5" cy="510.8" r="1.68" fill="#c8a0a0" fill-opacity="0.11"/>
<circle cx="156.6" cy="554.6" r="3.12" fill="#c8a0a0" fill-opacity="0.10"/>
<circle cx="138.0" cy="552.5" r="2.28" fill="#c8a0a0" fill-opacity="0.10"/>
<circle cx="148.8" cy="533.2" r="2.85" fill="#c8a0a0" fill-opacity="0.12"/>
</g>
<g filter="url(#bl)">
<circle cx="139.6" cy="551.7" r="0.45" fill="#d49890" fill-opacity="0.45"/>
<circle cx="159.7" cy="550.0" r="0.35" fill="#e0aaa8" fill-opacity="0.34"/>
<circle cx="151.8" cy="549.0" r="0.35" fill="#dca0a0" fill-opacity="0.17"/>
<circle cx="170.2" cy="522.1" r="0.55" fill="#e0aaa8" fill-opacity="0.32"/>
<circle cx="163.4" cy="541.9" r="0.45" fill="#d49890" fill-opacity="0.45"/>
<circle cx="169.5" cy="528.3" r="0.35" fill="#d49890" fill-opacity="0.43"/>
<circle cx="173.5" cy="542.6" r="0.35" fill="#c89088" fill-opacity="0.34"/>
<circle cx="147.7" cy="509.3" r="0.35" fill="#e0aaa8" fill-opacity="0.35"/>
<circle cx="163.5" cy="512.1" r="0.45" fill="#c89088" fill-opacity="0.45"/>
<circle cx="153.4" cy="511.5" r="0.45" fill="#e0aaa8" fill-opacity="0.39"/>
<circle cx="154.8" cy="554.7" r="0.55" fill="#e0aaa8" fill-opacity="0.44"/>
<circle cx="144.2" cy="516.2" r="0.55" fill="#e0aaa8" fill-opacity="0.26"/>
<circle cx="143.7" cy="520.4" r="0.45" fill="#c89088" fill-opacity="0.34"/>
<circle cx="173.6" cy="545.5" r="0.35" fill="#e0aaa8" fill-opacity="0.41"/>
<circle cx="174.6" cy="541.1" r="0.45" fill="#d49890" fill-opacity="0.31"/>
<circle cx="140.8" cy="549.4" r="0.55" fill="#dca0a0" fill-opacity="0.21"/>
<circle cx="165.0" cy="538.9" r="0.55" fill="#dca0a0" fill-opacity="0.32"/>
<circle cx="159.0" cy="523.7" r="0.45" fill="#e0aaa8" fill-opacity="0.39"/>
<circle cx="156.4" cy="548.9" r="0.55" fill="#d49890" fill-opacity="0.33"/>
<circle cx="142.2" cy="508.5" r="0.35" fill="#e0aaa8" fill-opacity="0.21"/>
<circle cx="145.3" cy="514.7" r="0.55" fill="#c89088" fill-opacity="0.35"/>
<circle cx="158.8" cy="538.8" r="0.45" fill="#d49890" fill-opacity="0.40"/>
<circle cx="132.7" cy="536.0" r="0.45" fill="#c89088" fill-opacity="0.42"/>
<circle cx="148.1" cy="520.2" r="0.35" fill="#dca0a0" fill-opacity="0.20"/>
<circle cx="142.6" cy="552.6" r="0.45" fill="#e0aaa8" fill-opacity="0.40"/>
<circle cx="140.0" cy="544.8" r="0.55" fill="#dca0a0" fill-opacity="0.20"/>
<circle cx="138.5" cy="549.0" r="0.35" fill="#dca0a0" fill-opacity="0.35"/>
<circle cx="165.9" cy="526.4" r="0.35" fill="#c89088" fill-opacity="0.30"/>
<circle cx="156.0" cy="529.8" r="0.55" fill="#c89088" fill-opacity="0.34"/>
<circle cx="139.1" cy="553.5" r="0.45" fill="#e0aaa8" fill-opacity="0.29"/>
<circle cx="129.2" cy="529.0" r="0.35" fill="#e0aaa8" fill-opacity="0.28"/>
<circle cx="134.7" cy="541.9" r="0.45" fill="#e0aaa8" fill-opacity="0.26"/>
<circle cx="136.9" cy="533.3" r="0.45" fill="#e0aaa8" fill-opacity="0.44"/>
<circle cx="138.8" cy="513.3" r="0.45" fill="#d49890" fill-opacity="0.25"/>
<circle cx="145.9" cy="552.0" r="0.55" fill="#dca0a0" fill-opacity="0.39"/>
<circle cx="173.8" cy="538.3" r="0.45" fill="#dca0a0" fill-opacity="0.27"/>
<circle cx="156.5" cy="536.3" r="0.45" fill="#dca0a0" fill-opacity="0.39"/>
<circle cx="169.5" cy="521.6" r="0.55" fill="#d49890" fill-opacity="0.34"/>
<circle cx="145.4" cy="513.5" r="0.55" fill="#dca0a0" fill-opacity="0.21"/>
<circle cx="143.2" cy="517.2" r="0.35" fill="#dca0a0" fill-opacity="0.35"/>
<circle cx="163.8" cy="520.1" r="0.35" fill="#dca0a0" fill-opacity="0.26"/>
<circle cx="162.4" cy="511.7" r="0.55" fill="#e0aaa8" fill-opacity="0.41"/>
<circle cx="154.0" cy="537.2" r="0.35" fill="#c89088" fill-opacity="0.32"/>
<circle cx="129.8" cy="520.8" r="0.45" fill="#dca0a0" fill-opacity="0.40"/>
<circle cx="154.7" cy="515.8" r="0.55" fill="#c89088" fill-opacity="0.28"/>
<circle cx="168.5" cy="534.2" r="0.55" fill="#d49890" fill-opacity="0.29"/>
<circle cx="144.9" cy="537.1" r="0.55" fill="#c89088" fill-opacity="0.21"/>
<circle cx="154.0" cy="535.4" r="0.35" fill="#dca0a0" fill-opacity="0.36"/>
<circle cx="170.8" cy="550.7" r="0.35" fill="#d49890" fill-opacity="0.41"/>
<circle cx="154.5" cy="535.3" r="0.55" fill="#d49890" fill-opacity="0.29"/>
<circle cx="151.2" cy="507.3" r="0.45" fill="#d49890" fill-opacity="0.37"/>
<circle cx="170.2" cy="543.3" r="0.55" fill="#c89088" fill-opacity="0.29"/>
<circle cx="164.2" cy="527.2" r="0.35" fill="#dca0a0" fill-opacity="0.15"/>
<circle cx="173.3" cy="534.7" r="0.55" fill="#dca0a0" fill-opacity="0.27"/>
<circle cx="144.3" cy="551.6" r="0.45" fill="#dca0a0" fill-opacity="0.24"/>
<circle cx="173.5" cy="525.6" r="0.45" fill="#d49890" fill-opacity="0.19"/>
<circle cx="156.8" cy="517.5" r="0.55" fill="#d49890" fill-opacity="0.34"/>
<circle cx="137.8" cy="540.8" r="0.45" fill="#e0aaa8" fill-opacity="0.39"/>
<circle cx="139.1" cy="526.9" r="0.35" fill="#e0aaa8" fill-opacity="0.41"/>
<circle cx="151.6" cy="529.5" r="0.35" fill="#e0aaa8" fill-opacity="0.33"/>
<circle cx="165.1" cy="530.8" r="0.45" fill="#c89088" fill-opacity="0.33"/>
<circle cx="171.0" cy="518.3" r="0.45" fill="#dca0a0" fill-opacity="0.25"/>
<circle cx="150.9" cy="543.1" r="0.35" fill="#e0aaa8" fill-opacity="0.40"/>
<circle cx="161.4" cy="509.9" r="0.55" fill="#d49890" fill-opacity="0.23"/>
<circle cx="166.2" cy="513.6" r="0.55" fill="#c89088" fill-opacity="0.25"/>
<circle cx="169.0" cy="542.7" r="0.45" fill="#d49890" fill-opacity="0.39"/>
<circle cx="147.5" cy="506.9" r="0.45" fill="#dca0a0" fill-opacity="0.35"/>
<circle cx="140.4" cy="535.3" r="0.45" fill="#dca0a0" fill-opacity="0.39"/>
<circle cx="144.5" cy="534.7" r="0.45" fill="#dca0a0" fill-opacity="0.22"/>
<circle cx="130.2" cy="520.7" r="0.55" fill="#e0aaa8" fill-opacity="0.29"/>
<circle cx="142.4" cy="526.6" r="0.35" fill="#dca0a0" fill-opacity="0.20"/>
<circle cx="147.3" cy="517.5" r="0.55" fill="#e0aaa8" fill-opacity="0.27"/>
<circle cx="142.0" cy="531.6" r="0.35" fill="#c89088" fill-opacity="0.26"/>
<circle cx="168.6" cy="545.7" r="0.35" fill="#d49890" fill-opacity="0.24"/>
<circle cx="165.8" cy="535.4" r="0.55" fill="#dca0a0" fill-opacity="0.18"/>
<circle cx="159.0" cy="556.4" r="0.55" fill="#c89088" fill-opacity="0.33"/>
<circle cx="157.9" cy="557.4" r="0.45" fill="#c89088" fill-opacity="0.18"/>
<circle cx="132.9" cy="539.4" r="0.55" fill="#d49890" fill-opacity="0.23"/>
<circle cx="163.6" cy="535.5" r="0.35" fill="#c89088" fill-opacity="0.18"/>
<circle cx="170.8" cy="538.9" r="0.55" fill="#c89088" fill-opacity="0.30"/>
<circle cx="166.2" cy="512.1" r="0.55" fill="#c89088" fill-opacity="0.43"/>
<circle cx="150.0" cy="525.1" r="0.45" fill="#d49890" fill-opacity="0.34"/>
<circle cx="172.9" cy="526.9" r="0.45" fill="#d49890" fill-opacity="0.28"/>
<circle cx="166.0" cy="554.6" r="0.55" fill="#d49890" fill-opacity="0.20"/>
<circle cx="176.0" cy="523.5" r="0.35" fill="#dca0a0" fill-opacity="0.40"/>
<circle cx="174.5" cy="539.5" r="0.55" fill="#c89088" fill-opacity="0.17"/>
<circle cx="166.2" cy="550.8" r="0.35" fill="#e0aaa8" fill-opacity="0.33"/>
<circle cx="132.2" cy="540.4" r="0.45" fill="#e0aaa8" fill-opacity="0.26"/>
<circle cx="139.6" cy="543.0" r="0.45" fill="#d49890" fill-opacity="0.28"/>
<circle cx="161.0" cy="509.1" r="0.35" fill="#c89088" fill-opacity="0.37"/>
</g>
<circle cx="152.1" cy="532.7" r="27.8" fill="none" stroke="#da4c62" stroke-width="1.5"/>
<circle cx="137" cy="527.4" r="2.5" fill="url(#blob)" opacity="0.5"/>
<circle cx="155.4" cy="534" r="2.5" fill="url(#blob)" opacity="0.5"/>
<circle cx="209.6" cy="532.7" r="27.8" fill="url(#wellg1)"/>
<g filter="url(#bl2)">
<circle cx="211.3" cy="537.4" r="3.08" fill="#c8a0a0" fill-opacity="0.11"/>
<circle cx="232.1" cy="522.8" r="3.01" fill="#c8a0a0" fill-opacity="0.10"/>
<circle cx="201.8" cy="535.4" r="3.08" fill="#c8a0a0" fill-opacity="0.18"/>
<circle cx="197.3" cy="519.9" r="2.08" fill="#c8a0a0" fill-opacity="0.18"/>
<circle cx="188.9" cy="535.6" r="1.74" fill="#c8a0a0" fill-opacity="0.11"/>
<circle cx="230.5" cy="540.5" r="2.44" fill="#c8a0a0" fill-opacity="0.10"/>
<circle cx="219.0" cy="522.8" r="2.20" fill="#c8a0a0" fill-opacity="0.10"/>
<circle cx="206.4" cy="556.7" r="2.07" fill="#c8a0a0" fill-opacity="0.10"/>
<circle cx="194.7" cy="533.5" r="3.04" fill="#c8a0a0" fill-opacity="0.09"/>
<circle cx="215.8" cy="531.9" r="3.02" fill="#c8a0a0" fill-opacity="0.16"/>
<circle cx="214.0" cy="550.4" r="1.99" fill="#c8a0a0" fill-opacity="0.11"/>
<circle cx="214.4" cy="547.9" r="3.18" fill="#c8a0a0" fill-opacity="0.20"/>
<circle cx="217.0" cy="529.0" r="1.99" fill="#c8a0a0" fill-opacity="0.19"/>
<circle cx="230.7" cy="540.7" r="2.00" fill="#c8a0a0" fill-opacity="0.20"/>
<circle cx="233.2" cy="535.1" r="2.08" fill="#c8a0a0" fill-opacity="0.10"/>
<circle cx="233.7" cy="533.0" r="2.40" fill="#c8a0a0" fill-opacity="0.10"/>
<circle cx="186.4" cy="542.7" r="1.87" fill="#c8a0a0" fill-opacity="0.15"/>
<circle cx="216.8" cy="541.2" r="2.81" fill="#c8a0a0" fill-opacity="0.17"/>
<circle cx="212.0" cy="539.7" r="1.65" fill="#c8a0a0" fill-opacity="0.15"/>
<circle cx="195.8" cy="533.1" r="1.85" fill="#c8a0a0" fill-opacity="0.15"/>
<circle cx="203.4" cy="509.7" r="2.49" fill="#c8a0a0" fill-opacity="0.10"/>
<circle cx="230.3" cy="541.8" r="2.19" fill="#c8a0a0" fill-opacity="0.17"/>
<circle cx="232.0" cy="540.8" r="2.07" fill="#c8a0a0" fill-opacity="0.18"/>
<circle cx="221.8" cy="518.8" r="1.53" fill="#c8a0a0" fill-opacity="0.19"/>
<circle cx="185.2" cy="536.3" r="1.95" fill="#c8a0a0" fill-opacity="0.10"/>
<circle cx="217.5" cy="518.8" r="1.78" fill="#c8a0a0" fill-opacity="0.12"/>
<circle cx="208.1" cy="531.7" r="2.38" fill="#c8a0a0" fill-opacity="0.13"/>
<circle cx="200.5" cy="531.8" r="2.71" fill="#c8a0a0" fill-opacity="0.18"/>
<circle cx="219.5" cy="521.5" r="2.71" fill="#c8a0a0" fill-opacity="0.13"/>
<circle cx="209.7" cy="526.2" r="2.98" fill="#c8a0a0" fill-opacity="0.19"/>
<circle cx="190.7" cy="533.3" r="2.40" fill="#c8a0a0" fill-opacity="0.14"/>
<circle cx="235.4" cy="536.1" r="1.88" fill="#c8a0a0" fill-opacity="0.10"/>
<circle cx="220.2" cy="540.6" r="2.89" fill="#c8a0a0" fill-opacity="0.08"/>
<circle cx="227.7" cy="545.3" r="1.83" fill="#c8a0a0" fill-opacity="0.08"/>
<circle cx="193.3" cy="521.0" r="2.39" fill="#c8a0a0" fill-opacity="0.16"/>
<circle cx="229.3" cy="547.5" r="2.72" fill="#c8a0a0" fill-opacity="0.09"/>
<circle cx="222.9" cy="545.7" r="2.35" fill="#c8a0a0" fill-opacity="0.11"/>
<circle cx="221.7" cy="544.4" r="1.73" fill="#c8a0a0" fill-opacity="0.15"/>
<circle cx="216.1" cy="524.9" r="2.47" fill="#c8a0a0" fill-opacity="0.17"/>
<circle cx="221.9" cy="553.3" r="3.09" fill="#c8a0a0" fill-opacity="0.13"/>
<circle cx="188.4" cy="544.3" r="2.39" fill="#c8a0a0" fill-opacity="0.13"/>
<circle cx="231.3" cy="524.3" r="2.08" fill="#c8a0a0" fill-opacity="0.11"/>
<circle cx="200.7" cy="547.7" r="3.17" fill="#c8a0a0" fill-opacity="0.18"/>
<circle cx="230.0" cy="520.3" r="2.94" fill="#c8a0a0" fill-opacity="0.09"/>
<circle cx="183.9" cy="529.9" r="3.09" fill="#c8a0a0" fill-opacity="0.11"/>
</g>
<g filter="url(#bl)">
<circle cx="191.1" cy="542.6" r="0.45" fill="#dca0a0" fill-opacity="0.31"/>
<circle cx="225.4" cy="540.0" r="0.55" fill="#dca0a0" fill-opacity="0.22"/>
<circle cx="195.0" cy="540.7" r="0.45" fill="#dca0a0" fill-opacity="0.39"/>
<circle cx="228.2" cy="516.2" r="0.35" fill="#e0aaa8" fill-opacity="0.43"/>
<circle cx="194.7" cy="518.0" r="0.35" fill="#dca0a0" fill-opacity="0.23"/>
<circle cx="192.3" cy="530.5" r="0.35" fill="#e0aaa8" fill-opacity="0.18"/>
<circle cx="203.4" cy="541.5" r="0.35" fill="#e0aaa8" fill-opacity="0.18"/>
<circle cx="188.1" cy="519.0" r="0.45" fill="#dca0a0" fill-opacity="0.30"/>
<circle cx="228.6" cy="516.0" r="0.55" fill="#e0aaa8" fill-opacity="0.23"/>
<circle cx="207.6" cy="510.1" r="0.45" fill="#c89088" fill-opacity="0.33"/>
<circle cx="190.3" cy="523.6" r="0.35" fill="#e0aaa8" fill-opacity="0.29"/>
<circle cx="189.9" cy="526.6" r="0.45" fill="#e0aaa8" fill-opacity="0.16"/>
<circle cx="203.8" cy="542.6" r="0.55" fill="#c89088" fill-opacity="0.44"/>
<circle cx="189.4" cy="548.1" r="0.35" fill="#d49890" fill-opacity="0.25"/>
<circle cx="203.3" cy="544.9" r="0.35" fill="#e0aaa8" fill-opacity="0.17"/>
<circle cx="229.0" cy="535.4" r="0.55" fill="#e0aaa8" fill-opacity="0.28"/>
<circle cx="224.8" cy="538.9" r="0.45" fill="#e0aaa8" fill-opacity="0.37"/>
<circle cx="219.3" cy="540.6" r="0.55" fill="#d49890" fill-opacity="0.28"/>
<circle cx="204.7" cy="524.1" r="0.35" fill="#e0aaa8" fill-opacity="0.40"/>
<circle cx="187.0" cy="530.2" r="0.55" fill="#c89088" fill-opacity="0.23"/>
<circle cx="195.3" cy="517.3" r="0.55" fill="#d49890" fill-opacity="0.27"/>
<circle cx="223.1" cy="542.9" r="0.55" fill="#dca0a0" fill-opacity="0.30"/>
<circle cx="229.0" cy="528.1" r="0.45" fill="#e0aaa8" fill-opacity="0.41"/>
<circle cx="196.9" cy="522.5" r="0.45" fill="#c89088" fill-opacity="0.24"/>
<circle cx="200.2" cy="545.2" r="0.55" fill="#c89088" fill-opacity="0.34"/>
<circle cx="232.4" cy="533.7" r="0.45" fill="#c89088" fill-opacity="0.28"/>
<circle cx="215.4" cy="546.0" r="0.35" fill="#c89088" fill-opacity="0.32"/>
<circle cx="202.8" cy="528.9" r="0.45" fill="#e0aaa8" fill-opacity="0.44"/>
<circle cx="199.5" cy="524.5" r="0.45" fill="#d49890" fill-opacity="0.44"/>
<circle cx="229.6" cy="516.4" r="0.35" fill="#dca0a0" fill-opacity="0.23"/>
<circle cx="221.1" cy="523.9" r="0.55" fill="#e0aaa8" fill-opacity="0.31"/>
<circle cx="228.6" cy="532.5" r="0.55" fill="#c89088" fill-opacity="0.27"/>
<circle cx="196.8" cy="548.6" r="0.45" fill="#c89088" fill-opacity="0.43"/>
<circle cx="201.1" cy="515.6" r="0.35" fill="#c89088" fill-opacity="0.26"/>
<circle cx="193.5" cy="544.2" r="0.55" fill="#d49890" fill-opacity="0.41"/>
<circle cx="227.6" cy="528.6" r="0.45" fill="#e0aaa8" fill-opacity="0.36"/>
<circle cx="209.4" cy="524.7" r="0.45" fill="#e0aaa8" fill-opacity="0.26"/>
<circle cx="222.7" cy="539.4" r="0.35" fill="#dca0a0" fill-opacity="0.35"/>
<circle cx="205.3" cy="547.6" r="0.55" fill="#c89088" fill-opacity="0.34"/>
<circle cx="186.0" cy="529.1" r="0.35" fill="#d49890" fill-opacity="0.27"/>
<circle cx="228.0" cy="540.0" r="0.35" fill="#e0aaa8" fill-opacity="0.32"/>
<circle cx="194.4" cy="516.2" r="0.55" fill="#c89088" fill-opacity="0.15"/>
<circle cx="231.9" cy="533.1" r="0.55" fill="#dca0a0" fill-opacity="0.43"/>
<circle cx="203.0" cy="537.7" r="0.35" fill="#dca0a0" fill-opacity="0.21"/>
<circle cx="190.0" cy="533.0" r="0.45" fill="#d49890" fill-opacity="0.32"/>
<circle cx="201.8" cy="537.6" r="0.35" fill="#dca0a0" fill-opacity="0.16"/>
<circle cx="232.4" cy="544.5" r="0.45" fill="#c89088" fill-opacity="0.33"/>
<circle cx="211.9" cy="526.5" r="0.35" fill="#e0aaa8" fill-opacity="0.19"/>
<circle cx="210.6" cy="546.5" r="0.35" fill="#e0aaa8" fill-opacity="0.34"/>
<circle cx="225.9" cy="512.8" r="0.35" fill="#e0aaa8" fill-opacity="0.21"/>
<circle cx="207.0" cy="530.1" r="0.35" fill="#c89088" fill-opacity="0.32"/>
<circle cx="226.6" cy="528.3" r="0.55" fill="#d49890" fill-opacity="0.22"/>
<circle cx="234.1" cy="539.7" r="0.35" fill="#e0aaa8" fill-opacity="0.15"/>
<circle cx="221.6" cy="519.5" r="0.45" fill="#e0aaa8" fill-opacity="0.44"/>
<circle cx="183.9" cy="533.4" r="0.35" fill="#c89088" fill-opacity="0.35"/>
<circle cx="195.0" cy="524.1" r="0.45" fill="#c89088" fill-opacity="0.16"/>
<circle cx="214.9" cy="526.9" r="0.35" fill="#e0aaa8" fill-opacity="0.26"/>
<circle cx="234.4" cy="533.9" r="0.45" fill="#e0aaa8" fill-opacity="0.18"/>
<circle cx="193.6" cy="529.2" r="0.45" fill="#dca0a0" fill-opacity="0.44"/>
<circle cx="187.3" cy="544.5" r="0.55" fill="#d49890" fill-opacity="0.27"/>
<circle cx="194.4" cy="535.9" r="0.45" fill="#dca0a0" fill-opacity="0.23"/>
<circle cx="233.0" cy="536.4" r="0.35" fill="#d49890" fill-opacity="0.18"/>
<circle cx="206.6" cy="556.6" r="0.35" fill="#c89088" fill-opacity="0.29"/>
<circle cx="213.2" cy="520.3" r="0.45" fill="#e0aaa8" fill-opacity="0.21"/>
<circle cx="192.3" cy="544.5" r="0.55" fill="#d49890" fill-opacity="0.24"/>
<circle cx="197.8" cy="534.5" r="0.45" fill="#d49890" fill-opacity="0.43"/>
<circle cx="230.0" cy="532.4" r="0.45" fill="#e0aaa8" fill-opacity="0.31"/>
<circle cx="194.1" cy="543.4" r="0.35" fill="#dca0a0" fill-opacity="0.35"/>
<circle cx="230.1" cy="546.0" r="0.55" fill="#c89088" fill-opacity="0.16"/>
<circle cx="207.6" cy="522.8" r="0.35" fill="#c89088" fill-opacity="0.36"/>
<circle cx="201.7" cy="510.8" r="0.35" fill="#e0aaa8" fill-opacity="0.21"/>
<circle cx="214.9" cy="528.4" r="0.45" fill="#e0aaa8" fill-opacity="0.21"/>
<circle cx="208.1" cy="525.0" r="0.45" fill="#d49890" fill-opacity="0.40"/>
<circle cx="196.9" cy="542.0" r="0.45" fill="#d49890" fill-opacity="0.43"/>
<circle cx="216.7" cy="547.0" r="0.55" fill="#e0aaa8" fill-opacity="0.42"/>
<circle cx="231.5" cy="536.2" r="0.45" fill="#d49890" fill-opacity="0.45"/>
<circle cx="189.2" cy="547.4" r="0.35" fill="#d49890" fill-opacity="0.24"/>
<circle cx="206.9" cy="553.1" r="0.35" fill="#dca0a0" fill-opacity="0.27"/>
<circle cx="196.1" cy="521.8" r="0.45" fill="#d49890" fill-opacity="0.26"/>
<circle cx="223.9" cy="536.3" r="0.55" fill="#d49890" fill-opacity="0.32"/>
<circle cx="212.2" cy="551.2" r="0.55" fill="#e0aaa8" fill-opacity="0.43"/>
<circle cx="200.0" cy="515.1" r="0.35" fill="#dca0a0" fill-opacity="0.40"/>
<circle cx="211.9" cy="518.8" r="0.35" fill="#dca0a0" fill-opacity="0.44"/>
<circle cx="207.5" cy="528.1" r="0.45" fill="#d49890" fill-opacity="0.38"/>
<circle cx="195.3" cy="553.5" r="0.45" fill="#c89088" fill-opacity="0.45"/>
<circle cx="200.3" cy="524.5" r="0.55" fill="#dca0a0" fill-opacity="0.25"/>
<circle cx="226.3" cy="527.2" r="0.45" fill="#c89088" fill-opacity="0.30"/>
<circle cx="204.3" cy="522.0" r="0.55" fill="#d49890" fill-opacity="0.30"/>
<circle cx="219.2" cy="556.6" r="0.55" fill="#e0aaa8" fill-opacity="0.20"/>
<circle cx="221.6" cy="552.7" r="0.35" fill="#e0aaa8" fill-opacity="0.22"/>
</g>
<circle cx="209.6" cy="532.7" r="27.8" fill="none" stroke="#da4c62" stroke-width="1.5"/>
<circle cx="192.6" cy="532.5" r="3" fill="url(#blob)" opacity="0.6"/>
<circle cx="36.7" cy="596.2" r="27.8" fill="url(#wellg2)"/>
<g filter="url(#bl2)">
<circle cx="45.0" cy="579.5" r="9.7" fill="#b87058" fill-opacity="0.18"/>
<circle cx="53.4" cy="593.4" r="7.0" fill="#b87058" fill-opacity="0.15"/>
<circle cx="20.0" cy="587.9" r="7.0" fill="#b87058" fill-opacity="0.1"/>
</g>
<g filter="url(#bl)">
<circle cx="47.0" cy="578.2" r="0.70" fill="#b4654a" fill-opacity="0.50"/>
<circle cx="36.9" cy="578.2" r="0.70" fill="#a85a3a" fill-opacity="0.84"/>
<circle cx="39.5" cy="578.8" r="0.50" fill="#8e4228" fill-opacity="0.78"/>
<circle cx="38.1" cy="570.8" r="0.60" fill="#a85a3a" fill-opacity="0.76"/>
<circle cx="41.3" cy="579.8" r="0.60" fill="#9c4a2e" fill-opacity="0.52"/>
<circle cx="33.4" cy="576.3" r="0.70" fill="#a85a3a" fill-opacity="0.43"/>
<circle cx="46.8" cy="575.2" r="1.00" fill="#b86a50" fill-opacity="0.65"/>
<circle cx="36.5" cy="585.0" r="0.70" fill="#a85a3a" fill-opacity="0.64"/>
<circle cx="46.5" cy="580.9" r="0.50" fill="#b4654a" fill-opacity="0.37"/>
<circle cx="34.5" cy="583.4" r="0.70" fill="#a85a3a" fill-opacity="0.57"/>
<circle cx="29.7" cy="574.6" r="0.50" fill="#b4654a" fill-opacity="0.69"/>
<circle cx="45.9" cy="582.1" r="0.40" fill="#a85a3a" fill-opacity="0.84"/>
<circle cx="34.6" cy="574.0" r="0.40" fill="#a85a3a" fill-opacity="0.81"/>
<circle cx="45.2" cy="579.0" r="0.50" fill="#b86a50" fill-opacity="0.72"/>
<circle cx="37.8" cy="578.9" r="0.40" fill="#a85a3a" fill-opacity="0.58"/>
<circle cx="46.1" cy="578.0" r="0.70" fill="#9c4a2e" fill-opacity="0.56"/>
<circle cx="44.4" cy="582.9" r="1.00" fill="#8e4228" fill-opacity="0.79"/>
<circle cx="37.6" cy="577.4" r="0.40" fill="#b86a50" fill-opacity="0.47"/>
<circle cx="37.3" cy="580.9" r="1.00" fill="#9c4a2e" fill-opacity="0.37"/>
<circle cx="38.1" cy="578.7" r="0.85" fill="#b86a50" fill-opacity="0.47"/>
<circle cx="41.8" cy="577.0" r="0.70" fill="#9c4a2e" fill-opacity="0.71"/>
<circle cx="52.4" cy="576.4" r="0.40" fill="#b4654a" fill-opacity="0.38"/>
<circle cx="50.4" cy="580.1" r="0.40" fill="#9c4a2e" fill-opacity="0.83"/>
<circle cx="49.8" cy="576.1" r="0.50" fill="#b86a50" fill-opacity="0.56"/>
<circle cx="47.1" cy="579.8" r="0.50" fill="#a85a3a" fill-opacity="0.69"/>
<circle cx="36.7" cy="577.8" r="0.50" fill="#b86a50" fill-opacity="0.60"/>
<circle cx="40.0" cy="576.6" r="0.40" fill="#b86a50" fill-opacity="0.53"/>
<circle cx="49.6" cy="573.8" r="0.70" fill="#9c4a2e" fill-opacity="0.52"/>
<circle cx="37.8" cy="574.1" r="0.50" fill="#a85a3a" fill-opacity="0.72"/>
<circle cx="41.0" cy="579.0" r="0.60" fill="#a85a3a" fill-opacity="0.36"/>
<circle cx="52.7" cy="578.0" r="0.60" fill="#9c4a2e" fill-opacity="0.83"/>
<circle cx="44.0" cy="573.8" r="0.50" fill="#b86a50" fill-opacity="0.37"/>
<circle cx="44.8" cy="582.2" r="0.85" fill="#b4654a" fill-opacity="0.48"/>
<circle cx="46.8" cy="583.1" r="0.60" fill="#9c4a2e" fill-opacity="0.68"/>
<circle cx="38.8" cy="579.1" r="0.85" fill="#b4654a" fill-opacity="0.62"/>
<circle cx="43.7" cy="573.5" r="1.00" fill="#8e4228" fill-opacity="0.84"/>
<circle cx="34.9" cy="580.6" r="1.00" fill="#b4654a" fill-opacity="0.55"/>
<circle cx="31.9" cy="582.5" r="0.60" fill="#b86a50" fill-opacity="0.56"/>
<circle cx="41.0" cy="577.9" r="0.50" fill="#8e4228" fill-opacity="0.73"/>
<circle cx="31.9" cy="574.3" r="0.70" fill="#a85a3a" fill-opacity="0.80"/>
<circle cx="32.7" cy="576.9" r="1.00" fill="#9c4a2e" fill-opacity="0.47"/>
<circle cx="44.1" cy="579.7" r="0.85" fill="#b4654a" fill-opacity="0.70"/>
<circle cx="38.4" cy="575.9" r="1.00" fill="#8e4228" fill-opacity="0.85"/>
<circle cx="39.3" cy="574.4" r="0.50" fill="#9c4a2e" fill-opacity="0.39"/>
<circle cx="23.6" cy="580.6" r="0.85" fill="#9c4a2e" fill-opacity="0.80"/>
<circle cx="42.5" cy="577.4" r="0.40" fill="#8e4228" fill-opacity="0.70"/>
<circle cx="36.7" cy="577.7" r="0.60" fill="#8e4228" fill-opacity="0.62"/>
<circle cx="40.8" cy="576.4" r="0.60" fill="#8e4228" fill-opacity="0.84"/>
<circle cx="42.6" cy="572.5" r="0.40" fill="#8e4228" fill-opacity="0.72"/>
<circle cx="38.7" cy="582.7" r="0.70" fill="#b86a50" fill-opacity="0.52"/>
<circle cx="47.6" cy="588.6" r="0.85" fill="#8e4228" fill-opacity="0.47"/>
<circle cx="49.6" cy="595.6" r="1.00" fill="#8e4228" fill-opacity="0.53"/>
<circle cx="48.1" cy="578.0" r="0.40" fill="#8e4228" fill-opacity="0.84"/>
<circle cx="54.0" cy="586.9" r="0.60" fill="#b86a50" fill-opacity="0.68"/>
<circle cx="50.7" cy="596.5" r="0.60" fill="#9c4a2e" fill-opacity="0.66"/>
<circle cx="48.4" cy="586.8" r="0.85" fill="#a85a3a" fill-opacity="0.81"/>
<circle cx="52.6" cy="592.0" r="0.60" fill="#b4654a" fill-opacity="0.80"/>
<circle cx="49.9" cy="596.2" r="0.70" fill="#b4654a" fill-opacity="0.61"/>
<circle cx="61.0" cy="586.5" r="0.70" fill="#b86a50" fill-opacity="0.46"/>
<circle cx="57.6" cy="587.0" r="0.50" fill="#9c4a2e" fill-opacity="0.81"/>
<circle cx="52.5" cy="587.0" r="0.85" fill="#b4654a" fill-opacity="0.61"/>
<circle cx="49.4" cy="580.7" r="0.85" fill="#a85a3a" fill-opacity="0.76"/>
<circle cx="50.4" cy="597.9" r="0.50" fill="#a85a3a" fill-opacity="0.43"/>
<circle cx="56.6" cy="586.9" r="1.00" fill="#8e4228" fill-opacity="0.44"/>
<circle cx="49.9" cy="584.6" r="1.00" fill="#9c4a2e" fill-opacity="0.51"/>
<circle cx="47.2" cy="601.3" r="0.60" fill="#8e4228" fill-opacity="0.41"/>
<circle cx="54.6" cy="590.0" r="0.50" fill="#b4654a" fill-opacity="0.54"/>
<circle cx="50.0" cy="582.4" r="0.60" fill="#b4654a" fill-opacity="0.68"/>
<circle cx="57.3" cy="594.5" r="0.85" fill="#b86a50" fill-opacity="0.50"/>
<circle cx="48.2" cy="595.9" r="1.00" fill="#9c4a2e" fill-opacity="0.49"/>
<circle cx="47.6" cy="593.5" r="0.60" fill="#8e4228" fill-opacity="0.70"/>
<circle cx="48.1" cy="586.5" r="0.70" fill="#8e4228" fill-opacity="0.72"/>
<circle cx="54.0" cy="592.1" r="0.50" fill="#b86a50" fill-opacity="0.42"/>
<circle cx="56.0" cy="583.7" r="1.00" fill="#a85a3a" fill-opacity="0.53"/>
<circle cx="58.3" cy="598.2" r="0.85" fill="#a85a3a" fill-opacity="0.66"/>
<circle cx="51.9" cy="592.4" r="0.85" fill="#b4654a" fill-opacity="0.75"/>
<circle cx="48.9" cy="588.2" r="0.60" fill="#9c4a2e" fill-opacity="0.63"/>
<circle cx="46.7" cy="589.8" r="0.40" fill="#b86a50" fill-opacity="0.48"/>
<circle cx="52.8" cy="598.2" r="0.85" fill="#a85a3a" fill-opacity="0.50"/>
<circle cx="55.8" cy="594.7" r="0.85" fill="#b4654a" fill-opacity="0.81"/>
<circle cx="50.5" cy="587.8" r="0.60" fill="#a85a3a" fill-opacity="0.48"/>
<circle cx="50.6" cy="590.7" r="0.70" fill="#9c4a2e" fill-opacity="0.61"/>
<circle cx="44.3" cy="594.4" r="0.70" fill="#9c4a2e" fill-opacity="0.45"/>
<circle cx="45.7" cy="585.8" r="0.70" fill="#b4654a" fill-opacity="0.66"/>
<circle cx="52.1" cy="585.8" r="0.60" fill="#9c4a2e" fill-opacity="0.71"/>
<circle cx="58.6" cy="588.6" r="0.70" fill="#b4654a" fill-opacity="0.37"/>
<circle cx="58.3" cy="597.1" r="0.60" fill="#8e4228" fill-opacity="0.57"/>
<circle cx="50.0" cy="591.9" r="0.85" fill="#b4654a" fill-opacity="0.53"/>
<circle cx="57.2" cy="587.0" r="0.70" fill="#b86a50" fill-opacity="0.41"/>
<circle cx="52.3" cy="585.5" r="0.85" fill="#a85a3a" fill-opacity="0.84"/>
<circle cx="52.2" cy="586.9" r="1.00" fill="#b86a50" fill-opacity="0.54"/>
<circle cx="52.3" cy="595.9" r="1.00" fill="#a85a3a" fill-opacity="0.51"/>
<circle cx="57.6" cy="590.1" r="0.40" fill="#9c4a2e" fill-opacity="0.73"/>
<circle cx="52.8" cy="595.0" r="0.70" fill="#8e4228" fill-opacity="0.61"/>
<circle cx="50.8" cy="582.2" r="0.70" fill="#9c4a2e" fill-opacity="0.40"/>
<circle cx="27.3" cy="583.2" r="0.85" fill="#8e4228" fill-opacity="0.82"/>
<circle cx="26.4" cy="582.9" r="1.00" fill="#8e4228" fill-opacity="0.56"/>
<circle cx="31.2" cy="582.3" r="0.70" fill="#a85a3a" fill-opacity="0.80"/>
<circle cx="25.9" cy="602.6" r="0.70" fill="#8e4228" fill-opacity="0.60"/>
<circle cx="16.3" cy="602.5" r="0.85" fill="#9c4a2e" fill-opacity="0.69"/>
<circle cx="25.3" cy="596.3" r="1.00" fill="#a85a3a" fill-opacity="0.55"/>
<circle cx="21.1" cy="588.2" r="0.40" fill="#b4654a" fill-opacity="0.63"/>
<circle cx="19.4" cy="588.3" r="0.70" fill="#8e4228" fill-opacity="0.41"/>
<circle cx="31.0" cy="603.0" r="0.50" fill="#9c4a2e" fill-opacity="0.64"/>
<circle cx="19.5" cy="584.9" r="0.40" fill="#9c4a2e" fill-opacity="0.60"/>
<circle cx="23.5" cy="599.1" r="0.50" fill="#b86a50" fill-opacity="0.58"/>
<circle cx="25.3" cy="581.3" r="1.00" fill="#a85a3a" fill-opacity="0.71"/>
<circle cx="22.3" cy="591.8" r="0.70" fill="#9c4a2e" fill-opacity="0.63"/>
<circle cx="29.1" cy="600.2" r="1.00" fill="#8e4228" fill-opacity="0.77"/>
<circle cx="24.2" cy="600.4" r="0.50" fill="#8e4228" fill-opacity="0.76"/>
<circle cx="19.3" cy="603.0" r="1.00" fill="#a85a3a" fill-opacity="0.51"/>
<circle cx="19.1" cy="593.8" r="0.50" fill="#b86a50" fill-opacity="0.84"/>
<circle cx="26.3" cy="583.3" r="0.50" fill="#b86a50" fill-opacity="0.49"/>
<circle cx="22.3" cy="590.2" r="0.60" fill="#9c4a2e" fill-opacity="0.51"/>
<circle cx="19.7" cy="594.6" r="0.60" fill="#b4654a" fill-opacity="0.63"/>
<circle cx="21.9" cy="588.5" r="0.85" fill="#8e4228" fill-opacity="0.69"/>
<circle cx="25.6" cy="604.7" r="0.60" fill="#b4654a" fill-opacity="0.47"/>
<circle cx="19.0" cy="583.1" r="0.70" fill="#8e4228" fill-opacity="0.78"/>
<circle cx="18.2" cy="591.4" r="0.60" fill="#b4654a" fill-opacity="0.45"/>
<circle cx="24.5" cy="583.7" r="0.40" fill="#a85a3a" fill-opacity="0.62"/>
<circle cx="26.7" cy="582.4" r="0.60" fill="#8e4228" fill-opacity="0.68"/>
<circle cx="25.8" cy="594.1" r="1.00" fill="#b86a50" fill-opacity="0.42"/>
<circle cx="23.9" cy="607.9" r="0.60" fill="#a85a3a" fill-opacity="0.58"/>
<circle cx="20.0" cy="589.3" r="1.00" fill="#b86a50" fill-opacity="0.68"/>
<circle cx="24.0" cy="597.6" r="1.00" fill="#b4654a" fill-opacity="0.35"/>
<circle cx="48.0" cy="607.4" r="0.40" fill="#8e4228" fill-opacity="0.83"/>
<circle cx="50.4" cy="609.3" r="0.60" fill="#9c4a2e" fill-opacity="0.49"/>
<circle cx="58.9" cy="606.2" r="0.70" fill="#b4654a" fill-opacity="0.45"/>
<circle cx="53.0" cy="606.9" r="0.50" fill="#b86a50" fill-opacity="0.66"/>
<circle cx="41.6" cy="610.0" r="0.70" fill="#8e4228" fill-opacity="0.45"/>
<circle cx="55.6" cy="606.8" r="0.50" fill="#9c4a2e" fill-opacity="0.44"/>
<circle cx="51.8" cy="602.0" r="1.00" fill="#9c4a2e" fill-opacity="0.37"/>
<circle cx="52.7" cy="612.4" r="0.40" fill="#b86a50" fill-opacity="0.60"/>
<circle cx="53.0" cy="613.1" r="0.40" fill="#b86a50" fill-opacity="0.72"/>
<circle cx="43.1" cy="603.5" r="0.50" fill="#8e4228" fill-opacity="0.46"/>
<circle cx="54.5" cy="605.9" r="1.00" fill="#b4654a" fill-opacity="0.75"/>
<circle cx="46.7" cy="602.4" r="0.85" fill="#a85a3a" fill-opacity="0.42"/>
<circle cx="58.4" cy="599.0" r="1.00" fill="#a85a3a" fill-opacity="0.61"/>
<circle cx="49.4" cy="600.1" r="0.70" fill="#9c4a2e" fill-opacity="0.45"/>
<circle cx="51.2" cy="609.4" r="0.40" fill="#9c4a2e" fill-opacity="0.56"/>
<circle cx="55.8" cy="595.1" r="1.00" fill="#b4654a" fill-opacity="0.70"/>
<circle cx="59.2" cy="602.8" r="0.70" fill="#8e4228" fill-opacity="0.43"/>
<circle cx="51.0" cy="614.8" r="0.40" fill="#a85a3a" fill-opacity="0.37"/>
<circle cx="53.1" cy="599.3" r="0.70" fill="#b4654a" fill-opacity="0.73"/>
<circle cx="50.8" cy="602.1" r="0.85" fill="#b4654a" fill-opacity="0.70"/>
<circle cx="23.0" cy="608.8" r="1.00" fill="#a85a3a" fill-opacity="0.50"/>
<circle cx="33.0" cy="611.5" r="0.60" fill="#b4654a" fill-opacity="0.62"/>
<circle cx="23.1" cy="610.6" r="0.50" fill="#a85a3a" fill-opacity="0.82"/>
<circle cx="28.5" cy="613.1" r="1.00" fill="#a85a3a" fill-opacity="0.55"/>
<circle cx="26.6" cy="611.9" r="0.40" fill="#b4654a" fill-opacity="0.54"/>
<circle cx="39.6" cy="610.5" r="1.00" fill="#b4654a" fill-opacity="0.46"/>
<circle cx="22.6" cy="611.4" r="0.85" fill="#9c4a2e" fill-opacity="0.45"/>
<circle cx="24.1" cy="608.6" r="0.50" fill="#a85a3a" fill-opacity="0.56"/>
<circle cx="29.4" cy="611.4" r="1.00" fill="#8e4228" fill-opacity="0.41"/>
<circle cx="26.8" cy="613.5" r="0.60" fill="#9c4a2e" fill-opacity="0.68"/>
<circle cx="27.3" cy="604.9" r="0.50" fill="#b86a50" fill-opacity="0.61"/>
<circle cx="33.0" cy="608.6" r="0.60" fill="#8e4228" fill-opacity="0.52"/>
<circle cx="54.5" cy="586.6" r="0.70" fill="#9c4a2e" fill-opacity="0.45"/>
<circle cx="46.5" cy="601.6" r="0.60" fill="#b4654a" fill-opacity="0.65"/>
<circle cx="13.7" cy="583.5" r="0.85" fill="#9c4a2e" fill-opacity="0.45"/>
<circle cx="22.2" cy="614.4" r="0.70" fill="#b4654a" fill-opacity="0.73"/>
<circle cx="14.5" cy="606.9" r="0.50" fill="#b86a50" fill-opacity="0.81"/>
<circle cx="53.4" cy="603.8" r="0.40" fill="#b86a50" fill-opacity="0.65"/>
<circle cx="47.9" cy="588.0" r="0.40" fill="#b4654a" fill-opacity="0.45"/>
<circle cx="36.5" cy="600.2" r="0.50" fill="#b4654a" fill-opacity="0.38"/>
<circle cx="43.7" cy="608.0" r="0.60" fill="#b4654a" fill-opacity="0.57"/>
<circle cx="33.2" cy="584.4" r="0.50" fill="#b4654a" fill-opacity="0.72"/>
<circle cx="27.2" cy="603.2" r="0.50" fill="#9c4a2e" fill-opacity="0.74"/>
<circle cx="17.1" cy="581.4" r="0.60" fill="#9c4a2e" fill-opacity="0.71"/>
<circle cx="29.7" cy="586.8" r="0.70" fill="#9c4a2e" fill-opacity="0.72"/>
<circle cx="34.1" cy="570.4" r="0.40" fill="#a85a3a" fill-opacity="0.65"/>
<circle cx="30.7" cy="591.8" r="0.70" fill="#9c4a2e" fill-opacity="0.37"/>
<circle cx="45.7" cy="573.2" r="0.85" fill="#b86a50" fill-opacity="0.40"/>
<circle cx="31.4" cy="604.4" r="1.00" fill="#a85a3a" fill-opacity="0.56"/>
<circle cx="44.0" cy="614.1" r="0.60" fill="#9c4a2e" fill-opacity="0.54"/>
<circle cx="51.7" cy="581.3" r="1.00" fill="#a85a3a" fill-opacity="0.53"/>
<circle cx="47.5" cy="590.5" r="1.00" fill="#9c4a2e" fill-opacity="0.52"/>
<circle cx="26.1" cy="616.5" r="1.00" fill="#8e4228" fill-opacity="0.50"/>
<circle cx="26.7" cy="582.7" r="0.60" fill="#9c4a2e" fill-opacity="0.40"/>
<circle cx="30.1" cy="582.4" r="0.50" fill="#9c4a2e" fill-opacity="0.43"/>
<circle cx="52.6" cy="602.2" r="0.60" fill="#b86a50" fill-opacity="0.62"/>
<circle cx="56.8" cy="602.1" r="0.60" fill="#8e4228" fill-opacity="0.47"/>
<circle cx="27.3" cy="612.2" r="0.85" fill="#b86a50" fill-opacity="0.37"/>
<circle cx="25.8" cy="588.5" r="0.60" fill="#b4654a" fill-opacity="0.82"/>
<circle cx="33.7" cy="596.9" r="0.60" fill="#8e4228" fill-opacity="0.63"/>
<circle cx="54.4" cy="587.2" r="0.50" fill="#a85a3a" fill-opacity="0.71"/>
<circle cx="42.9" cy="595.7" r="0.85" fill="#b86a50" fill-opacity="0.47"/>
<circle cx="19.7" cy="581.4" r="0.40" fill="#9c4a2e" fill-opacity="0.40"/>
<circle cx="32.8" cy="603.3" r="0.40" fill="#8e4228" fill-opacity="0.75"/>
<circle cx="42.2" cy="604.5" r="1.00" fill="#b86a50" fill-opacity="0.46"/>
<circle cx="37.6" cy="588.3" r="1.00" fill="#a85a3a" fill-opacity="0.39"/>
<circle cx="43.4" cy="580.4" r="0.50" fill="#a85a3a" fill-opacity="0.77"/>
<circle cx="17.0" cy="591.3" r="0.40" fill="#8e4228" fill-opacity="0.55"/>
<circle cx="16.6" cy="588.9" r="0.85" fill="#9c4a2e" fill-opacity="0.50"/>
<circle cx="24.5" cy="587.2" r="0.40" fill="#9c4a2e" fill-opacity="0.68"/>
<circle cx="35.9" cy="582.8" r="0.50" fill="#a85a3a" fill-opacity="0.47"/>
<circle cx="31.2" cy="573.8" r="0.85" fill="#9c4a2e" fill-opacity="0.76"/>
<circle cx="39.1" cy="581.7" r="0.40" fill="#b86a50" fill-opacity="0.52"/>
<circle cx="40.4" cy="570.4" r="0.40" fill="#9c4a2e" fill-opacity="0.46"/>
<circle cx="23.4" cy="600.2" r="1.00" fill="#a85a3a" fill-opacity="0.76"/>
<circle cx="11.4" cy="592.5" r="0.60" fill="#9c4a2e" fill-opacity="0.76"/>
<circle cx="38.4" cy="598.1" r="0.70" fill="#b86a50" fill-opacity="0.81"/>
<circle cx="15.6" cy="599.4" r="0.40" fill="#b4654a" fill-opacity="0.82"/>
<circle cx="39.1" cy="580.5" r="0.70" fill="#8e4228" fill-opacity="0.37"/>
<circle cx="49.3" cy="595.4" r="0.50" fill="#a85a3a" fill-opacity="0.72"/>
<circle cx="37.0" cy="588.3" r="1.00" fill="#a85a3a" fill-opacity="0.43"/>
<circle cx="46.2" cy="597.9" r="0.60" fill="#a85a3a" fill-opacity="0.45"/>
<circle cx="54.1" cy="603.1" r="0.50" fill="#b4654a" fill-opacity="0.70"/>
<circle cx="26.1" cy="592.4" r="0.40" fill="#9c4a2e" fill-opacity="0.75"/>
<circle cx="51.5" cy="590.3" r="0.70" fill="#9c4a2e" fill-opacity="0.60"/>
<circle cx="43.3" cy="605.2" r="0.60" fill="#9c4a2e" fill-opacity="0.73"/>
<circle cx="34.8" cy="570.9" r="1.00" fill="#9c4a2e" fill-opacity="0.45"/>
<circle cx="39.1" cy="600.0" r="1.00" fill="#9c4a2e" fill-opacity="0.77"/>
<circle cx="39.0" cy="583.4" r="0.70" fill="#9c4a2e" fill-opacity="0.68"/>
<circle cx="55.2" cy="594.1" r="0.60" fill="#b86a50" fill-opacity="0.43"/>
<circle cx="26.5" cy="584.5" r="0.70" fill="#8e4228" fill-opacity="0.42"/>
<circle cx="42.3" cy="579.2" r="1.00" fill="#b4654a" fill-opacity="0.80"/>
<circle cx="25.5" cy="618.7" r="1.00" fill="#8e4228" fill-opacity="0.77"/>
<circle cx="54.3" cy="610.4" r="1.00" fill="#b86a50" fill-opacity="0.43"/>
<circle cx="56.1" cy="604.7" r="0.70" fill="#b86a50" fill-opacity="0.50"/>
<circle cx="16.7" cy="610.4" r="0.85" fill="#b86a50" fill-opacity="0.68"/>
<circle cx="55.1" cy="603.5" r="1.00" fill="#9c4a2e" fill-opacity="0.38"/>
<circle cx="15.3" cy="609.8" r="0.60" fill="#a85a3a" fill-opacity="0.47"/>
<circle cx="56.4" cy="589.1" r="0.85" fill="#8e4228" fill-opacity="0.63"/>
<circle cx="38.8" cy="609.3" r="0.70" fill="#b86a50" fill-opacity="0.80"/>
<circle cx="35.4" cy="613.5" r="1.00" fill="#9c4a2e" fill-opacity="0.55"/>
<circle cx="38.1" cy="608.0" r="0.70" fill="#b4654a" fill-opacity="0.76"/>
</g>
<circle cx="36.7" cy="596.2" r="27.5" fill="none" stroke="#7a5050" stroke-opacity="0.35" stroke-width="1.4"/>
<circle cx="36.7" cy="596.2" r="27.8" fill="none" stroke="#6654cc" stroke-width="1.7"/>
<circle cx="94.4" cy="596.2" r="27.8" fill="url(#wellg2)"/>
<g filter="url(#bl2)">
<circle cx="104.1" cy="582.3" r="9.7" fill="#b87058" fill-opacity="0.15"/>
<circle cx="94.4" cy="604.5" r="5.6" fill="#b87058" fill-opacity="0.15"/>
</g>
<g filter="url(#bl)">
<circle cx="101.7" cy="582.2" r="0.60" fill="#9c4a2e" fill-opacity="0.51"/>
<circle cx="96.5" cy="572.3" r="0.40" fill="#a85a3a" fill-opacity="0.57"/>
<circle cx="99.1" cy="587.2" r="1.00" fill="#8e4228" fill-opacity="0.73"/>
<circle cx="112.2" cy="581.1" r="0.60" fill="#b4654a" fill-opacity="0.75"/>
<circle cx="107.5" cy="581.2" r="0.40" fill="#8e4228" fill-opacity="0.62"/>
<circle cx="106.9" cy="575.6" r="0.60" fill="#a85a3a" fill-opacity="0.62"/>
<circle cx="98.0" cy="577.1" r="0.60" fill="#b4654a" fill-opacity="0.35"/>
<circle cx="101.7" cy="584.2" r="0.50" fill="#b4654a" fill-opacity="0.75"/>
<circle cx="96.0" cy="589.4" r="0.85" fill="#a85a3a" fill-opacity="0.40"/>
<circle cx="99.9" cy="577.8" r="0.60" fill="#8e4228" fill-opacity="0.66"/>
<circle cx="108.8" cy="583.2" r="0.60" fill="#9c4a2e" fill-opacity="0.62"/>
<circle cx="101.9" cy="575.2" r="0.70" fill="#a85a3a" fill-opacity="0.46"/>
<circle cx="97.4" cy="572.4" r="0.40" fill="#b86a50" fill-opacity="0.47"/>
<circle cx="111.8" cy="586.7" r="0.70" fill="#b86a50" fill-opacity="0.69"/>
<circle cx="116.6" cy="583.6" r="1.00" fill="#9c4a2e" fill-opacity="0.67"/>
<circle cx="106.4" cy="585.0" r="0.50" fill="#b4654a" fill-opacity="0.73"/>
<circle cx="110.5" cy="579.5" r="0.40" fill="#b4654a" fill-opacity="0.57"/>
<circle cx="106.5" cy="592.4" r="0.40" fill="#a85a3a" fill-opacity="0.66"/>
<circle cx="92.8" cy="573.4" r="0.85" fill="#a85a3a" fill-opacity="0.70"/>
<circle cx="97.7" cy="584.9" r="1.00" fill="#b4654a" fill-opacity="0.73"/>
<circle cx="112.1" cy="579.1" r="0.50" fill="#b4654a" fill-opacity="0.48"/>
<circle cx="108.6" cy="580.7" r="0.40" fill="#9c4a2e" fill-opacity="0.70"/>
<circle cx="106.1" cy="578.0" r="0.50" fill="#b4654a" fill-opacity="0.66"/>
<circle cx="103.9" cy="580.9" r="1.00" fill="#b86a50" fill-opacity="0.42"/>
<circle cx="111.7" cy="592.9" r="0.40" fill="#b86a50" fill-opacity="0.38"/>
<circle cx="92.0" cy="583.8" r="0.70" fill="#b4654a" fill-opacity="0.39"/>
<circle cx="104.1" cy="586.1" r="1.00" fill="#9c4a2e" fill-opacity="0.62"/>
<circle cx="111.2" cy="585.1" r="0.40" fill="#b4654a" fill-opacity="0.39"/>
<circle cx="109.5" cy="575.8" r="0.85" fill="#9c4a2e" fill-opacity="0.71"/>
<circle cx="92.7" cy="589.8" r="1.00" fill="#b86a50" fill-opacity="0.69"/>
<circle cx="112.8" cy="584.5" r="0.60" fill="#8e4228" fill-opacity="0.44"/>
<circle cx="87.7" cy="585.7" r="0.40" fill="#b4654a" fill-opacity="0.50"/>
<circle cx="97.5" cy="587.2" r="0.70" fill="#a85a3a" fill-opacity="0.57"/>
<circle cx="99.6" cy="576.9" r="1.00" fill="#9c4a2e" fill-opacity="0.78"/>
<circle cx="93.8" cy="579.7" r="0.70" fill="#b4654a" fill-opacity="0.51"/>
<circle cx="110.9" cy="577.3" r="0.50" fill="#9c4a2e" fill-opacity="0.54"/>
<circle cx="91.7" cy="592.4" r="0.50" fill="#9c4a2e" fill-opacity="0.78"/>
<circle cx="116.5" cy="584.6" r="0.60" fill="#b4654a" fill-opacity="0.49"/>
<circle cx="100.5" cy="574.4" r="0.40" fill="#a85a3a" fill-opacity="0.39"/>
<circle cx="93.2" cy="583.9" r="0.40" fill="#a85a3a" fill-opacity="0.74"/>
<circle cx="104.1" cy="579.4" r="1.00" fill="#b86a50" fill-opacity="0.51"/>
<circle cx="102.4" cy="583.6" r="0.60" fill="#a85a3a" fill-opacity="0.37"/>
<circle cx="109.8" cy="586.7" r="0.70" fill="#9c4a2e" fill-opacity="0.77"/>
<circle cx="102.2" cy="580.1" r="0.40" fill="#8e4228" fill-opacity="0.48"/>
<circle cx="95.1" cy="586.7" r="0.40" fill="#b86a50" fill-opacity="0.64"/>
<circle cx="100.6" cy="577.4" r="0.40" fill="#9c4a2e" fill-opacity="0.50"/>
<circle cx="104.6" cy="576.3" r="0.60" fill="#a85a3a" fill-opacity="0.82"/>
<circle cx="97.1" cy="579.3" r="0.60" fill="#b4654a" fill-opacity="0.62"/>
<circle cx="114.1" cy="579.8" r="0.50" fill="#a85a3a" fill-opacity="0.53"/>
<circle cx="107.7" cy="573.0" r="1.00" fill="#b4654a" fill-opacity="0.54"/>
<circle cx="91.1" cy="590.7" r="0.50" fill="#b86a50" fill-opacity="0.68"/>
<circle cx="101.5" cy="572.7" r="0.50" fill="#a85a3a" fill-opacity="0.49"/>
<circle cx="103.4" cy="584.2" r="0.70" fill="#9c4a2e" fill-opacity="0.46"/>
<circle cx="92.6" cy="576.2" r="0.50" fill="#a85a3a" fill-opacity="0.73"/>
<circle cx="105.9" cy="576.0" r="0.60" fill="#a85a3a" fill-opacity="0.67"/>
<circle cx="97.6" cy="607.6" r="0.70" fill="#b4654a" fill-opacity="0.78"/>
<circle cx="96.2" cy="603.2" r="0.40" fill="#9c4a2e" fill-opacity="0.68"/>
<circle cx="94.2" cy="602.5" r="0.60" fill="#a85a3a" fill-opacity="0.49"/>
<circle cx="93.9" cy="605.6" r="0.70" fill="#8e4228" fill-opacity="0.59"/>
<circle cx="93.2" cy="607.7" r="0.40" fill="#8e4228" fill-opacity="0.63"/>
<circle cx="104.8" cy="602.8" r="0.70" fill="#9c4a2e" fill-opacity="0.55"/>
<circle cx="95.8" cy="607.2" r="0.70" fill="#8e4228" fill-opacity="0.81"/>
<circle cx="97.0" cy="603.8" r="0.50" fill="#8e4228" fill-opacity="0.57"/>
<circle cx="92.5" cy="607.8" r="0.40" fill="#a85a3a" fill-opacity="0.38"/>
<circle cx="96.9" cy="606.2" r="0.60" fill="#8e4228" fill-opacity="0.58"/>
<circle cx="91.2" cy="606.6" r="0.60" fill="#b86a50" fill-opacity="0.38"/>
<circle cx="97.6" cy="603.9" r="0.85" fill="#a85a3a" fill-opacity="0.59"/>
<circle cx="97.0" cy="611.5" r="0.50" fill="#b86a50" fill-opacity="0.66"/>
<circle cx="86.8" cy="606.5" r="0.70" fill="#9c4a2e" fill-opacity="0.38"/>
<circle cx="89.7" cy="600.1" r="0.70" fill="#b86a50" fill-opacity="0.38"/>
<circle cx="93.5" cy="606.3" r="0.85" fill="#a85a3a" fill-opacity="0.61"/>
<circle cx="94.6" cy="600.8" r="0.60" fill="#a85a3a" fill-opacity="0.40"/>
<circle cx="88.6" cy="602.7" r="0.70" fill="#b4654a" fill-opacity="0.58"/>
<circle cx="94.5" cy="601.9" r="0.70" fill="#a85a3a" fill-opacity="0.39"/>
<circle cx="88.3" cy="610.2" r="0.70" fill="#b4654a" fill-opacity="0.40"/>
<circle cx="91.0" cy="604.0" r="0.60" fill="#b4654a" fill-opacity="0.38"/>
<circle cx="92.2" cy="602.7" r="1.00" fill="#8e4228" fill-opacity="0.59"/>
<circle cx="94.6" cy="603.6" r="0.50" fill="#b86a50" fill-opacity="0.36"/>
<circle cx="96.9" cy="600.7" r="1.00" fill="#b86a50" fill-opacity="0.80"/>
<circle cx="88.4" cy="610.8" r="1.00" fill="#8e4228" fill-opacity="0.69"/>
<circle cx="94.1" cy="607.0" r="0.40" fill="#b86a50" fill-opacity="0.67"/>
<circle cx="99.2" cy="606.3" r="0.70" fill="#b86a50" fill-opacity="0.42"/>
<circle cx="94.5" cy="599.5" r="0.60" fill="#a85a3a" fill-opacity="0.54"/>
<circle cx="87.9" cy="607.7" r="0.60" fill="#9c4a2e" fill-opacity="0.78"/>
<circle cx="97.1" cy="606.4" r="0.60" fill="#a85a3a" fill-opacity="0.70"/>
<circle cx="87.7" cy="597.7" r="0.40" fill="#b86a50" fill-opacity="0.58"/>
<circle cx="90.1" cy="600.7" r="1.00" fill="#9c4a2e" fill-opacity="0.57"/>
<circle cx="95.0" cy="601.2" r="0.40" fill="#b4654a" fill-opacity="0.57"/>
<circle cx="100.8" cy="602.5" r="0.50" fill="#a85a3a" fill-opacity="0.50"/>
<circle cx="92.1" cy="607.3" r="0.60" fill="#b86a50" fill-opacity="0.45"/>
<circle cx="83.7" cy="581.8" r="0.40" fill="#8e4228" fill-opacity="0.36"/>
<circle cx="86.3" cy="600.8" r="0.50" fill="#9c4a2e" fill-opacity="0.53"/>
<circle cx="75.3" cy="586.2" r="0.70" fill="#a85a3a" fill-opacity="0.38"/>
<circle cx="85.3" cy="592.6" r="0.60" fill="#b86a50" fill-opacity="0.78"/>
<circle cx="87.1" cy="590.7" r="1.00" fill="#8e4228" fill-opacity="0.69"/>
<circle cx="71.0" cy="587.7" r="0.50" fill="#b86a50" fill-opacity="0.80"/>
<circle cx="78.3" cy="579.9" r="0.50" fill="#8e4228" fill-opacity="0.45"/>
<circle cx="75.9" cy="593.0" r="0.70" fill="#b4654a" fill-opacity="0.46"/>
<circle cx="80.3" cy="601.1" r="0.60" fill="#9c4a2e" fill-opacity="0.55"/>
<circle cx="84.4" cy="575.0" r="0.60" fill="#8e4228" fill-opacity="0.68"/>
<circle cx="86.7" cy="596.3" r="0.40" fill="#b86a50" fill-opacity="0.54"/>
<circle cx="82.1" cy="579.7" r="0.50" fill="#a85a3a" fill-opacity="0.76"/>
<circle cx="91.4" cy="579.0" r="0.40" fill="#a85a3a" fill-opacity="0.65"/>
<circle cx="81.4" cy="575.0" r="0.60" fill="#b86a50" fill-opacity="0.58"/>
<circle cx="87.8" cy="595.8" r="0.85" fill="#b86a50" fill-opacity="0.71"/>
<circle cx="79.7" cy="578.7" r="0.50" fill="#b4654a" fill-opacity="0.47"/>
<circle cx="81.6" cy="590.4" r="0.40" fill="#b4654a" fill-opacity="0.83"/>
<circle cx="73.6" cy="580.0" r="0.50" fill="#a85a3a" fill-opacity="0.85"/>
<circle cx="81.3" cy="592.6" r="0.50" fill="#b86a50" fill-opacity="0.51"/>
<circle cx="82.3" cy="590.9" r="0.40" fill="#a85a3a" fill-opacity="0.47"/>
<circle cx="83.6" cy="581.6" r="0.50" fill="#9c4a2e" fill-opacity="0.64"/>
<circle cx="81.2" cy="585.3" r="0.70" fill="#8e4228" fill-opacity="0.48"/>
<circle cx="84.5" cy="582.6" r="0.85" fill="#a85a3a" fill-opacity="0.78"/>
<circle cx="89.7" cy="588.1" r="1.00" fill="#b4654a" fill-opacity="0.83"/>
<circle cx="84.8" cy="592.1" r="1.00" fill="#8e4228" fill-opacity="0.40"/>
<circle cx="87.5" cy="590.6" r="0.70" fill="#9c4a2e" fill-opacity="0.83"/>
<circle cx="72.4" cy="583.6" r="0.60" fill="#9c4a2e" fill-opacity="0.49"/>
<circle cx="92.0" cy="591.1" r="0.50" fill="#a85a3a" fill-opacity="0.56"/>
<circle cx="84.9" cy="591.0" r="0.85" fill="#8e4228" fill-opacity="0.77"/>
<circle cx="78.4" cy="583.3" r="1.00" fill="#b86a50" fill-opacity="0.64"/>
<circle cx="108.4" cy="609.6" r="0.70" fill="#a85a3a" fill-opacity="0.60"/>
<circle cx="112.6" cy="613.9" r="0.85" fill="#b86a50" fill-opacity="0.69"/>
<circle cx="113.1" cy="614.6" r="0.60" fill="#b86a50" fill-opacity="0.83"/>
<circle cx="112.9" cy="593.7" r="0.50" fill="#8e4228" fill-opacity="0.39"/>
<circle cx="118.2" cy="604.1" r="0.60" fill="#b86a50" fill-opacity="0.54"/>
<circle cx="115.9" cy="603.2" r="1.00" fill="#b4654a" fill-opacity="0.67"/>
<circle cx="109.7" cy="602.9" r="0.70" fill="#b4654a" fill-opacity="0.83"/>
<circle cx="106.5" cy="593.6" r="0.60" fill="#9c4a2e" fill-opacity="0.70"/>
<circle cx="107.5" cy="598.2" r="0.40" fill="#b86a50" fill-opacity="0.69"/>
<circle cx="105.5" cy="601.1" r="0.50" fill="#b4654a" fill-opacity="0.75"/>
<circle cx="112.3" cy="615.6" r="0.40" fill="#8e4228" fill-opacity="0.59"/>
<circle cx="118.6" cy="601.4" r="1.00" fill="#a85a3a" fill-opacity="0.58"/>
<circle cx="114.7" cy="600.3" r="0.60" fill="#a85a3a" fill-opacity="0.84"/>
<circle cx="112.7" cy="601.5" r="0.40" fill="#a85a3a" fill-opacity="0.62"/>
<circle cx="108.9" cy="602.3" r="0.70" fill="#a85a3a" fill-opacity="0.80"/>
<circle cx="105.0" cy="604.8" r="0.50" fill="#b4654a" fill-opacity="0.72"/>
<circle cx="109.9" cy="594.4" r="0.60" fill="#8e4228" fill-opacity="0.68"/>
<circle cx="109.6" cy="605.5" r="0.60" fill="#a85a3a" fill-opacity="0.85"/>
<circle cx="108.3" cy="605.0" r="1.00" fill="#a85a3a" fill-opacity="0.79"/>
<circle cx="113.4" cy="612.4" r="0.40" fill="#9c4a2e" fill-opacity="0.60"/>
<circle cx="106.6" cy="601.0" r="0.70" fill="#b86a50" fill-opacity="0.56"/>
<circle cx="113.2" cy="612.0" r="0.40" fill="#8e4228" fill-opacity="0.64"/>
<circle cx="112.2" cy="606.9" r="0.60" fill="#b86a50" fill-opacity="0.62"/>
<circle cx="105.1" cy="597.8" r="0.60" fill="#8e4228" fill-opacity="0.51"/>
<circle cx="117.9" cy="599.8" r="0.70" fill="#9c4a2e" fill-opacity="0.69"/>
<circle cx="103.6" cy="615.1" r="0.50" fill="#8e4228" fill-opacity="0.53"/>
<circle cx="86.9" cy="612.7" r="1.00" fill="#b4654a" fill-opacity="0.77"/>
<circle cx="93.2" cy="617.8" r="1.00" fill="#a85a3a" fill-opacity="0.67"/>
<circle cx="102.7" cy="617.5" r="1.00" fill="#b86a50" fill-opacity="0.83"/>
<circle cx="87.1" cy="613.2" r="0.50" fill="#b4654a" fill-opacity="0.73"/>
<circle cx="88.3" cy="619.6" r="0.60" fill="#b4654a" fill-opacity="0.43"/>
<circle cx="93.9" cy="620.4" r="0.40" fill="#b86a50" fill-opacity="0.58"/>
<circle cx="94.8" cy="616.9" r="1.00" fill="#b86a50" fill-opacity="0.37"/>
<circle cx="93.0" cy="617.5" r="0.40" fill="#b86a50" fill-opacity="0.62"/>
<circle cx="91.4" cy="614.2" r="1.00" fill="#b86a50" fill-opacity="0.49"/>
<circle cx="91.5" cy="617.8" r="0.40" fill="#9c4a2e" fill-opacity="0.77"/>
<circle cx="95.7" cy="621.0" r="0.40" fill="#a85a3a" fill-opacity="0.35"/>
<circle cx="99.4" cy="614.4" r="0.50" fill="#a85a3a" fill-opacity="0.48"/>
<circle cx="91.1" cy="618.0" r="1.00" fill="#a85a3a" fill-opacity="0.36"/>
<circle cx="81.2" cy="615.8" r="0.40" fill="#9c4a2e" fill-opacity="0.82"/>
<circle cx="97.8" cy="609.0" r="0.50" fill="#a85a3a" fill-opacity="0.58"/>
<circle cx="119.4" cy="599.5" r="0.40" fill="#b86a50" fill-opacity="0.52"/>
<circle cx="88.0" cy="571.3" r="0.60" fill="#8e4228" fill-opacity="0.72"/>
<circle cx="111.7" cy="594.1" r="0.60" fill="#b4654a" fill-opacity="0.38"/>
<circle cx="92.6" cy="579.9" r="0.40" fill="#b4654a" fill-opacity="0.43"/>
<circle cx="103.6" cy="573.8" r="0.40" fill="#9c4a2e" fill-opacity="0.66"/>
<circle cx="96.4" cy="598.4" r="1.00" fill="#b4654a" fill-opacity="0.42"/>
<circle cx="98.9" cy="615.9" r="1.00" fill="#b4654a" fill-opacity="0.52"/>
<circle cx="92.6" cy="597.9" r="0.70" fill="#a85a3a" fill-opacity="0.44"/>
<circle cx="105.7" cy="575.7" r="0.85" fill="#9c4a2e" fill-opacity="0.73"/>
<circle cx="89.0" cy="597.4" r="1.00" fill="#8e4228" fill-opacity="0.54"/>
<circle cx="109.2" cy="583.8" r="1.00" fill="#9c4a2e" fill-opacity="0.46"/>
<circle cx="107.9" cy="602.7" r="0.40" fill="#8e4228" fill-opacity="0.40"/>
<circle cx="76.8" cy="578.7" r="0.85" fill="#a85a3a" fill-opacity="0.45"/>
<circle cx="73.4" cy="598.2" r="1.00" fill="#8e4228" fill-opacity="0.75"/>
<circle cx="98.0" cy="608.7" r="0.50" fill="#b86a50" fill-opacity="0.40"/>
<circle cx="108.0" cy="587.1" r="1.00" fill="#8e4228" fill-opacity="0.63"/>
<circle cx="110.5" cy="608.5" r="0.50" fill="#9c4a2e" fill-opacity="0.45"/>
<circle cx="102.7" cy="604.6" r="0.85" fill="#a85a3a" fill-opacity="0.40"/>
<circle cx="74.9" cy="601.7" r="1.00" fill="#8e4228" fill-opacity="0.47"/>
<circle cx="79.9" cy="579.4" r="0.60" fill="#b86a50" fill-opacity="0.56"/>
<circle cx="88.0" cy="598.7" r="0.85" fill="#b4654a" fill-opacity="0.71"/>
<circle cx="93.4" cy="590.2" r="0.40" fill="#a85a3a" fill-opacity="0.71"/>
<circle cx="78.0" cy="599.3" r="0.50" fill="#b86a50" fill-opacity="0.50"/>
<circle cx="84.0" cy="576.5" r="1.00" fill="#8e4228" fill-opacity="0.66"/>
<circle cx="95.8" cy="617.4" r="0.50" fill="#a85a3a" fill-opacity="0.84"/>
<circle cx="87.9" cy="579.3" r="1.00" fill="#b4654a" fill-opacity="0.42"/>
<circle cx="110.2" cy="615.8" r="0.40" fill="#a85a3a" fill-opacity="0.58"/>
<circle cx="89.0" cy="592.3" r="0.60" fill="#b4654a" fill-opacity="0.55"/>
<circle cx="96.3" cy="622.4" r="0.85" fill="#b4654a" fill-opacity="0.38"/>
<circle cx="96.6" cy="612.6" r="0.85" fill="#b4654a" fill-opacity="0.39"/>
<circle cx="100.1" cy="572.9" r="0.40" fill="#b4654a" fill-opacity="0.61"/>
<circle cx="79.2" cy="579.2" r="0.50" fill="#a85a3a" fill-opacity="0.82"/>
<circle cx="102.3" cy="598.1" r="0.50" fill="#8e4228" fill-opacity="0.37"/>
<circle cx="117.8" cy="592.7" r="0.60" fill="#9c4a2e" fill-opacity="0.74"/>
<circle cx="100.1" cy="597.6" r="1.00" fill="#b86a50" fill-opacity="0.78"/>
<circle cx="95.9" cy="621.6" r="1.00" fill="#8e4228" fill-opacity="0.61"/>
<circle cx="98.5" cy="617.5" r="0.40" fill="#9c4a2e" fill-opacity="0.68"/>
<circle cx="113.5" cy="587.3" r="0.85" fill="#8e4228" fill-opacity="0.57"/>
<circle cx="106.2" cy="589.6" r="0.40" fill="#b4654a" fill-opacity="0.75"/>
<circle cx="96.4" cy="599.1" r="0.85" fill="#a85a3a" fill-opacity="0.57"/>
<circle cx="94.8" cy="587.7" r="0.70" fill="#8e4228" fill-opacity="0.74"/>
<circle cx="116.3" cy="592.5" r="0.60" fill="#b86a50" fill-opacity="0.57"/>
<circle cx="103.6" cy="618.1" r="1.00" fill="#b4654a" fill-opacity="0.66"/>
<circle cx="104.2" cy="612.3" r="0.40" fill="#8e4228" fill-opacity="0.39"/>
<circle cx="112.8" cy="610.7" r="0.60" fill="#a85a3a" fill-opacity="0.37"/>
<circle cx="113.8" cy="580.0" r="0.85" fill="#a85a3a" fill-opacity="0.38"/>
<circle cx="118.8" cy="596.5" r="1.00" fill="#b86a50" fill-opacity="0.37"/>
<circle cx="71.9" cy="588.0" r="1.00" fill="#9c4a2e" fill-opacity="0.78"/>
<circle cx="73.6" cy="595.9" r="1.00" fill="#b4654a" fill-opacity="0.57"/>
<circle cx="74.8" cy="583.0" r="0.40" fill="#a85a3a" fill-opacity="0.55"/>
<circle cx="99.8" cy="599.1" r="0.40" fill="#9c4a2e" fill-opacity="0.37"/>
<circle cx="80.7" cy="592.2" r="1.00" fill="#a85a3a" fill-opacity="0.62"/>
<circle cx="92.6" cy="597.6" r="1.00" fill="#9c4a2e" fill-opacity="0.51"/>
<circle cx="94.3" cy="592.1" r="0.85" fill="#b86a50" fill-opacity="0.77"/>
<circle cx="105.8" cy="575.3" r="0.50" fill="#a85a3a" fill-opacity="0.44"/>
<circle cx="85.5" cy="598.6" r="0.70" fill="#b4654a" fill-opacity="0.53"/>
<circle cx="87.3" cy="586.5" r="0.50" fill="#8e4228" fill-opacity="0.84"/>
<circle cx="86.5" cy="600.0" r="0.40" fill="#9c4a2e" fill-opacity="0.48"/>
<circle cx="113.7" cy="593.3" r="1.00" fill="#8e4228" fill-opacity="0.59"/>
<circle cx="89.5" cy="602.7" r="0.50" fill="#b86a50" fill-opacity="0.76"/>
<circle cx="91.4" cy="572.0" r="0.70" fill="#8e4228" fill-opacity="0.71"/>
<circle cx="99.3" cy="589.3" r="1.00" fill="#a85a3a" fill-opacity="0.72"/>
<circle cx="84.6" cy="606.9" r="0.70" fill="#9c4a2e" fill-opacity="0.78"/>
<circle cx="95.2" cy="586.1" r="0.85" fill="#b4654a" fill-opacity="0.75"/>
<circle cx="73.9" cy="580.0" r="0.40" fill="#b4654a" fill-opacity="0.61"/>
<circle cx="94.7" cy="594.0" r="1.00" fill="#a85a3a" fill-opacity="0.84"/>
<circle cx="102.3" cy="600.2" r="0.85" fill="#b4654a" fill-opacity="0.51"/>
<circle cx="87.2" cy="577.1" r="1.00" fill="#b4654a" fill-opacity="0.69"/>
<circle cx="76.7" cy="594.0" r="1.00" fill="#8e4228" fill-opacity="0.38"/>
<circle cx="77.2" cy="607.5" r="0.40" fill="#a85a3a" fill-opacity="0.64"/>
<circle cx="79.4" cy="575.9" r="0.40" fill="#b4654a" fill-opacity="0.65"/>
<circle cx="91.8" cy="572.8" r="0.40" fill="#b4654a" fill-opacity="0.46"/>
<circle cx="115.0" cy="583.6" r="0.60" fill="#b4654a" fill-opacity="0.82"/>
<circle cx="93.4" cy="591.7" r="0.60" fill="#b4654a" fill-opacity="0.66"/>
<circle cx="84.2" cy="574.1" r="0.70" fill="#8e4228" fill-opacity="0.49"/>
<circle cx="72.0" cy="606.6" r="0.50" fill="#9c4a2e" fill-opacity="0.80"/>
<circle cx="105.3" cy="619.4" r="0.70" fill="#b86a50" fill-opacity="0.73"/>
<circle cx="73.7" cy="604.1" r="0.50" fill="#9c4a2e" fill-opacity="0.85"/>
<circle cx="94.2" cy="610.7" r="1.00" fill="#a85a3a" fill-opacity="0.73"/>
</g>
<circle cx="94.4" cy="596.2" r="27.5" fill="none" stroke="#7a5050" stroke-opacity="0.35" stroke-width="1.4"/>
<circle cx="94.4" cy="596.2" r="27.8" fill="none" stroke="#6654cc" stroke-width="1.7"/>
<circle cx="152.1" cy="596.2" r="27.8" fill="url(#wellg2)"/>
<g filter="url(#bl2)">
<circle cx="163.2" cy="579.5" r="8.3" fill="#b87058" fill-opacity="0.12"/>
<circle cx="152.1" cy="599.0" r="9.7" fill="#b87058" fill-opacity="0.1"/>
</g>
<g filter="url(#bl)">
<circle cx="164.9" cy="576.6" r="0.40" fill="#b86a50" fill-opacity="0.45"/>
<circle cx="160.2" cy="576.1" r="0.50" fill="#a85a3a" fill-opacity="0.40"/>
<circle cx="164.8" cy="577.6" r="0.40" fill="#b4654a" fill-opacity="0.64"/>
<circle cx="158.3" cy="578.6" r="1.00" fill="#b86a50" fill-opacity="0.83"/>
<circle cx="165.4" cy="576.1" r="1.00" fill="#8e4228" fill-opacity="0.55"/>
<circle cx="165.4" cy="577.9" r="1.00" fill="#9c4a2e" fill-opacity="0.38"/>
<circle cx="159.6" cy="574.1" r="1.00" fill="#8e4228" fill-opacity="0.41"/>
<circle cx="173.9" cy="582.0" r="1.00" fill="#b4654a" fill-opacity="0.61"/>
<circle cx="157.4" cy="578.2" r="0.70" fill="#b4654a" fill-opacity="0.79"/>
<circle cx="158.0" cy="585.7" r="0.40" fill="#9c4a2e" fill-opacity="0.85"/>
<circle cx="164.4" cy="583.2" r="0.70" fill="#b86a50" fill-opacity="0.62"/>
<circle cx="163.2" cy="581.4" r="0.70" fill="#a85a3a" fill-opacity="0.54"/>
<circle cx="162.6" cy="580.4" r="0.60" fill="#b86a50" fill-opacity="0.42"/>
<circle cx="164.4" cy="576.7" r="0.60" fill="#b4654a" fill-opacity="0.62"/>
<circle cx="165.1" cy="580.2" r="0.50" fill="#a85a3a" fill-opacity="0.43"/>
<circle cx="163.0" cy="576.8" r="0.40" fill="#b86a50" fill-opacity="0.75"/>
<circle cx="157.7" cy="580.5" r="0.40" fill="#a85a3a" fill-opacity="0.50"/>
<circle cx="160.3" cy="585.0" r="0.85" fill="#b86a50" fill-opacity="0.40"/>
<circle cx="168.2" cy="576.6" r="0.70" fill="#8e4228" fill-opacity="0.58"/>
<circle cx="159.0" cy="587.4" r="0.40" fill="#9c4a2e" fill-opacity="0.47"/>
<circle cx="160.9" cy="578.6" r="0.50" fill="#a85a3a" fill-opacity="0.81"/>
<circle cx="154.3" cy="575.4" r="0.40" fill="#a85a3a" fill-opacity="0.80"/>
<circle cx="156.9" cy="579.0" r="0.60" fill="#a85a3a" fill-opacity="0.74"/>
<circle cx="153.3" cy="583.8" r="0.70" fill="#b86a50" fill-opacity="0.54"/>
<circle cx="161.3" cy="577.1" r="0.60" fill="#8e4228" fill-opacity="0.73"/>
<circle cx="159.8" cy="582.5" r="0.50" fill="#9c4a2e" fill-opacity="0.58"/>
<circle cx="171.9" cy="586.1" r="0.85" fill="#a85a3a" fill-opacity="0.81"/>
<circle cx="170.5" cy="580.7" r="0.85" fill="#a85a3a" fill-opacity="0.45"/>
<circle cx="155.2" cy="582.3" r="0.60" fill="#9c4a2e" fill-opacity="0.74"/>
<circle cx="161.0" cy="580.3" r="0.40" fill="#b4654a" fill-opacity="0.67"/>
<circle cx="153.0" cy="578.4" r="0.70" fill="#b4654a" fill-opacity="0.39"/>
<circle cx="164.5" cy="575.7" r="0.70" fill="#a85a3a" fill-opacity="0.69"/>
<circle cx="164.8" cy="586.3" r="0.50" fill="#b4654a" fill-opacity="0.57"/>
<circle cx="164.5" cy="576.7" r="0.40" fill="#b86a50" fill-opacity="0.56"/>
<circle cx="158.2" cy="581.2" r="0.50" fill="#b86a50" fill-opacity="0.37"/>
<circle cx="164.6" cy="582.9" r="0.40" fill="#a85a3a" fill-opacity="0.76"/>
<circle cx="158.9" cy="585.5" r="0.40" fill="#b4654a" fill-opacity="0.60"/>
<circle cx="165.9" cy="584.4" r="0.60" fill="#9c4a2e" fill-opacity="0.40"/>
<circle cx="155.0" cy="579.5" r="1.00" fill="#a85a3a" fill-opacity="0.61"/>
<circle cx="171.9" cy="587.7" r="0.50" fill="#a85a3a" fill-opacity="0.68"/>
<circle cx="161.0" cy="596.2" r="0.70" fill="#b4654a" fill-opacity="0.68"/>
<circle cx="153.3" cy="592.8" r="0.40" fill="#a85a3a" fill-opacity="0.80"/>
<circle cx="159.5" cy="592.4" r="0.40" fill="#a85a3a" fill-opacity="0.68"/>
<circle cx="152.9" cy="585.0" r="0.40" fill="#a85a3a" fill-opacity="0.55"/>
<circle cx="141.9" cy="605.8" r="0.85" fill="#b4654a" fill-opacity="0.85"/>
<circle cx="152.5" cy="597.4" r="0.60" fill="#a85a3a" fill-opacity="0.48"/>
<circle cx="137.2" cy="596.0" r="1.00" fill="#b4654a" fill-opacity="0.46"/>
<circle cx="166.1" cy="588.1" r="0.70" fill="#8e4228" fill-opacity="0.69"/>
<circle cx="136.0" cy="595.3" r="0.70" fill="#9c4a2e" fill-opacity="0.43"/>
<circle cx="148.5" cy="595.1" r="0.40" fill="#9c4a2e" fill-opacity="0.62"/>
<circle cx="143.6" cy="588.8" r="0.60" fill="#9c4a2e" fill-opacity="0.54"/>
<circle cx="143.7" cy="599.7" r="1.00" fill="#8e4228" fill-opacity="0.48"/>
<circle cx="151.8" cy="600.7" r="0.40" fill="#8e4228" fill-opacity="0.63"/>
<circle cx="144.8" cy="599.4" r="0.70" fill="#b4654a" fill-opacity="0.38"/>
<circle cx="149.1" cy="596.7" r="0.85" fill="#8e4228" fill-opacity="0.41"/>
<circle cx="158.4" cy="596.4" r="0.40" fill="#8e4228" fill-opacity="0.57"/>
<circle cx="149.7" cy="587.2" r="1.00" fill="#9c4a2e" fill-opacity="0.70"/>
<circle cx="152.5" cy="600.5" r="0.85" fill="#9c4a2e" fill-opacity="0.74"/>
<circle cx="147.8" cy="595.8" r="0.40" fill="#9c4a2e" fill-opacity="0.75"/>
<circle cx="140.1" cy="588.9" r="0.50" fill="#9c4a2e" fill-opacity="0.46"/>
<circle cx="154.8" cy="603.2" r="1.00" fill="#b4654a" fill-opacity="0.52"/>
<circle cx="150.0" cy="587.1" r="1.00" fill="#b4654a" fill-opacity="0.55"/>
<circle cx="149.5" cy="587.7" r="0.60" fill="#a85a3a" fill-opacity="0.84"/>
<circle cx="150.2" cy="606.7" r="0.70" fill="#a85a3a" fill-opacity="0.35"/>
<circle cx="154.1" cy="595.4" r="0.40" fill="#b86a50" fill-opacity="0.71"/>
<circle cx="159.2" cy="594.1" r="0.50" fill="#a85a3a" fill-opacity="0.68"/>
<circle cx="154.4" cy="597.3" r="0.60" fill="#9c4a2e" fill-opacity="0.41"/>
<circle cx="155.1" cy="588.2" r="0.70" fill="#9c4a2e" fill-opacity="0.69"/>
<circle cx="156.9" cy="601.0" r="0.40" fill="#a85a3a" fill-opacity="0.37"/>
<circle cx="136.6" cy="581.4" r="0.60" fill="#9c4a2e" fill-opacity="0.79"/>
<circle cx="146.0" cy="604.3" r="0.85" fill="#b4654a" fill-opacity="0.77"/>
<circle cx="152.2" cy="599.9" r="1.00" fill="#b86a50" fill-opacity="0.78"/>
<circle cx="155.9" cy="601.0" r="0.85" fill="#8e4228" fill-opacity="0.83"/>
<circle cx="147.7" cy="593.0" r="1.00" fill="#b86a50" fill-opacity="0.62"/>
<circle cx="154.7" cy="599.5" r="0.60" fill="#b86a50" fill-opacity="0.45"/>
<circle cx="156.0" cy="598.1" r="1.00" fill="#b4654a" fill-opacity="0.41"/>
<circle cx="148.8" cy="602.2" r="0.60" fill="#b86a50" fill-opacity="0.63"/>
<circle cx="155.3" cy="602.0" r="0.50" fill="#b86a50" fill-opacity="0.49"/>
<circle cx="134.7" cy="601.7" r="0.85" fill="#a85a3a" fill-opacity="0.60"/>
<circle cx="135.4" cy="597.4" r="0.70" fill="#8e4228" fill-opacity="0.68"/>
<circle cx="137.3" cy="608.0" r="0.50" fill="#9c4a2e" fill-opacity="0.62"/>
<circle cx="138.4" cy="605.6" r="0.60" fill="#9c4a2e" fill-opacity="0.74"/>
<circle cx="142.0" cy="609.2" r="1.00" fill="#8e4228" fill-opacity="0.74"/>
<circle cx="136.6" cy="593.5" r="0.85" fill="#8e4228" fill-opacity="0.47"/>
<circle cx="136.7" cy="610.3" r="0.85" fill="#b86a50" fill-opacity="0.54"/>
<circle cx="136.4" cy="609.7" r="0.60" fill="#b4654a" fill-opacity="0.55"/>
<circle cx="139.0" cy="602.2" r="1.00" fill="#9c4a2e" fill-opacity="0.76"/>
<circle cx="147.4" cy="616.4" r="0.70" fill="#b4654a" fill-opacity="0.72"/>
<circle cx="140.4" cy="607.0" r="0.50" fill="#8e4228" fill-opacity="0.78"/>
<circle cx="146.2" cy="600.0" r="1.00" fill="#b4654a" fill-opacity="0.58"/>
<circle cx="136.2" cy="613.5" r="0.40" fill="#b4654a" fill-opacity="0.72"/>
<circle cx="145.9" cy="604.6" r="0.50" fill="#a85a3a" fill-opacity="0.84"/>
<circle cx="136.7" cy="609.2" r="0.70" fill="#b4654a" fill-opacity="0.67"/>
<circle cx="133.3" cy="604.6" r="1.00" fill="#9c4a2e" fill-opacity="0.49"/>
<circle cx="139.7" cy="593.8" r="0.40" fill="#b4654a" fill-opacity="0.53"/>
<circle cx="144.2" cy="611.5" r="0.40" fill="#8e4228" fill-opacity="0.83"/>
<circle cx="146.8" cy="599.4" r="0.85" fill="#b4654a" fill-opacity="0.75"/>
<circle cx="133.9" cy="602.8" r="0.50" fill="#b4654a" fill-opacity="0.52"/>
<circle cx="135.6" cy="605.6" r="0.40" fill="#a85a3a" fill-opacity="0.59"/>
<circle cx="142.1" cy="609.8" r="0.60" fill="#a85a3a" fill-opacity="0.48"/>
<circle cx="149.0" cy="601.3" r="0.70" fill="#9c4a2e" fill-opacity="0.71"/>
<circle cx="145.8" cy="608.1" r="0.60" fill="#8e4228" fill-opacity="0.78"/>
<circle cx="134.5" cy="608.2" r="0.70" fill="#b4654a" fill-opacity="0.56"/>
<circle cx="137.0" cy="612.9" r="0.60" fill="#a85a3a" fill-opacity="0.84"/>
<circle cx="148.2" cy="603.9" r="0.50" fill="#a85a3a" fill-opacity="0.53"/>
<circle cx="136.0" cy="608.0" r="0.40" fill="#a85a3a" fill-opacity="0.52"/>
<circle cx="135.2" cy="612.3" r="0.50" fill="#9c4a2e" fill-opacity="0.56"/>
<circle cx="141.9" cy="603.1" r="0.50" fill="#a85a3a" fill-opacity="0.74"/>
<circle cx="137.2" cy="611.3" r="0.60" fill="#b86a50" fill-opacity="0.41"/>
<circle cx="136.6" cy="606.2" r="0.60" fill="#8e4228" fill-opacity="0.61"/>
<circle cx="155.3" cy="619.6" r="0.85" fill="#b4654a" fill-opacity="0.84"/>
<circle cx="165.0" cy="618.3" r="0.70" fill="#8e4228" fill-opacity="0.44"/>
<circle cx="164.0" cy="613.3" r="0.40" fill="#b4654a" fill-opacity="0.41"/>
<circle cx="169.8" cy="615.6" r="0.60" fill="#b4654a" fill-opacity="0.41"/>
<circle cx="162.9" cy="615.3" r="0.40" fill="#b86a50" fill-opacity="0.71"/>
<circle cx="164.5" cy="614.0" r="0.50" fill="#9c4a2e" fill-opacity="0.64"/>
<circle cx="159.5" cy="606.3" r="0.85" fill="#b86a50" fill-opacity="0.47"/>
<circle cx="171.8" cy="607.5" r="0.40" fill="#a85a3a" fill-opacity="0.70"/>
<circle cx="148.5" cy="609.9" r="0.50" fill="#a85a3a" fill-opacity="0.59"/>
<circle cx="157.1" cy="614.0" r="0.85" fill="#b4654a" fill-opacity="0.41"/>
<circle cx="160.3" cy="604.6" r="0.85" fill="#b4654a" fill-opacity="0.61"/>
<circle cx="158.6" cy="614.1" r="0.85" fill="#9c4a2e" fill-opacity="0.61"/>
<circle cx="166.9" cy="607.9" r="0.40" fill="#a85a3a" fill-opacity="0.46"/>
<circle cx="147.9" cy="606.3" r="0.60" fill="#8e4228" fill-opacity="0.81"/>
<circle cx="162.3" cy="613.2" r="0.40" fill="#a85a3a" fill-opacity="0.41"/>
<circle cx="161.3" cy="613.5" r="0.70" fill="#a85a3a" fill-opacity="0.68"/>
<circle cx="158.4" cy="607.2" r="0.70" fill="#a85a3a" fill-opacity="0.52"/>
<circle cx="163.0" cy="614.5" r="0.50" fill="#8e4228" fill-opacity="0.67"/>
<circle cx="163.6" cy="618.1" r="0.85" fill="#b86a50" fill-opacity="0.76"/>
<circle cx="153.6" cy="603.1" r="0.60" fill="#8e4228" fill-opacity="0.74"/>
<circle cx="150.5" cy="621.8" r="0.70" fill="#8e4228" fill-opacity="0.84"/>
<circle cx="155.4" cy="614.5" r="0.40" fill="#8e4228" fill-opacity="0.58"/>
<circle cx="160.4" cy="615.9" r="0.85" fill="#b86a50" fill-opacity="0.44"/>
<circle cx="159.5" cy="610.4" r="0.85" fill="#8e4228" fill-opacity="0.62"/>
<circle cx="161.8" cy="615.0" r="0.70" fill="#a85a3a" fill-opacity="0.75"/>
<circle cx="132.8" cy="592.4" r="0.40" fill="#b4654a" fill-opacity="0.73"/>
<circle cx="144.6" cy="587.6" r="1.00" fill="#8e4228" fill-opacity="0.82"/>
<circle cx="137.6" cy="583.8" r="0.40" fill="#b4654a" fill-opacity="0.58"/>
<circle cx="129.1" cy="588.7" r="0.50" fill="#9c4a2e" fill-opacity="0.38"/>
<circle cx="132.8" cy="582.3" r="0.40" fill="#a85a3a" fill-opacity="0.53"/>
<circle cx="143.7" cy="580.0" r="0.70" fill="#8e4228" fill-opacity="0.60"/>
<circle cx="135.3" cy="589.8" r="0.60" fill="#b4654a" fill-opacity="0.61"/>
<circle cx="148.5" cy="581.2" r="1.00" fill="#a85a3a" fill-opacity="0.40"/>
<circle cx="144.3" cy="581.4" r="0.85" fill="#8e4228" fill-opacity="0.41"/>
<circle cx="140.4" cy="587.8" r="0.60" fill="#b86a50" fill-opacity="0.45"/>
<circle cx="131.9" cy="590.8" r="0.70" fill="#b4654a" fill-opacity="0.77"/>
<circle cx="148.2" cy="585.4" r="0.85" fill="#b86a50" fill-opacity="0.63"/>
<circle cx="139.7" cy="578.6" r="0.60" fill="#b4654a" fill-opacity="0.73"/>
<circle cx="148.1" cy="585.4" r="0.85" fill="#b4654a" fill-opacity="0.77"/>
<circle cx="131.1" cy="589.3" r="0.60" fill="#b86a50" fill-opacity="0.67"/>
<circle cx="130.1" cy="581.3" r="0.50" fill="#b4654a" fill-opacity="0.69"/>
<circle cx="126.3" cy="592.7" r="0.40" fill="#b4654a" fill-opacity="0.43"/>
<circle cx="150.5" cy="581.6" r="0.40" fill="#b4654a" fill-opacity="0.46"/>
<circle cx="134.6" cy="581.9" r="0.40" fill="#a85a3a" fill-opacity="0.85"/>
<circle cx="135.1" cy="588.2" r="0.50" fill="#b86a50" fill-opacity="0.57"/>
<circle cx="171.4" cy="582.8" r="0.70" fill="#b4654a" fill-opacity="0.47"/>
<circle cx="157.8" cy="573.0" r="1.00" fill="#8e4228" fill-opacity="0.43"/>
<circle cx="174.0" cy="594.9" r="0.60" fill="#9c4a2e" fill-opacity="0.36"/>
<circle cx="142.5" cy="617.1" r="0.50" fill="#b4654a" fill-opacity="0.69"/>
<circle cx="150.5" cy="616.8" r="1.00" fill="#9c4a2e" fill-opacity="0.60"/>
<circle cx="165.4" cy="616.7" r="0.70" fill="#a85a3a" fill-opacity="0.62"/>
<circle cx="138.3" cy="597.2" r="0.40" fill="#a85a3a" fill-opacity="0.70"/>
<circle cx="158.8" cy="592.7" r="0.60" fill="#b86a50" fill-opacity="0.42"/>
<circle cx="172.9" cy="586.4" r="0.85" fill="#a85a3a" fill-opacity="0.68"/>
<circle cx="165.7" cy="614.8" r="0.60" fill="#b4654a" fill-opacity="0.63"/>
<circle cx="129.6" cy="585.0" r="0.50" fill="#8e4228" fill-opacity="0.72"/>
<circle cx="137.3" cy="587.3" r="0.40" fill="#a85a3a" fill-opacity="0.49"/>
<circle cx="159.2" cy="593.0" r="0.60" fill="#a85a3a" fill-opacity="0.62"/>
<circle cx="153.5" cy="587.9" r="0.85" fill="#b86a50" fill-opacity="0.77"/>
<circle cx="150.6" cy="605.0" r="1.00" fill="#8e4228" fill-opacity="0.72"/>
<circle cx="164.2" cy="583.5" r="0.60" fill="#b86a50" fill-opacity="0.41"/>
<circle cx="150.1" cy="583.0" r="0.60" fill="#8e4228" fill-opacity="0.57"/>
<circle cx="149.5" cy="575.1" r="0.50" fill="#9c4a2e" fill-opacity="0.68"/>
<circle cx="167.3" cy="606.9" r="0.40" fill="#9c4a2e" fill-opacity="0.66"/>
<circle cx="149.9" cy="584.2" r="0.40" fill="#b86a50" fill-opacity="0.82"/>
<circle cx="144.2" cy="584.7" r="0.85" fill="#a85a3a" fill-opacity="0.48"/>
<circle cx="134.7" cy="614.6" r="0.40" fill="#a85a3a" fill-opacity="0.80"/>
<circle cx="176.8" cy="587.0" r="0.85" fill="#9c4a2e" fill-opacity="0.36"/>
<circle cx="134.2" cy="605.1" r="0.50" fill="#8e4228" fill-opacity="0.39"/>
<circle cx="160.4" cy="574.7" r="1.00" fill="#8e4228" fill-opacity="0.62"/>
<circle cx="128.5" cy="602.9" r="0.50" fill="#a85a3a" fill-opacity="0.51"/>
<circle cx="131.2" cy="611.2" r="1.00" fill="#b4654a" fill-opacity="0.65"/>
<circle cx="143.1" cy="597.7" r="0.50" fill="#b4654a" fill-opacity="0.54"/>
<circle cx="152.0" cy="586.1" r="0.40" fill="#9c4a2e" fill-opacity="0.66"/>
<circle cx="149.5" cy="590.7" r="0.40" fill="#9c4a2e" fill-opacity="0.43"/>
<circle cx="171.5" cy="594.8" r="0.60" fill="#b4654a" fill-opacity="0.50"/>
<circle cx="151.5" cy="586.7" r="1.00" fill="#9c4a2e" fill-opacity="0.79"/>
<circle cx="141.5" cy="583.9" r="0.70" fill="#b86a50" fill-opacity="0.75"/>
<circle cx="152.2" cy="620.0" r="0.60" fill="#b86a50" fill-opacity="0.81"/>
<circle cx="170.0" cy="600.0" r="0.40" fill="#b4654a" fill-opacity="0.46"/>
<circle cx="172.9" cy="608.9" r="0.40" fill="#b86a50" fill-opacity="0.59"/>
<circle cx="155.9" cy="593.2" r="0.85" fill="#a85a3a" fill-opacity="0.54"/>
<circle cx="134.5" cy="600.2" r="0.85" fill="#8e4228" fill-opacity="0.54"/>
<circle cx="147.7" cy="574.1" r="0.70" fill="#a85a3a" fill-opacity="0.82"/>
<circle cx="138.0" cy="617.5" r="0.50" fill="#b4654a" fill-opacity="0.49"/>
<circle cx="156.0" cy="605.2" r="0.85" fill="#a85a3a" fill-opacity="0.42"/>
<circle cx="155.7" cy="587.8" r="0.60" fill="#8e4228" fill-opacity="0.37"/>
<circle cx="159.4" cy="613.4" r="0.40" fill="#a85a3a" fill-opacity="0.57"/>
<circle cx="146.6" cy="605.4" r="0.60" fill="#8e4228" fill-opacity="0.60"/>
<circle cx="168.5" cy="588.4" r="0.85" fill="#8e4228" fill-opacity="0.36"/>
<circle cx="155.1" cy="583.3" r="1.00" fill="#b4654a" fill-opacity="0.55"/>
<circle cx="162.7" cy="589.7" r="0.50" fill="#b4654a" fill-opacity="0.60"/>
<circle cx="169.3" cy="584.7" r="1.00" fill="#8e4228" fill-opacity="0.43"/>
<circle cx="174.9" cy="592.0" r="0.50" fill="#8e4228" fill-opacity="0.81"/>
<circle cx="139.0" cy="582.1" r="0.70" fill="#b86a50" fill-opacity="0.45"/>
<circle cx="162.9" cy="582.3" r="0.50" fill="#a85a3a" fill-opacity="0.53"/>
<circle cx="172.7" cy="610.8" r="0.40" fill="#b4654a" fill-opacity="0.49"/>
<circle cx="159.6" cy="575.7" r="1.00" fill="#9c4a2e" fill-opacity="0.59"/>
<circle cx="151.7" cy="583.5" r="0.70" fill="#b86a50" fill-opacity="0.64"/>
<circle cx="128.8" cy="601.7" r="0.50" fill="#b4654a" fill-opacity="0.57"/>
<circle cx="176.8" cy="590.2" r="0.40" fill="#b4654a" fill-opacity="0.48"/>
<circle cx="163.7" cy="614.7" r="0.50" fill="#b86a50" fill-opacity="0.63"/>
<circle cx="136.3" cy="590.6" r="0.85" fill="#a85a3a" fill-opacity="0.70"/>
<circle cx="156.9" cy="604.7" r="0.50" fill="#b4654a" fill-opacity="0.69"/>
<circle cx="133.9" cy="599.6" r="0.40" fill="#8e4228" fill-opacity="0.76"/>
<circle cx="150.3" cy="612.1" r="0.70" fill="#8e4228" fill-opacity="0.44"/>
<circle cx="130.4" cy="588.5" r="0.40" fill="#a85a3a" fill-opacity="0.56"/>
<circle cx="143.1" cy="590.5" r="0.85" fill="#a85a3a" fill-opacity="0.51"/>
<circle cx="164.2" cy="585.7" r="1.00" fill="#8e4228" fill-opacity="0.54"/>
<circle cx="177.4" cy="589.7" r="0.50" fill="#9c4a2e" fill-opacity="0.44"/>
<circle cx="164.9" cy="611.8" r="0.85" fill="#a85a3a" fill-opacity="0.43"/>
<circle cx="168.1" cy="592.8" r="0.85" fill="#b86a50" fill-opacity="0.45"/>
<circle cx="138.0" cy="591.9" r="1.00" fill="#b86a50" fill-opacity="0.59"/>
<circle cx="163.9" cy="598.3" r="0.40" fill="#9c4a2e" fill-opacity="0.84"/>
<circle cx="162.1" cy="606.1" r="0.50" fill="#8e4228" fill-opacity="0.37"/>
<circle cx="138.5" cy="581.8" r="1.00" fill="#b86a50" fill-opacity="0.40"/>
<circle cx="172.8" cy="589.2" r="0.70" fill="#a85a3a" fill-opacity="0.78"/>
<circle cx="135.4" cy="615.8" r="0.60" fill="#b86a50" fill-opacity="0.46"/>
<circle cx="139.1" cy="581.7" r="0.85" fill="#a85a3a" fill-opacity="0.67"/>
<circle cx="166.1" cy="579.8" r="0.60" fill="#9c4a2e" fill-opacity="0.59"/>
<circle cx="139.0" cy="612.0" r="0.40" fill="#a85a3a" fill-opacity="0.70"/>
<circle cx="144.0" cy="620.9" r="0.50" fill="#b4654a" fill-opacity="0.63"/>
<circle cx="153.0" cy="622.2" r="1.00" fill="#9c4a2e" fill-opacity="0.38"/>
<circle cx="154.5" cy="597.2" r="0.85" fill="#9c4a2e" fill-opacity="0.45"/>
<circle cx="140.8" cy="592.3" r="0.50" fill="#9c4a2e" fill-opacity="0.48"/>
<circle cx="143.0" cy="595.8" r="0.40" fill="#b4654a" fill-opacity="0.59"/>
<circle cx="163.3" cy="577.7" r="0.60" fill="#9c4a2e" fill-opacity="0.50"/>
<circle cx="141.9" cy="572.9" r="0.70" fill="#a85a3a" fill-opacity="0.54"/>
<circle cx="173.8" cy="595.1" r="1.00" fill="#8e4228" fill-opacity="0.41"/>
<circle cx="151.8" cy="595.1" r="0.50" fill="#9c4a2e" fill-opacity="0.41"/>
<circle cx="168.5" cy="601.5" r="1.00" fill="#9c4a2e" fill-opacity="0.58"/>
<circle cx="166.6" cy="593.3" r="0.70" fill="#9c4a2e" fill-opacity="0.85"/>
<circle cx="149.8" cy="595.2" r="0.50" fill="#b4654a" fill-opacity="0.37"/>
<circle cx="130.4" cy="608.9" r="0.70" fill="#8e4228" fill-opacity="0.68"/>
<circle cx="131.8" cy="583.4" r="0.85" fill="#8e4228" fill-opacity="0.46"/>
</g>
<circle cx="152.1" cy="596.2" r="27.5" fill="none" stroke="#7a5050" stroke-opacity="0.35" stroke-width="1.4"/>
<circle cx="152.1" cy="596.2" r="27.8" fill="none" stroke="#6654cc" stroke-width="1.7"/>
<circle cx="209.6" cy="596.2" r="27.8" fill="url(#wellg2)"/>
<g filter="url(#bl2)">
<circle cx="220.7" cy="585.1" r="7.0" fill="#b87058" fill-opacity="0.2"/>
<circle cx="219.3" cy="604.5" r="7.0" fill="#b87058" fill-opacity="0.2"/>
<circle cx="216.5" cy="617.1" r="5.6" fill="#b87058" fill-opacity="0.15"/>
<circle cx="201.3" cy="583.7" r="7.0" fill="#b87058" fill-opacity="0.1"/>
</g>
<g filter="url(#bl)">
<circle cx="214.3" cy="579.0" r="1.00" fill="#9c4a2e" fill-opacity="0.76"/>
<circle cx="216.9" cy="572.8" r="0.40" fill="#b4654a" fill-opacity="0.50"/>
<circle cx="212.4" cy="575.7" r="0.40" fill="#a85a3a" fill-opacity="0.47"/>
<circle cx="218.1" cy="582.9" r="0.60" fill="#8e4228" fill-opacity="0.80"/>
<circle cx="219.7" cy="577.8" r="0.70" fill="#b86a50" fill-opacity="0.39"/>
<circle cx="221.5" cy="584.8" r="1.00" fill="#9c4a2e" fill-opacity="0.44"/>
<circle cx="217.2" cy="576.6" r="0.50" fill="#9c4a2e" fill-opacity="0.54"/>
<circle cx="218.8" cy="576.9" r="0.85" fill="#b4654a" fill-opacity="0.53"/>
<circle cx="219.1" cy="580.6" r="0.50" fill="#b86a50" fill-opacity="0.51"/>
<circle cx="220.8" cy="578.6" r="0.70" fill="#a85a3a" fill-opacity="0.41"/>
<circle cx="213.9" cy="578.6" r="0.40" fill="#8e4228" fill-opacity="0.51"/>
<circle cx="221.4" cy="576.0" r="1.00" fill="#8e4228" fill-opacity="0.66"/>
<circle cx="219.1" cy="576.9" r="0.60" fill="#b4654a" fill-opacity="0.57"/>
<circle cx="218.2" cy="579.9" r="0.50" fill="#b4654a" fill-opacity="0.44"/>
<circle cx="218.4" cy="572.8" r="0.50" fill="#a85a3a" fill-opacity="0.76"/>
<circle cx="219.5" cy="578.0" r="0.70" fill="#b4654a" fill-opacity="0.73"/>
<circle cx="220.9" cy="577.1" r="0.50" fill="#b86a50" fill-opacity="0.71"/>
<circle cx="222.7" cy="577.5" r="0.70" fill="#b86a50" fill-opacity="0.38"/>
<circle cx="220.3" cy="578.0" r="0.60" fill="#b4654a" fill-opacity="0.69"/>
<circle cx="217.1" cy="582.3" r="0.85" fill="#a85a3a" fill-opacity="0.67"/>
<circle cx="214.9" cy="573.6" r="0.40" fill="#b86a50" fill-opacity="0.52"/>
<circle cx="222.8" cy="579.3" r="0.50" fill="#b86a50" fill-opacity="0.77"/>
<circle cx="214.8" cy="577.0" r="0.40" fill="#9c4a2e" fill-opacity="0.57"/>
<circle cx="226.8" cy="581.5" r="0.70" fill="#b4654a" fill-opacity="0.50"/>
<circle cx="217.3" cy="578.3" r="0.50" fill="#b86a50" fill-opacity="0.70"/>
<circle cx="212.8" cy="577.4" r="0.60" fill="#a85a3a" fill-opacity="0.71"/>
<circle cx="215.7" cy="579.5" r="0.60" fill="#b86a50" fill-opacity="0.73"/>
<circle cx="211.9" cy="574.6" r="0.85" fill="#b4654a" fill-opacity="0.76"/>
<circle cx="214.1" cy="574.2" r="0.70" fill="#9c4a2e" fill-opacity="0.84"/>
<circle cx="218.6" cy="584.3" r="0.40" fill="#b86a50" fill-opacity="0.79"/>
<circle cx="221.7" cy="579.5" r="0.40" fill="#b86a50" fill-opacity="0.62"/>
<circle cx="216.3" cy="574.7" r="0.70" fill="#b4654a" fill-opacity="0.60"/>
<circle cx="217.3" cy="575.5" r="0.70" fill="#b86a50" fill-opacity="0.65"/>
<circle cx="221.3" cy="578.9" r="0.50" fill="#8e4228" fill-opacity="0.84"/>
<circle cx="220.5" cy="575.3" r="0.70" fill="#a85a3a" fill-opacity="0.51"/>
<circle cx="221.0" cy="576.9" r="0.40" fill="#b4654a" fill-opacity="0.50"/>
<circle cx="214.7" cy="573.5" r="1.00" fill="#a85a3a" fill-opacity="0.67"/>
<circle cx="212.8" cy="578.8" r="0.70" fill="#b86a50" fill-opacity="0.68"/>
<circle cx="225.3" cy="580.3" r="0.50" fill="#b4654a" fill-opacity="0.62"/>
<circle cx="215.2" cy="579.0" r="0.85" fill="#a85a3a" fill-opacity="0.71"/>
<circle cx="214.4" cy="581.2" r="0.50" fill="#b4654a" fill-opacity="0.55"/>
<circle cx="220.2" cy="577.2" r="0.40" fill="#9c4a2e" fill-opacity="0.50"/>
<circle cx="213.4" cy="576.6" r="1.00" fill="#a85a3a" fill-opacity="0.64"/>
<circle cx="221.4" cy="572.9" r="0.50" fill="#8e4228" fill-opacity="0.72"/>
<circle cx="218.1" cy="576.0" r="0.40" fill="#b4654a" fill-opacity="0.73"/>
<circle cx="216.6" cy="585.3" r="0.50" fill="#9c4a2e" fill-opacity="0.50"/>
<circle cx="214.2" cy="578.3" r="0.85" fill="#8e4228" fill-opacity="0.49"/>
<circle cx="215.2" cy="584.7" r="0.70" fill="#b4654a" fill-opacity="0.73"/>
<circle cx="208.8" cy="573.2" r="1.00" fill="#b86a50" fill-opacity="0.52"/>
<circle cx="213.5" cy="575.4" r="1.00" fill="#9c4a2e" fill-opacity="0.46"/>
<circle cx="221.7" cy="592.5" r="0.50" fill="#b4654a" fill-opacity="0.74"/>
<circle cx="225.2" cy="594.4" r="0.70" fill="#b4654a" fill-opacity="0.80"/>
<circle cx="219.7" cy="588.9" r="0.40" fill="#b4654a" fill-opacity="0.49"/>
<circle cx="226.2" cy="581.2" r="0.85" fill="#b4654a" fill-opacity="0.42"/>
<circle cx="220.7" cy="586.5" r="0.60" fill="#9c4a2e" fill-opacity="0.67"/>
<circle cx="221.4" cy="590.1" r="0.60" fill="#9c4a2e" fill-opacity="0.60"/>
<circle cx="218.8" cy="592.0" r="0.70" fill="#b4654a" fill-opacity="0.39"/>
<circle cx="216.8" cy="588.2" r="0.70" fill="#8e4228" fill-opacity="0.50"/>
<circle cx="220.4" cy="590.5" r="0.85" fill="#b86a50" fill-opacity="0.74"/>
<circle cx="218.6" cy="590.1" r="1.00" fill="#9c4a2e" fill-opacity="0.52"/>
<circle cx="219.8" cy="594.2" r="0.85" fill="#b4654a" fill-opacity="0.63"/>
<circle cx="223.7" cy="586.6" r="0.70" fill="#8e4228" fill-opacity="0.51"/>
<circle cx="221.1" cy="594.6" r="0.50" fill="#a85a3a" fill-opacity="0.79"/>
<circle cx="226.1" cy="587.2" r="0.85" fill="#9c4a2e" fill-opacity="0.47"/>
<circle cx="217.8" cy="586.4" r="0.50" fill="#a85a3a" fill-opacity="0.37"/>
<circle cx="222.3" cy="596.6" r="1.00" fill="#b86a50" fill-opacity="0.47"/>
<circle cx="212.9" cy="593.6" r="0.85" fill="#8e4228" fill-opacity="0.53"/>
<circle cx="226.4" cy="582.8" r="0.70" fill="#b4654a" fill-opacity="0.68"/>
<circle cx="225.4" cy="595.9" r="0.50" fill="#a85a3a" fill-opacity="0.56"/>
<circle cx="227.0" cy="597.9" r="0.70" fill="#a85a3a" fill-opacity="0.37"/>
<circle cx="225.1" cy="591.0" r="0.60" fill="#9c4a2e" fill-opacity="0.39"/>
<circle cx="221.1" cy="585.6" r="0.60" fill="#9c4a2e" fill-opacity="0.59"/>
<circle cx="218.8" cy="578.7" r="0.85" fill="#b86a50" fill-opacity="0.79"/>
<circle cx="220.2" cy="592.7" r="1.00" fill="#9c4a2e" fill-opacity="0.61"/>
<circle cx="220.2" cy="586.8" r="0.50" fill="#8e4228" fill-opacity="0.41"/>
<circle cx="222.9" cy="587.3" r="0.50" fill="#b86a50" fill-opacity="0.73"/>
<circle cx="219.1" cy="585.3" r="0.70" fill="#9c4a2e" fill-opacity="0.82"/>
<circle cx="214.9" cy="596.4" r="0.60" fill="#8e4228" fill-opacity="0.45"/>
<circle cx="225.9" cy="589.2" r="0.60" fill="#9c4a2e" fill-opacity="0.83"/>
<circle cx="221.1" cy="587.3" r="0.70" fill="#a85a3a" fill-opacity="0.45"/>
<circle cx="219.6" cy="584.5" r="0.85" fill="#9c4a2e" fill-opacity="0.69"/>
<circle cx="225.3" cy="590.0" r="0.70" fill="#a85a3a" fill-opacity="0.65"/>
<circle cx="220.0" cy="585.9" r="0.40" fill="#b4654a" fill-opacity="0.83"/>
<circle cx="219.0" cy="594.0" r="0.40" fill="#a85a3a" fill-opacity="0.74"/>
<circle cx="225.1" cy="595.8" r="1.00" fill="#b4654a" fill-opacity="0.53"/>
<circle cx="219.5" cy="596.7" r="0.40" fill="#8e4228" fill-opacity="0.40"/>
<circle cx="223.7" cy="591.2" r="0.85" fill="#9c4a2e" fill-opacity="0.50"/>
<circle cx="221.5" cy="588.6" r="1.00" fill="#8e4228" fill-opacity="0.75"/>
<circle cx="219.9" cy="589.4" r="0.70" fill="#8e4228" fill-opacity="0.49"/>
<circle cx="217.8" cy="598.1" r="0.60" fill="#b4654a" fill-opacity="0.76"/>
<circle cx="225.5" cy="586.8" r="0.40" fill="#a85a3a" fill-opacity="0.59"/>
<circle cx="219.5" cy="597.2" r="0.40" fill="#a85a3a" fill-opacity="0.78"/>
<circle cx="230.3" cy="589.5" r="1.00" fill="#b86a50" fill-opacity="0.56"/>
<circle cx="224.1" cy="597.0" r="1.00" fill="#9c4a2e" fill-opacity="0.83"/>
<circle cx="222.9" cy="592.8" r="0.40" fill="#b86a50" fill-opacity="0.70"/>
<circle cx="225.8" cy="586.4" r="1.00" fill="#9c4a2e" fill-opacity="0.65"/>
<circle cx="214.4" cy="592.1" r="0.40" fill="#b86a50" fill-opacity="0.81"/>
<circle cx="220.0" cy="590.2" r="0.70" fill="#b86a50" fill-opacity="0.68"/>
<circle cx="211.8" cy="585.8" r="0.60" fill="#b4654a" fill-opacity="0.81"/>
<circle cx="226.0" cy="577.0" r="0.70" fill="#b86a50" fill-opacity="0.49"/>
<circle cx="221.7" cy="592.9" r="0.40" fill="#b4654a" fill-opacity="0.42"/>
<circle cx="224.5" cy="602.6" r="0.50" fill="#a85a3a" fill-opacity="0.47"/>
<circle cx="224.7" cy="589.4" r="0.40" fill="#b86a50" fill-opacity="0.48"/>
<circle cx="218.0" cy="591.9" r="0.70" fill="#8e4228" fill-opacity="0.53"/>
<circle cx="217.5" cy="583.5" r="0.40" fill="#8e4228" fill-opacity="0.56"/>
<circle cx="227.7" cy="613.4" r="0.40" fill="#b86a50" fill-opacity="0.85"/>
<circle cx="216.8" cy="608.3" r="0.40" fill="#8e4228" fill-opacity="0.83"/>
<circle cx="215.5" cy="602.5" r="1.00" fill="#9c4a2e" fill-opacity="0.55"/>
<circle cx="213.9" cy="609.9" r="0.50" fill="#8e4228" fill-opacity="0.74"/>
<circle cx="223.2" cy="609.2" r="0.50" fill="#a85a3a" fill-opacity="0.74"/>
<circle cx="219.7" cy="607.8" r="0.70" fill="#a85a3a" fill-opacity="0.60"/>
<circle cx="218.4" cy="605.3" r="0.70" fill="#b4654a" fill-opacity="0.48"/>
<circle cx="223.2" cy="598.0" r="0.50" fill="#9c4a2e" fill-opacity="0.58"/>
<circle cx="214.4" cy="601.7" r="1.00" fill="#b4654a" fill-opacity="0.63"/>
<circle cx="211.9" cy="599.9" r="0.85" fill="#b86a50" fill-opacity="0.61"/>
<circle cx="217.0" cy="606.2" r="0.85" fill="#a85a3a" fill-opacity="0.42"/>
<circle cx="212.2" cy="613.0" r="0.40" fill="#b4654a" fill-opacity="0.47"/>
<circle cx="215.6" cy="607.1" r="0.50" fill="#9c4a2e" fill-opacity="0.37"/>
<circle cx="220.3" cy="608.0" r="0.50" fill="#9c4a2e" fill-opacity="0.40"/>
<circle cx="226.6" cy="604.9" r="0.70" fill="#8e4228" fill-opacity="0.78"/>
<circle cx="217.4" cy="601.6" r="1.00" fill="#a85a3a" fill-opacity="0.73"/>
<circle cx="216.8" cy="607.4" r="0.60" fill="#a85a3a" fill-opacity="0.42"/>
<circle cx="217.8" cy="614.1" r="1.00" fill="#b86a50" fill-opacity="0.58"/>
<circle cx="224.0" cy="607.9" r="0.70" fill="#a85a3a" fill-opacity="0.37"/>
<circle cx="218.2" cy="605.9" r="0.85" fill="#a85a3a" fill-opacity="0.75"/>
<circle cx="219.1" cy="615.1" r="0.40" fill="#a85a3a" fill-opacity="0.57"/>
<circle cx="222.4" cy="604.4" r="0.40" fill="#b4654a" fill-opacity="0.67"/>
<circle cx="218.7" cy="611.8" r="0.85" fill="#b86a50" fill-opacity="0.63"/>
<circle cx="214.8" cy="605.0" r="1.00" fill="#9c4a2e" fill-opacity="0.68"/>
<circle cx="214.1" cy="607.4" r="0.85" fill="#9c4a2e" fill-opacity="0.60"/>
<circle cx="224.9" cy="601.8" r="0.70" fill="#b86a50" fill-opacity="0.38"/>
<circle cx="220.3" cy="608.4" r="0.60" fill="#8e4228" fill-opacity="0.66"/>
<circle cx="219.1" cy="597.6" r="0.40" fill="#8e4228" fill-opacity="0.47"/>
<circle cx="218.6" cy="602.3" r="0.85" fill="#b4654a" fill-opacity="0.61"/>
<circle cx="220.9" cy="613.9" r="0.50" fill="#8e4228" fill-opacity="0.48"/>
<circle cx="220.8" cy="610.6" r="0.60" fill="#b86a50" fill-opacity="0.40"/>
<circle cx="218.7" cy="599.6" r="0.40" fill="#b4654a" fill-opacity="0.71"/>
<circle cx="226.9" cy="609.0" r="0.70" fill="#8e4228" fill-opacity="0.57"/>
<circle cx="219.9" cy="604.2" r="0.85" fill="#9c4a2e" fill-opacity="0.53"/>
<circle cx="217.9" cy="606.6" r="0.50" fill="#b86a50" fill-opacity="0.36"/>
<circle cx="227.8" cy="608.2" r="0.40" fill="#b4654a" fill-opacity="0.79"/>
<circle cx="219.1" cy="599.3" r="1.00" fill="#b4654a" fill-opacity="0.80"/>
<circle cx="221.9" cy="608.0" r="0.50" fill="#a85a3a" fill-opacity="0.57"/>
<circle cx="220.2" cy="607.3" r="1.00" fill="#8e4228" fill-opacity="0.57"/>
<circle cx="216.1" cy="608.6" r="0.40" fill="#a85a3a" fill-opacity="0.44"/>
<circle cx="216.4" cy="601.7" r="0.60" fill="#9c4a2e" fill-opacity="0.52"/>
<circle cx="227.4" cy="610.0" r="1.00" fill="#8e4228" fill-opacity="0.81"/>
<circle cx="220.5" cy="606.0" r="0.40" fill="#8e4228" fill-opacity="0.72"/>
<circle cx="220.4" cy="600.2" r="0.40" fill="#8e4228" fill-opacity="0.68"/>
<circle cx="227.2" cy="607.7" r="0.70" fill="#b86a50" fill-opacity="0.42"/>
<circle cx="224.3" cy="597.2" r="1.00" fill="#b86a50" fill-opacity="0.35"/>
<circle cx="214.5" cy="606.3" r="0.70" fill="#a85a3a" fill-opacity="0.60"/>
<circle cx="218.0" cy="607.7" r="1.00" fill="#9c4a2e" fill-opacity="0.64"/>
<circle cx="216.7" cy="609.3" r="0.70" fill="#b4654a" fill-opacity="0.46"/>
<circle cx="225.0" cy="603.9" r="0.60" fill="#9c4a2e" fill-opacity="0.57"/>
<circle cx="210.5" cy="613.5" r="0.50" fill="#b86a50" fill-opacity="0.52"/>
<circle cx="214.2" cy="605.9" r="1.00" fill="#9c4a2e" fill-opacity="0.51"/>
<circle cx="220.8" cy="607.5" r="0.85" fill="#9c4a2e" fill-opacity="0.41"/>
<circle cx="216.7" cy="600.4" r="0.70" fill="#b86a50" fill-opacity="0.44"/>
<circle cx="214.8" cy="608.7" r="0.85" fill="#b4654a" fill-opacity="0.77"/>
<circle cx="223.2" cy="617.9" r="0.70" fill="#9c4a2e" fill-opacity="0.51"/>
<circle cx="209.6" cy="618.1" r="0.50" fill="#a85a3a" fill-opacity="0.78"/>
<circle cx="218.6" cy="614.7" r="0.85" fill="#b86a50" fill-opacity="0.42"/>
<circle cx="213.1" cy="614.9" r="0.85" fill="#b4654a" fill-opacity="0.48"/>
<circle cx="211.5" cy="614.2" r="0.85" fill="#b4654a" fill-opacity="0.57"/>
<circle cx="221.3" cy="617.1" r="1.00" fill="#a85a3a" fill-opacity="0.50"/>
<circle cx="219.7" cy="615.2" r="1.00" fill="#8e4228" fill-opacity="0.46"/>
<circle cx="214.6" cy="617.4" r="0.85" fill="#a85a3a" fill-opacity="0.64"/>
<circle cx="212.6" cy="613.8" r="0.70" fill="#a85a3a" fill-opacity="0.79"/>
<circle cx="219.9" cy="618.0" r="1.00" fill="#b4654a" fill-opacity="0.44"/>
<circle cx="209.5" cy="621.2" r="0.60" fill="#8e4228" fill-opacity="0.78"/>
<circle cx="218.4" cy="612.4" r="0.70" fill="#a85a3a" fill-opacity="0.74"/>
<circle cx="208.7" cy="620.0" r="0.40" fill="#8e4228" fill-opacity="0.76"/>
<circle cx="212.9" cy="613.8" r="1.00" fill="#b4654a" fill-opacity="0.44"/>
<circle cx="219.9" cy="617.8" r="0.85" fill="#b4654a" fill-opacity="0.69"/>
<circle cx="215.4" cy="615.4" r="0.70" fill="#b4654a" fill-opacity="0.76"/>
<circle cx="214.9" cy="612.0" r="0.50" fill="#b4654a" fill-opacity="0.85"/>
<circle cx="216.8" cy="614.6" r="0.70" fill="#b86a50" fill-opacity="0.61"/>
<circle cx="218.7" cy="616.0" r="0.50" fill="#a85a3a" fill-opacity="0.44"/>
<circle cx="220.1" cy="612.3" r="0.60" fill="#b86a50" fill-opacity="0.48"/>
<circle cx="214.2" cy="607.9" r="1.00" fill="#8e4228" fill-opacity="0.44"/>
<circle cx="217.3" cy="612.5" r="0.60" fill="#9c4a2e" fill-opacity="0.46"/>
<circle cx="217.4" cy="615.7" r="0.60" fill="#b86a50" fill-opacity="0.60"/>
<circle cx="208.5" cy="619.6" r="0.85" fill="#a85a3a" fill-opacity="0.84"/>
<circle cx="218.8" cy="616.5" r="0.60" fill="#b4654a" fill-opacity="0.69"/>
<circle cx="208.9" cy="619.1" r="1.00" fill="#9c4a2e" fill-opacity="0.70"/>
<circle cx="219.9" cy="616.4" r="0.85" fill="#9c4a2e" fill-opacity="0.64"/>
<circle cx="213.0" cy="620.0" r="0.40" fill="#a85a3a" fill-opacity="0.63"/>
<circle cx="216.9" cy="616.0" r="0.85" fill="#9c4a2e" fill-opacity="0.76"/>
<circle cx="224.5" cy="617.1" r="0.85" fill="#8e4228" fill-opacity="0.45"/>
<circle cx="213.7" cy="612.0" r="0.70" fill="#b86a50" fill-opacity="0.73"/>
<circle cx="215.8" cy="618.2" r="0.60" fill="#8e4228" fill-opacity="0.37"/>
<circle cx="209.5" cy="622.3" r="0.60" fill="#b4654a" fill-opacity="0.85"/>
<circle cx="215.4" cy="616.8" r="0.40" fill="#8e4228" fill-opacity="0.68"/>
<circle cx="222.4" cy="612.5" r="0.60" fill="#b86a50" fill-opacity="0.50"/>
<circle cx="192.3" cy="585.4" r="0.40" fill="#a85a3a" fill-opacity="0.83"/>
<circle cx="190.7" cy="584.3" r="0.85" fill="#b4654a" fill-opacity="0.49"/>
<circle cx="209.7" cy="589.7" r="0.60" fill="#b86a50" fill-opacity="0.39"/>
<circle cx="204.0" cy="586.6" r="0.40" fill="#9c4a2e" fill-opacity="0.66"/>
<circle cx="202.8" cy="582.9" r="0.60" fill="#b86a50" fill-opacity="0.44"/>
<circle cx="204.9" cy="582.0" r="0.70" fill="#b4654a" fill-opacity="0.82"/>
<circle cx="204.1" cy="582.1" r="0.50" fill="#a85a3a" fill-opacity="0.78"/>
<circle cx="195.0" cy="585.6" r="1.00" fill="#b86a50" fill-opacity="0.61"/>
<circle cx="206.7" cy="572.8" r="0.50" fill="#b86a50" fill-opacity="0.79"/>
<circle cx="204.2" cy="583.4" r="0.40" fill="#b86a50" fill-opacity="0.44"/>
<circle cx="204.7" cy="589.7" r="0.50" fill="#b4654a" fill-opacity="0.61"/>
<circle cx="198.8" cy="585.1" r="0.70" fill="#a85a3a" fill-opacity="0.63"/>
<circle cx="198.6" cy="579.6" r="1.00" fill="#8e4228" fill-opacity="0.80"/>
<circle cx="203.9" cy="578.4" r="0.70" fill="#a85a3a" fill-opacity="0.37"/>
<circle cx="204.4" cy="589.0" r="0.40" fill="#9c4a2e" fill-opacity="0.68"/>
<circle cx="199.0" cy="585.4" r="0.50" fill="#9c4a2e" fill-opacity="0.65"/>
<circle cx="200.9" cy="582.9" r="0.50" fill="#a85a3a" fill-opacity="0.50"/>
<circle cx="203.9" cy="581.7" r="1.00" fill="#9c4a2e" fill-opacity="0.60"/>
<circle cx="201.0" cy="584.1" r="0.50" fill="#8e4228" fill-opacity="0.67"/>
<circle cx="197.2" cy="589.8" r="0.85" fill="#b4654a" fill-opacity="0.51"/>
<circle cx="208.6" cy="580.7" r="0.50" fill="#8e4228" fill-opacity="0.43"/>
<circle cx="203.7" cy="578.8" r="0.70" fill="#a85a3a" fill-opacity="0.41"/>
<circle cx="199.0" cy="584.3" r="0.70" fill="#a85a3a" fill-opacity="0.63"/>
<circle cx="198.4" cy="585.2" r="0.85" fill="#a85a3a" fill-opacity="0.55"/>
<circle cx="204.7" cy="593.0" r="0.40" fill="#b86a50" fill-opacity="0.51"/>
<circle cx="213.4" cy="584.1" r="0.70" fill="#9c4a2e" fill-opacity="0.73"/>
<circle cx="198.9" cy="584.9" r="0.85" fill="#b86a50" fill-opacity="0.74"/>
<circle cx="199.5" cy="584.1" r="0.85" fill="#9c4a2e" fill-opacity="0.63"/>
<circle cx="208.6" cy="581.7" r="0.85" fill="#9c4a2e" fill-opacity="0.43"/>
<circle cx="205.4" cy="586.5" r="0.60" fill="#b4654a" fill-opacity="0.78"/>
<circle cx="215.7" cy="615.5" r="0.40" fill="#b86a50" fill-opacity="0.40"/>
<circle cx="195.3" cy="602.3" r="0.50" fill="#8e4228" fill-opacity="0.75"/>
<circle cx="194.4" cy="600.7" r="0.60" fill="#b4654a" fill-opacity="0.38"/>
<circle cx="224.2" cy="576.3" r="1.00" fill="#b4654a" fill-opacity="0.70"/>
<circle cx="225.2" cy="603.2" r="0.60" fill="#b4654a" fill-opacity="0.52"/>
<circle cx="207.2" cy="604.9" r="0.50" fill="#8e4228" fill-opacity="0.58"/>
<circle cx="193.4" cy="603.0" r="0.40" fill="#b4654a" fill-opacity="0.50"/>
<circle cx="219.0" cy="619.0" r="1.00" fill="#b86a50" fill-opacity="0.40"/>
<circle cx="213.7" cy="582.2" r="0.60" fill="#9c4a2e" fill-opacity="0.53"/>
<circle cx="203.9" cy="590.7" r="1.00" fill="#b86a50" fill-opacity="0.55"/>
<circle cx="214.5" cy="600.7" r="0.60" fill="#b86a50" fill-opacity="0.63"/>
<circle cx="193.4" cy="602.2" r="0.60" fill="#8e4228" fill-opacity="0.49"/>
<circle cx="193.0" cy="596.8" r="0.40" fill="#b4654a" fill-opacity="0.66"/>
<circle cx="212.1" cy="618.2" r="1.00" fill="#a85a3a" fill-opacity="0.68"/>
<circle cx="197.7" cy="581.6" r="0.70" fill="#9c4a2e" fill-opacity="0.37"/>
<circle cx="210.4" cy="598.1" r="0.85" fill="#b4654a" fill-opacity="0.63"/>
<circle cx="227.2" cy="579.7" r="0.85" fill="#a85a3a" fill-opacity="0.56"/>
<circle cx="224.7" cy="592.8" r="0.85" fill="#b86a50" fill-opacity="0.39"/>
<circle cx="197.2" cy="580.9" r="0.50" fill="#9c4a2e" fill-opacity="0.69"/>
<circle cx="208.3" cy="588.6" r="1.00" fill="#8e4228" fill-opacity="0.67"/>
<circle cx="201.5" cy="602.7" r="1.00" fill="#9c4a2e" fill-opacity="0.82"/>
<circle cx="201.6" cy="601.3" r="0.40" fill="#a85a3a" fill-opacity="0.36"/>
<circle cx="198.7" cy="617.7" r="0.50" fill="#a85a3a" fill-opacity="0.54"/>
<circle cx="203.8" cy="620.2" r="0.50" fill="#a85a3a" fill-opacity="0.78"/>
<circle cx="212.7" cy="576.2" r="1.00" fill="#b86a50" fill-opacity="0.55"/>
<circle cx="193.7" cy="582.7" r="0.70" fill="#b4654a" fill-opacity="0.35"/>
<circle cx="215.8" cy="608.0" r="0.50" fill="#b4654a" fill-opacity="0.50"/>
<circle cx="206.3" cy="596.2" r="1.00" fill="#8e4228" fill-opacity="0.81"/>
<circle cx="203.6" cy="573.4" r="0.40" fill="#b4654a" fill-opacity="0.57"/>
<circle cx="206.6" cy="615.3" r="0.50" fill="#b86a50" fill-opacity="0.58"/>
<circle cx="184.9" cy="596.7" r="0.85" fill="#b86a50" fill-opacity="0.75"/>
<circle cx="221.7" cy="583.9" r="0.85" fill="#b4654a" fill-opacity="0.83"/>
<circle cx="235.7" cy="599.5" r="0.40" fill="#8e4228" fill-opacity="0.63"/>
<circle cx="206.6" cy="574.3" r="0.85" fill="#a85a3a" fill-opacity="0.35"/>
<circle cx="206.3" cy="588.9" r="0.70" fill="#8e4228" fill-opacity="0.54"/>
<circle cx="192.4" cy="576.3" r="0.40" fill="#8e4228" fill-opacity="0.37"/>
<circle cx="205.2" cy="607.3" r="0.40" fill="#8e4228" fill-opacity="0.39"/>
<circle cx="194.7" cy="611.7" r="0.85" fill="#8e4228" fill-opacity="0.51"/>
<circle cx="202.6" cy="579.8" r="0.60" fill="#8e4228" fill-opacity="0.67"/>
<circle cx="194.5" cy="602.9" r="0.70" fill="#b86a50" fill-opacity="0.77"/>
<circle cx="211.8" cy="610.7" r="0.85" fill="#8e4228" fill-opacity="0.64"/>
<circle cx="226.8" cy="611.3" r="0.85" fill="#b86a50" fill-opacity="0.62"/>
<circle cx="211.2" cy="570.7" r="0.70" fill="#a85a3a" fill-opacity="0.76"/>
<circle cx="199.0" cy="579.3" r="0.40" fill="#8e4228" fill-opacity="0.41"/>
<circle cx="200.9" cy="586.6" r="0.60" fill="#a85a3a" fill-opacity="0.62"/>
<circle cx="196.5" cy="582.7" r="1.00" fill="#a85a3a" fill-opacity="0.83"/>
<circle cx="224.7" cy="595.3" r="0.50" fill="#a85a3a" fill-opacity="0.46"/>
<circle cx="189.7" cy="613.6" r="0.40" fill="#8e4228" fill-opacity="0.49"/>
<circle cx="209.0" cy="591.1" r="0.40" fill="#9c4a2e" fill-opacity="0.61"/>
<circle cx="190.7" cy="596.3" r="0.60" fill="#b86a50" fill-opacity="0.54"/>
</g>
<circle cx="209.6" cy="596.2" r="27.5" fill="none" stroke="#7a5050" stroke-opacity="0.35" stroke-width="1.4"/>
<circle cx="209.6" cy="596.2" r="27.8" fill="none" stroke="#6654cc" stroke-width="1.7"/>
</g>
<text x="242.00" y="538.20" font-size="9" fill="#da4c62" stroke="#da4c62" stroke-width="0.25" text-anchor="start" font-weight="normal" >HK1-EBV-Vector</text>
<text x="242.00" y="599.20" font-size="9" fill="#6654cc" stroke="#6654cc" stroke-width="0.25" text-anchor="start" font-weight="normal" >HK1-EBV-sgB7-H3</text>
<circle cx="337.30" cy="503.00" r="1.2" fill="#da4c62"/>
<text x="341.30" y="506.20" font-size="9" fill="#da4c62" stroke="#da4c62" stroke-width="0.25" text-anchor="start" font-weight="normal" >HK1-EBV-Vector</text>
<circle cx="337.30" cy="518.00" r="1.2" fill="#6654cc"/>
<text x="341.30" y="521.20" font-size="9" fill="#6654cc" stroke="#6654cc" stroke-width="0.25" text-anchor="start" font-weight="normal" >HK1-EBV-sgB7-H3</text>
<line x1="419.50" y1="500.00" x2="419.50" y2="519.50" stroke="#1c1c1c" stroke-width="1.1" />
<text x="423.50" y="512.70" font-size="9" fill="#1c1c1c" stroke="#1c1c1c" stroke-width="0.25" text-anchor="start" font-weight="normal" >+NK</text>
<line x1="366.20" y1="539.60" x2="366.20" y2="630.50" stroke="#1c1c1c" stroke-width="1.1" />
<line x1="365.80" y1="630.00" x2="439.40" y2="630.00" stroke="#1c1c1c" stroke-width="1.1" />
<line x1="361.30" y1="630.00" x2="366.50" y2="630.00" stroke="#1c1c1c" stroke-width="1.1" />
<text x="360.50" y="633.30" font-size="9" fill="#1c1c1c" stroke="#1c1c1c" stroke-width="0.25" text-anchor="end" font-weight="normal" >0</text>
<line x1="361.30" y1="585.00" x2="366.50" y2="585.00" stroke="#1c1c1c" stroke-width="1.1" />
<text x="360.50" y="588.30" font-size="9" fill="#1c1c1c" stroke="#1c1c1c" stroke-width="0.25" text-anchor="end" font-weight="normal" >100</text>
<line x1="361.30" y1="540.00" x2="366.50" y2="540.00" stroke="#1c1c1c" stroke-width="1.1" />
<text x="360.50" y="543.30" font-size="9" fill="#1c1c1c" stroke="#1c1c1c" stroke-width="0.25" text-anchor="end" font-weight="normal" >200</text>
<line x1="388.00" y1="630.00" x2="388.00" y2="634.00" stroke="#1c1c1c" stroke-width="1.1" />
<line x1="418.60" y1="630.00" x2="418.60" y2="634.00" stroke="#1c1c1c" stroke-width="1.1" />
<rect x="377.6" y="589.6" width="20.2" height="40.4" fill="#fff" stroke="#1c1c1c" stroke-width="1.1"/>
<rect x="408.8" y="551.2" width="20.2" height="78.8" fill="#fff" stroke="#1c1c1c" stroke-width="1.1"/>
<text x="0.00" y="0.00" font-size="9" fill="#1c1c1c" stroke="#1c1c1c" stroke-width="0.25" text-anchor="middle" font-weight="normal" transform="translate(342,585) rotate(-90)">Spots per well</text>
<line x1="385.80" y1="538.70" x2="417.00" y2="538.70" stroke="#1c1c1c" stroke-width="1.1" />
<text x="401.60" y="538.20" font-size="8.4" fill="#1c1c1c" stroke="#1c1c1c" stroke-width="0.25" text-anchor="middle" font-weight="normal" >***</text>
<line x1="388.00" y1="582.30" x2="388.00" y2="595.40" stroke="#e2384a" stroke-width="1.1" />
<line x1="383.30" y1="582.30" x2="392.90" y2="582.30" stroke="#e2384a" stroke-width="1.1" />
<line x1="383.30" y1="595.40" x2="392.90" y2="595.40" stroke="#e2384a" stroke-width="1.1" />
<circle cx="388.00" cy="581.50" r="1.8" fill="#e2384a"/>
<circle cx="388.00" cy="588.70" r="1.8" fill="#e2384a"/>
<circle cx="385.80" cy="592.50" r="1.8" fill="#e2384a"/>
<circle cx="390.00" cy="595.40" r="1.8" fill="#e2384a"/>
<line x1="418.60" y1="546.30" x2="418.60" y2="555.40" stroke="#3c3cdc" stroke-width="1.1" />
<line x1="414.60" y1="546.30" x2="423.70" y2="546.30" stroke="#3c3cdc" stroke-width="1.1" />
<line x1="414.60" y1="555.40" x2="423.70" y2="555.40" stroke="#3c3cdc" stroke-width="1.1" />
<circle cx="418.50" cy="545.00" r="1.8" fill="#3c3cdc"/>
<circle cx="416.50" cy="550.80" r="1.8" fill="#3c3cdc"/>
<circle cx="419.80" cy="551.50" r="1.8" fill="#3c3cdc"/>
<circle cx="418.50" cy="556.00" r="1.8" fill="#3c3cdc"/>
</svg>
</body></html>
